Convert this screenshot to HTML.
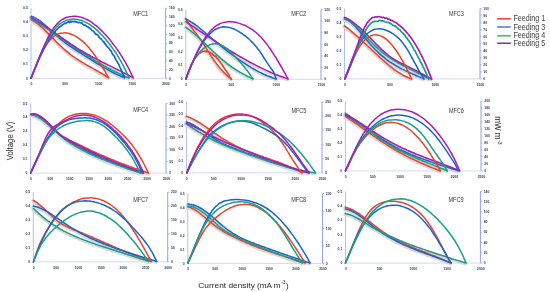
<!DOCTYPE html><html><head><meta charset="utf-8"><style>html,body{margin:0;padding:0;background:#fff;}svg{display:block;}text{font-family:"Liberation Sans",Arial,sans-serif;} .t{font-weight:bold;}</style></head><body>
<svg width="550" height="292" viewBox="0 0 550 292">
<rect width="550" height="292" fill="#fff"/>
<g><line x1="31.00" y1="78.40" x2="165.60" y2="78.40" stroke="#d3d9f3" stroke-width="1"/><line x1="31.00" y1="8.20" x2="31.00" y2="78.40" stroke="#b3c0ec" stroke-width="1"/><line x1="165.60" y1="8.20" x2="165.60" y2="78.40" stroke="#8ea4e4" stroke-width="1"/><line x1="165.60" y1="78.40" x2="167.10" y2="78.40" stroke="#8ea4e4" stroke-width="0.8"/><text x="168.90" y="79.50" font-size="4.40" fill="#3a4060" class="t" textLength="1.88" lengthAdjust="spacingAndGlyphs">0</text><line x1="165.60" y1="69.62" x2="167.10" y2="69.62" stroke="#8ea4e4" stroke-width="0.8"/><text x="168.90" y="70.72" font-size="4.40" fill="#3a4060" class="t" textLength="3.77" lengthAdjust="spacingAndGlyphs">20</text><line x1="165.60" y1="60.85" x2="167.10" y2="60.85" stroke="#8ea4e4" stroke-width="0.8"/><text x="168.90" y="61.95" font-size="4.40" fill="#3a4060" class="t" textLength="3.77" lengthAdjust="spacingAndGlyphs">40</text><line x1="165.60" y1="52.08" x2="167.10" y2="52.08" stroke="#8ea4e4" stroke-width="0.8"/><text x="168.90" y="53.18" font-size="4.40" fill="#3a4060" class="t" textLength="3.77" lengthAdjust="spacingAndGlyphs">60</text><line x1="165.60" y1="43.30" x2="167.10" y2="43.30" stroke="#8ea4e4" stroke-width="0.8"/><text x="168.90" y="44.40" font-size="4.40" fill="#3a4060" class="t" textLength="3.77" lengthAdjust="spacingAndGlyphs">80</text><line x1="165.60" y1="34.53" x2="167.10" y2="34.53" stroke="#8ea4e4" stroke-width="0.8"/><text x="168.90" y="35.63" font-size="4.40" fill="#3a4060" class="t" textLength="5.65" lengthAdjust="spacingAndGlyphs">100</text><line x1="165.60" y1="25.75" x2="167.10" y2="25.75" stroke="#8ea4e4" stroke-width="0.8"/><text x="168.90" y="26.85" font-size="4.40" fill="#3a4060" class="t" textLength="5.65" lengthAdjust="spacingAndGlyphs">120</text><line x1="165.60" y1="16.98" x2="167.10" y2="16.98" stroke="#8ea4e4" stroke-width="0.8"/><text x="168.90" y="18.08" font-size="4.40" fill="#3a4060" class="t" textLength="5.65" lengthAdjust="spacingAndGlyphs">140</text><line x1="165.60" y1="8.20" x2="167.10" y2="8.20" stroke="#8ea4e4" stroke-width="0.8"/><text x="168.90" y="9.30" font-size="4.40" fill="#3a4060" class="t" textLength="5.65" lengthAdjust="spacingAndGlyphs">160</text><text x="25.92" y="79.50" font-size="4.40" fill="#3a4060" class="t" textLength="1.88" lengthAdjust="spacingAndGlyphs">0</text><text x="23.09" y="65.46" font-size="4.40" fill="#3a4060" class="t" textLength="4.71" lengthAdjust="spacingAndGlyphs">0.1</text><text x="23.09" y="51.42" font-size="4.40" fill="#3a4060" class="t" textLength="4.71" lengthAdjust="spacingAndGlyphs">0.2</text><text x="23.09" y="37.38" font-size="4.40" fill="#3a4060" class="t" textLength="4.71" lengthAdjust="spacingAndGlyphs">0.3</text><text x="23.09" y="23.34" font-size="4.40" fill="#3a4060" class="t" textLength="4.71" lengthAdjust="spacingAndGlyphs">0.4</text><text x="23.09" y="9.30" font-size="4.40" fill="#3a4060" class="t" textLength="4.71" lengthAdjust="spacingAndGlyphs">0.5</text><text x="30.46" y="85.00" font-size="4.40" fill="#3a4060" class="t" textLength="1.88" lengthAdjust="spacingAndGlyphs">0</text><text x="62.22" y="85.00" font-size="4.40" fill="#3a4060" class="t" textLength="5.65" lengthAdjust="spacingAndGlyphs">500</text><text x="94.93" y="85.00" font-size="4.40" fill="#3a4060" class="t" textLength="7.53" lengthAdjust="spacingAndGlyphs">1000</text><text x="128.58" y="85.00" font-size="4.40" fill="#3a4060" class="t" textLength="7.53" lengthAdjust="spacingAndGlyphs">1500</text><text x="162.23" y="85.00" font-size="4.40" fill="#3a4060" class="t" textLength="7.53" lengthAdjust="spacingAndGlyphs">2000</text><text x="133.20" y="16.40" font-size="6.4" fill="#363636" textLength="15.0" lengthAdjust="spacingAndGlyphs">MFC1</text><path d="M31.1 19.8 C31.6 20.1 33.2 20.9 34.3 21.5 C35.4 22.2 36.5 22.9 37.6 23.7 C38.6 24.5 39.7 25.4 40.8 26.4 C41.9 27.3 42.9 28.3 44.0 29.3 C45.1 30.4 46.1 31.4 47.2 32.5 C48.3 33.6 49.4 34.7 50.5 35.8 C51.5 36.9 52.6 38.0 53.7 39.1 C54.8 40.2 55.8 41.3 56.9 42.4 C58.0 43.5 59.0 44.5 60.1 45.5 C61.2 46.6 62.3 47.6 63.4 48.5 C64.4 49.5 65.5 50.4 66.6 51.3 C67.7 52.2 68.7 53.1 69.8 54.0 C70.9 54.8 72.0 55.6 73.0 56.4 C74.1 57.2 75.2 57.9 76.2 58.6 C77.3 59.3 78.4 60.0 79.5 60.7 C80.5 61.4 81.6 62.0 82.7 62.7 C83.8 63.3 84.9 64.0 85.9 64.6 C87.0 65.2 88.1 65.8 89.2 66.4 C90.2 67.0 91.3 67.6 92.4 68.2 C93.5 68.8 94.5 69.4 95.6 70.0 C96.7 70.6 97.8 71.2 98.8 71.8 C99.9 72.4 101.0 73.1 102.1 73.7 C103.1 74.4 104.2 75.0 105.3 75.7 C106.4 76.4 108.0 77.4 108.5 77.8" fill="none" stroke="#d8d8d8" stroke-width="3.2" stroke-linejoin="round" stroke-linecap="round" transform="translate(-0.6,0.8)"/><path d="M31.1 18.7 C31.6 19.0 33.2 20.0 34.3 20.6 C35.3 21.3 36.4 21.9 37.4 22.6 C38.5 23.3 39.5 23.9 40.6 24.6 C41.6 25.3 42.7 26.0 43.7 26.7 C44.8 27.3 45.8 28.0 46.9 28.7 C47.9 29.4 49.0 30.1 50.0 30.8 C51.1 31.5 52.2 32.3 53.2 33.0 C54.3 33.7 55.3 34.4 56.4 35.1 C57.4 35.8 58.5 36.5 59.5 37.3 C60.6 38.0 61.6 38.7 62.7 39.4 C63.7 40.1 64.8 40.8 65.8 41.6 C66.9 42.3 67.9 43.0 69.0 43.7 C70.0 44.4 71.1 45.1 72.2 45.8 C73.2 46.6 74.3 47.3 75.3 48.0 C76.4 48.7 77.4 49.4 78.5 50.1 C79.5 50.7 80.6 51.4 81.6 52.1 C82.7 52.8 83.7 53.5 84.8 54.2 C85.8 54.8 86.9 55.5 87.9 56.2 C89.0 56.8 90.1 57.5 91.1 58.1 C92.2 58.8 93.2 59.4 94.3 60.0 C95.3 60.7 96.4 61.3 97.4 61.9 C98.5 62.5 99.5 63.2 100.6 63.8 C101.6 64.4 102.7 65.0 103.7 65.6 C104.8 66.2 105.8 66.7 106.9 67.3 C107.9 67.9 109.0 68.5 110.1 69.0 C111.1 69.6 112.2 70.1 113.2 70.7 C114.3 71.2 115.3 71.7 116.4 72.2 C117.4 72.8 118.5 73.3 119.5 73.8 C120.6 74.3 121.6 74.8 122.7 75.2 C123.7 75.7 124.8 76.2 125.8 76.7 C126.9 77.1 128.5 77.8 129.0 78.0" fill="none" stroke="#d8d8d8" stroke-width="3.2" stroke-linejoin="round" stroke-linecap="round" transform="translate(-0.6,0.8)"/><path d="M31.1 16.3 C31.6 16.5 33.2 16.9 34.2 17.4 C35.3 17.8 36.3 18.4 37.3 19.1 C38.4 19.7 39.4 20.5 40.4 21.2 C41.5 22.0 42.5 22.9 43.6 23.8 C44.6 24.7 45.6 25.6 46.7 26.6 C47.7 27.5 48.7 28.5 49.8 29.5 C50.8 30.4 51.9 31.4 52.9 32.4 C53.9 33.3 55.0 34.3 56.0 35.2 C57.0 36.1 58.1 37.0 59.1 37.9 C60.2 38.8 61.2 39.6 62.2 40.5 C63.3 41.3 64.3 42.1 65.3 42.8 C66.4 43.6 67.4 44.3 68.5 45.1 C69.5 45.8 70.5 46.5 71.6 47.2 C72.6 47.9 73.6 48.6 74.7 49.3 C75.7 49.9 76.8 50.6 77.8 51.3 C78.8 51.9 79.9 52.6 80.9 53.2 C82.0 53.9 83.0 54.6 84.0 55.2 C85.1 55.9 86.1 56.6 87.1 57.2 C88.2 57.9 89.2 58.5 90.3 59.2 C91.3 59.8 92.3 60.5 93.4 61.1 C94.4 61.8 95.4 62.4 96.5 63.1 C97.5 63.7 98.6 64.3 99.6 64.9 C100.6 65.6 101.7 66.2 102.7 66.8 C103.7 67.4 104.8 68.0 105.8 68.6 C106.9 69.2 107.9 69.7 108.9 70.3 C110.0 70.9 111.0 71.4 112.0 72.0 C113.1 72.5 114.1 73.0 115.2 73.6 C116.2 74.1 117.2 74.6 118.3 75.1 C119.3 75.5 120.3 76.0 121.4 76.5 C122.4 76.9 124.0 77.6 124.5 77.8" fill="none" stroke="#d8d8d8" stroke-width="3.2" stroke-linejoin="round" stroke-linecap="round" transform="translate(-0.6,0.8)"/><path d="M31.1 17.5 C31.6 17.8 33.2 18.6 34.2 19.2 C35.2 19.8 36.3 20.5 37.3 21.1 C38.3 21.7 39.4 22.4 40.4 23.0 C41.4 23.7 42.4 24.3 43.5 25.0 C44.5 25.7 45.5 26.4 46.6 27.1 C47.6 27.8 48.6 28.5 49.7 29.2 C50.7 29.9 51.7 30.6 52.8 31.3 C53.8 32.0 54.8 32.8 55.9 33.5 C56.9 34.2 57.9 34.9 58.9 35.7 C60.0 36.4 61.0 37.1 62.0 37.8 C63.1 38.6 64.1 39.3 65.1 40.0 C66.2 40.7 67.2 41.4 68.2 42.1 C69.3 42.9 70.3 43.6 71.3 44.3 C72.4 44.9 73.4 45.6 74.4 46.3 C75.4 47.0 76.5 47.7 77.5 48.3 C78.5 49.0 79.6 49.6 80.6 50.3 C81.6 50.9 82.7 51.5 83.7 52.1 C84.7 52.7 85.8 53.3 86.8 53.9 C87.8 54.5 88.9 55.1 89.9 55.6 C90.9 56.2 91.9 56.7 93.0 57.3 C94.0 57.8 95.0 58.4 96.1 58.9 C97.1 59.4 98.1 60.0 99.2 60.5 C100.2 61.0 101.2 61.5 102.3 62.1 C103.3 62.6 104.3 63.1 105.4 63.6 C106.4 64.1 107.4 64.6 108.4 65.1 C109.5 65.6 110.5 66.1 111.5 66.6 C112.6 67.1 113.6 67.6 114.6 68.1 C115.7 68.7 116.7 69.2 117.7 69.7 C118.8 70.2 119.8 70.7 120.8 71.2 C121.9 71.8 122.9 72.3 123.9 72.8 C124.9 73.3 126.0 73.9 127.0 74.4 C128.0 75.0 129.1 75.5 130.1 76.1 C131.1 76.6 132.7 77.5 133.2 77.8" fill="none" stroke="#d8d8d8" stroke-width="3.2" stroke-linejoin="round" stroke-linecap="round" transform="translate(-0.6,0.8)"/><path d="M31.1 19.8 C31.6 20.1 33.2 20.9 34.3 21.5 C35.4 22.2 36.5 22.9 37.6 23.7 C38.6 24.5 39.7 25.4 40.8 26.4 C41.9 27.3 42.9 28.3 44.0 29.3 C45.1 30.4 46.1 31.4 47.2 32.5 C48.3 33.6 49.4 34.7 50.5 35.8 C51.5 36.9 52.6 38.0 53.7 39.1 C54.8 40.2 55.8 41.3 56.9 42.4 C58.0 43.5 59.0 44.5 60.1 45.5 C61.2 46.6 62.3 47.6 63.4 48.5 C64.4 49.5 65.5 50.4 66.6 51.3 C67.7 52.2 68.7 53.1 69.8 54.0 C70.9 54.8 72.0 55.6 73.0 56.4 C74.1 57.2 75.2 57.9 76.2 58.6 C77.3 59.3 78.4 60.0 79.5 60.7 C80.5 61.4 81.6 62.0 82.7 62.7 C83.8 63.3 84.9 64.0 85.9 64.6 C87.0 65.2 88.1 65.8 89.2 66.4 C90.2 67.0 91.3 67.6 92.4 68.2 C93.5 68.8 94.5 69.4 95.6 70.0 C96.7 70.6 97.8 71.2 98.8 71.8 C99.9 72.4 101.0 73.1 102.1 73.7 C103.1 74.4 104.2 75.0 105.3 75.7 C106.4 76.4 108.0 77.4 108.5 77.8" fill="none" stroke="#f0402a" stroke-width="1.5" stroke-linejoin="round" stroke-linecap="round"/><path d="M31.1 16.3 C31.6 16.5 33.2 16.9 34.2 17.4 C35.3 17.8 36.3 18.4 37.3 19.1 C38.4 19.7 39.4 20.5 40.4 21.2 C41.5 22.0 42.5 22.9 43.6 23.8 C44.6 24.7 45.6 25.6 46.7 26.6 C47.7 27.5 48.7 28.5 49.8 29.5 C50.8 30.4 51.9 31.4 52.9 32.4 C53.9 33.3 55.0 34.3 56.0 35.2 C57.0 36.1 58.1 37.0 59.1 37.9 C60.2 38.8 61.2 39.6 62.2 40.5 C63.3 41.3 64.3 42.1 65.3 42.8 C66.4 43.6 67.4 44.3 68.5 45.1 C69.5 45.8 70.5 46.5 71.6 47.2 C72.6 47.9 73.6 48.6 74.7 49.3 C75.7 49.9 76.8 50.6 77.8 51.3 C78.8 51.9 79.9 52.6 80.9 53.2 C82.0 53.9 83.0 54.6 84.0 55.2 C85.1 55.9 86.1 56.6 87.1 57.2 C88.2 57.9 89.2 58.5 90.3 59.2 C91.3 59.8 92.3 60.5 93.4 61.1 C94.4 61.8 95.4 62.4 96.5 63.1 C97.5 63.7 98.6 64.3 99.6 64.9 C100.6 65.6 101.7 66.2 102.7 66.8 C103.7 67.4 104.8 68.0 105.8 68.6 C106.9 69.2 107.9 69.7 108.9 70.3 C110.0 70.9 111.0 71.4 112.0 72.0 C113.1 72.5 114.1 73.0 115.2 73.6 C116.2 74.1 117.2 74.6 118.3 75.1 C119.3 75.5 120.3 76.0 121.4 76.5 C122.4 76.9 124.0 77.6 124.5 77.8" fill="none" stroke="#1765cf" stroke-width="1.5" stroke-linejoin="round" stroke-linecap="round"/><path d="M31.1 18.7 C31.6 19.0 33.2 20.0 34.3 20.6 C35.3 21.3 36.4 21.9 37.4 22.6 C38.5 23.3 39.5 23.9 40.6 24.6 C41.6 25.3 42.7 26.0 43.7 26.7 C44.8 27.3 45.8 28.0 46.9 28.7 C47.9 29.4 49.0 30.1 50.0 30.8 C51.1 31.5 52.2 32.3 53.2 33.0 C54.3 33.7 55.3 34.4 56.4 35.1 C57.4 35.8 58.5 36.5 59.5 37.3 C60.6 38.0 61.6 38.7 62.7 39.4 C63.7 40.1 64.8 40.8 65.8 41.6 C66.9 42.3 67.9 43.0 69.0 43.7 C70.0 44.4 71.1 45.1 72.2 45.8 C73.2 46.6 74.3 47.3 75.3 48.0 C76.4 48.7 77.4 49.4 78.5 50.1 C79.5 50.7 80.6 51.4 81.6 52.1 C82.7 52.8 83.7 53.5 84.8 54.2 C85.8 54.8 86.9 55.5 87.9 56.2 C89.0 56.8 90.1 57.5 91.1 58.1 C92.2 58.8 93.2 59.4 94.3 60.0 C95.3 60.7 96.4 61.3 97.4 61.9 C98.5 62.5 99.5 63.2 100.6 63.8 C101.6 64.4 102.7 65.0 103.7 65.6 C104.8 66.2 105.8 66.7 106.9 67.3 C107.9 67.9 109.0 68.5 110.1 69.0 C111.1 69.6 112.2 70.1 113.2 70.7 C114.3 71.2 115.3 71.7 116.4 72.2 C117.4 72.8 118.5 73.3 119.5 73.8 C120.6 74.3 121.6 74.8 122.7 75.2 C123.7 75.7 124.8 76.2 125.8 76.7 C126.9 77.1 128.5 77.8 129.0 78.0" fill="none" stroke="#16a085" stroke-width="1.5" stroke-linejoin="round" stroke-linecap="round"/><path d="M31.1 17.5 C31.6 17.8 33.2 18.6 34.2 19.2 C35.2 19.8 36.3 20.5 37.3 21.1 C38.3 21.7 39.4 22.4 40.4 23.0 C41.4 23.7 42.4 24.3 43.5 25.0 C44.5 25.7 45.5 26.4 46.6 27.1 C47.6 27.8 48.6 28.5 49.7 29.2 C50.7 29.9 51.7 30.6 52.8 31.3 C53.8 32.0 54.8 32.8 55.9 33.5 C56.9 34.2 57.9 34.9 58.9 35.7 C60.0 36.4 61.0 37.1 62.0 37.8 C63.1 38.6 64.1 39.3 65.1 40.0 C66.2 40.7 67.2 41.4 68.2 42.1 C69.3 42.9 70.3 43.6 71.3 44.3 C72.4 44.9 73.4 45.6 74.4 46.3 C75.4 47.0 76.5 47.7 77.5 48.3 C78.5 49.0 79.6 49.6 80.6 50.3 C81.6 50.9 82.7 51.5 83.7 52.1 C84.7 52.7 85.8 53.3 86.8 53.9 C87.8 54.5 88.9 55.1 89.9 55.6 C90.9 56.2 91.9 56.7 93.0 57.3 C94.0 57.8 95.0 58.4 96.1 58.9 C97.1 59.4 98.1 60.0 99.2 60.5 C100.2 61.0 101.2 61.5 102.3 62.1 C103.3 62.6 104.3 63.1 105.4 63.6 C106.4 64.1 107.4 64.6 108.4 65.1 C109.5 65.6 110.5 66.1 111.5 66.6 C112.6 67.1 113.6 67.6 114.6 68.1 C115.7 68.7 116.7 69.2 117.7 69.7 C118.8 70.2 119.8 70.7 120.8 71.2 C121.9 71.8 122.9 72.3 123.9 72.8 C124.9 73.3 126.0 73.9 127.0 74.4 C128.0 75.0 129.1 75.5 130.1 76.1 C131.1 76.6 132.7 77.5 133.2 77.8" fill="none" stroke="#ac1ab8" stroke-width="1.5" stroke-linejoin="round" stroke-linecap="round"/><path d="M31.1 78.2 C31.6 76.9 33.2 72.8 34.3 70.2 C35.4 67.6 36.5 65.0 37.6 62.5 C38.6 60.0 39.7 57.6 40.8 55.3 C41.9 53.1 42.9 50.9 44.0 48.9 C45.1 47.0 46.1 45.2 47.2 43.6 C48.3 42.0 49.4 40.6 50.5 39.4 C51.5 38.2 52.6 37.2 53.7 36.3 C54.8 35.5 55.8 34.9 56.9 34.4 C58.0 33.8 59.0 33.5 60.1 33.3 C61.2 33.0 62.3 32.9 63.4 32.9 C64.4 32.8 65.5 32.9 66.6 33.0 C67.7 33.2 68.7 33.4 69.8 33.7 C70.9 34.1 72.0 34.5 73.0 34.9 C74.1 35.4 75.2 36.0 76.2 36.6 C77.3 37.3 78.4 38.0 79.5 38.8 C80.5 39.6 81.6 40.5 82.7 41.4 C83.8 42.4 84.9 43.4 85.9 44.5 C87.0 45.6 88.1 46.8 89.2 48.1 C90.2 49.3 91.3 50.6 92.4 52.0 C93.5 53.4 94.5 54.9 95.6 56.4 C96.7 57.9 97.8 59.5 98.8 61.2 C99.9 62.8 101.0 64.5 102.1 66.3 C103.1 68.1 104.2 70.0 105.3 71.9 C106.4 73.8 108.0 76.8 108.5 77.8" fill="none" stroke="#f0402a" stroke-width="1.5" stroke-linejoin="round" stroke-linecap="round"/><polyline points="31.1,78.2 31.9,76.1 32.7,74.0 33.5,72.0 34.3,69.9 35.1,68.0 35.9,66.0 36.7,64.1 37.5,62.2 38.3,60.4 39.1,58.6 39.9,56.8 40.7,55.1 41.5,53.5 42.3,51.8 43.1,50.2 43.9,48.6 44.7,47.2 45.5,45.7 46.3,44.2 47.1,42.9 47.9,41.6 48.7,40.2 49.5,38.9 50.3,37.7 51.1,36.6 51.9,35.5 52.7,34.3 53.5,33.3 54.3,32.4 55.1,31.4 55.9,30.4 56.7,29.6 57.5,28.9 58.3,28.1 59.1,27.3 59.9,26.7 60.7,26.1 61.5,25.5 62.3,24.9 63.1,24.4 63.9,24.0 64.7,23.2 65.5,23.5 66.3,23.0 67.1,22.5 67.9,22.4 68.7,21.5 69.5,22.3 70.3,21.4 71.1,22.1 71.9,21.2 72.7,21.6 73.5,21.8 74.3,21.3 75.1,21.8 75.9,21.7 76.7,22.2 77.5,22.2 78.3,22.7 79.1,22.3 79.9,22.6 80.7,22.5 81.5,23.2 82.3,23.2 83.1,24.6 83.9,24.9 84.7,25.1 85.5,25.2 86.3,26.2 87.1,26.6 87.9,26.7 88.7,27.8 89.5,27.8 90.3,28.8 91.1,29.2 91.9,30.4 92.7,30.8 93.5,31.1 94.3,32.4 95.1,33.4 95.9,34.4 96.7,34.2 97.5,35.0 98.3,35.7 99.1,37.1 99.9,38.1 100.7,38.5 101.5,39.6 102.3,40.1 103.1,41.6 103.9,41.9 104.7,43.6 105.5,43.8 106.3,45.6 107.1,46.3 107.9,47.4 108.7,48.0 109.5,49.0 110.3,50.4 111.1,51.0 111.9,52.9 112.7,54.3 113.5,55.4 114.3,56.1 115.1,58.1 115.9,59.7 116.7,61.0 117.5,62.2 118.3,64.0 119.1,65.1 119.9,67.3 120.7,68.7 121.5,70.3 122.3,72.9 123.1,74.4 123.9,76.3 124.5,77.8" fill="none" stroke="#1765cf" stroke-width="1.7" stroke-linejoin="round" stroke-linecap="round"/><path d="M31.1 78.2 C31.6 76.8 33.2 72.5 34.3 69.8 C35.3 67.1 36.4 64.4 37.4 61.8 C38.5 59.2 39.5 56.6 40.6 54.2 C41.6 51.8 42.7 49.4 43.7 47.2 C44.8 45.0 45.8 42.9 46.9 41.0 C47.9 39.0 49.0 37.2 50.0 35.5 C51.1 33.8 52.2 32.3 53.2 30.9 C54.3 29.5 55.3 28.3 56.4 27.2 C57.4 26.0 58.5 25.1 59.5 24.2 C60.6 23.4 61.6 22.7 62.7 22.1 C63.7 21.5 64.8 21.0 65.8 20.6 C66.9 20.2 67.9 19.9 69.0 19.7 C70.0 19.4 71.1 19.3 72.2 19.2 C73.2 19.1 74.3 19.1 75.3 19.2 C76.4 19.3 77.4 19.4 78.5 19.7 C79.5 19.9 80.6 20.2 81.6 20.5 C82.7 20.9 83.7 21.3 84.8 21.8 C85.8 22.3 86.9 22.8 87.9 23.4 C89.0 24.0 90.1 24.7 91.1 25.5 C92.2 26.2 93.2 27.0 94.3 27.9 C95.3 28.7 96.4 29.6 97.4 30.6 C98.5 31.6 99.5 32.6 100.6 33.7 C101.6 34.8 102.7 35.9 103.7 37.1 C104.8 38.3 105.8 39.5 106.9 40.8 C107.9 42.1 109.0 43.4 110.1 44.8 C111.1 46.2 112.2 47.6 113.2 49.1 C114.3 50.6 115.3 52.2 116.4 53.8 C117.4 55.4 118.5 57.1 119.5 58.9 C120.6 60.7 121.6 62.6 122.7 64.6 C123.7 66.6 124.8 68.7 125.8 70.9 C126.9 73.2 128.5 76.8 129.0 78.0" fill="none" stroke="#16a085" stroke-width="1.5" stroke-linejoin="round" stroke-linecap="round"/><path d="M31.1 78.2 C31.6 76.9 33.2 73.0 34.2 70.4 C35.2 67.8 36.3 65.1 37.3 62.5 C38.3 59.9 39.4 57.3 40.4 54.7 C41.4 52.2 42.4 49.7 43.5 47.3 C44.5 44.9 45.5 42.6 46.6 40.5 C47.6 38.4 48.6 36.4 49.7 34.5 C50.7 32.7 51.7 31.0 52.8 29.4 C53.8 27.9 54.8 26.5 55.9 25.3 C56.9 24.1 57.9 23.1 58.9 22.1 C60.0 21.2 61.0 20.4 62.0 19.7 C63.1 19.0 64.1 18.5 65.1 18.0 C66.2 17.6 67.2 17.2 68.2 17.0 C69.3 16.7 70.3 16.5 71.3 16.4 C72.4 16.2 73.4 16.2 74.4 16.2 C75.4 16.2 76.5 16.3 77.5 16.5 C78.5 16.6 79.6 16.8 80.6 17.1 C81.6 17.4 82.7 17.7 83.7 18.1 C84.7 18.5 85.8 19.0 86.8 19.5 C87.8 20.0 88.9 20.6 89.9 21.2 C90.9 21.9 91.9 22.6 93.0 23.3 C94.0 24.1 95.0 24.9 96.1 25.7 C97.1 26.5 98.1 27.4 99.2 28.4 C100.2 29.3 101.2 30.3 102.3 31.4 C103.3 32.4 104.3 33.5 105.4 34.6 C106.4 35.8 107.4 36.9 108.4 38.1 C109.5 39.3 110.5 40.6 111.5 41.9 C112.6 43.2 113.6 44.5 114.6 45.9 C115.7 47.3 116.7 48.7 117.7 50.2 C118.8 51.7 119.8 53.2 120.8 54.8 C121.9 56.4 122.9 58.1 123.9 59.9 C124.9 61.6 126.0 63.4 127.0 65.3 C128.0 67.2 129.1 69.2 130.1 71.3 C131.1 73.4 132.7 76.7 133.2 77.8" fill="none" stroke="#ac1ab8" stroke-width="1.5" stroke-linejoin="round" stroke-linecap="round"/></g>
<g><line x1="185.80" y1="79.30" x2="321.00" y2="79.30" stroke="#d3d9f3" stroke-width="1"/><line x1="185.80" y1="9.60" x2="185.80" y2="79.30" stroke="#b3c0ec" stroke-width="1"/><line x1="321.00" y1="9.60" x2="321.00" y2="79.30" stroke="#8ea4e4" stroke-width="1"/><line x1="321.00" y1="79.30" x2="322.50" y2="79.30" stroke="#8ea4e4" stroke-width="0.8"/><text x="324.30" y="80.40" font-size="4.40" fill="#3a4060" class="t" textLength="1.88" lengthAdjust="spacingAndGlyphs">0</text><line x1="321.00" y1="67.68" x2="322.50" y2="67.68" stroke="#8ea4e4" stroke-width="0.8"/><text x="324.30" y="68.78" font-size="4.40" fill="#3a4060" class="t" textLength="3.77" lengthAdjust="spacingAndGlyphs">20</text><line x1="321.00" y1="56.07" x2="322.50" y2="56.07" stroke="#8ea4e4" stroke-width="0.8"/><text x="324.30" y="57.17" font-size="4.40" fill="#3a4060" class="t" textLength="3.77" lengthAdjust="spacingAndGlyphs">40</text><line x1="321.00" y1="44.45" x2="322.50" y2="44.45" stroke="#8ea4e4" stroke-width="0.8"/><text x="324.30" y="45.55" font-size="4.40" fill="#3a4060" class="t" textLength="3.77" lengthAdjust="spacingAndGlyphs">60</text><line x1="321.00" y1="32.83" x2="322.50" y2="32.83" stroke="#8ea4e4" stroke-width="0.8"/><text x="324.30" y="33.93" font-size="4.40" fill="#3a4060" class="t" textLength="3.77" lengthAdjust="spacingAndGlyphs">80</text><line x1="321.00" y1="21.22" x2="322.50" y2="21.22" stroke="#8ea4e4" stroke-width="0.8"/><text x="324.30" y="22.32" font-size="4.40" fill="#3a4060" class="t" textLength="5.65" lengthAdjust="spacingAndGlyphs">100</text><line x1="321.00" y1="9.60" x2="322.50" y2="9.60" stroke="#8ea4e4" stroke-width="0.8"/><text x="324.30" y="10.70" font-size="4.40" fill="#3a4060" class="t" textLength="5.65" lengthAdjust="spacingAndGlyphs">120</text><text x="180.72" y="80.40" font-size="4.40" fill="#3a4060" class="t" textLength="1.88" lengthAdjust="spacingAndGlyphs">0</text><text x="177.89" y="66.46" font-size="4.40" fill="#3a4060" class="t" textLength="4.71" lengthAdjust="spacingAndGlyphs">0.1</text><text x="177.89" y="52.52" font-size="4.40" fill="#3a4060" class="t" textLength="4.71" lengthAdjust="spacingAndGlyphs">0.2</text><text x="177.89" y="38.58" font-size="4.40" fill="#3a4060" class="t" textLength="4.71" lengthAdjust="spacingAndGlyphs">0.3</text><text x="177.89" y="24.64" font-size="4.40" fill="#3a4060" class="t" textLength="4.71" lengthAdjust="spacingAndGlyphs">0.4</text><text x="177.89" y="10.70" font-size="4.40" fill="#3a4060" class="t" textLength="4.71" lengthAdjust="spacingAndGlyphs">0.5</text><text x="185.26" y="85.90" font-size="4.40" fill="#3a4060" class="t" textLength="1.88" lengthAdjust="spacingAndGlyphs">0</text><text x="228.44" y="85.90" font-size="4.40" fill="#3a4060" class="t" textLength="5.65" lengthAdjust="spacingAndGlyphs">500</text><text x="272.57" y="85.90" font-size="4.40" fill="#3a4060" class="t" textLength="7.53" lengthAdjust="spacingAndGlyphs">1000</text><text x="317.63" y="85.90" font-size="4.40" fill="#3a4060" class="t" textLength="7.53" lengthAdjust="spacingAndGlyphs">1500</text><text x="291.20" y="16.40" font-size="6.4" fill="#363636" textLength="15.0" lengthAdjust="spacingAndGlyphs">MFC2</text><path d="M185.8 27.2 C186.3 27.6 187.9 28.7 189.0 29.5 C190.1 30.3 191.1 31.2 192.2 32.1 C193.3 32.9 194.3 33.8 195.4 34.8 C196.5 35.7 197.5 36.7 198.6 37.6 C199.7 38.6 200.7 39.6 201.8 40.6 C202.9 41.6 203.9 42.6 205.0 43.6 C206.1 44.6 207.1 45.7 208.2 46.7 C209.3 47.7 210.3 48.7 211.4 49.7 C212.5 50.8 213.5 51.8 214.6 52.8 C215.7 53.8 216.7 54.8 217.8 55.7 C218.9 56.7 219.9 57.6 221.0 58.6 C222.1 59.5 223.1 60.4 224.2 61.2 C225.3 62.1 226.3 62.9 227.4 63.8 C228.5 64.6 229.5 65.3 230.6 66.1 C231.7 66.9 232.7 67.6 233.8 68.3 C234.9 69.0 235.9 69.7 237.0 70.3 C238.1 71.0 239.1 71.6 240.2 72.3 C241.3 72.9 242.3 73.5 243.4 74.1 C244.5 74.7 245.5 75.2 246.6 75.8 C247.7 76.4 248.7 76.9 249.8 77.4 C250.9 78.0 252.5 78.7 253.0 79.0" fill="none" stroke="#d8d8d8" stroke-width="3.2" stroke-linejoin="round" stroke-linecap="round" transform="translate(-0.6,0.8)"/><path d="M185.8 19.0 C186.3 19.3 187.9 20.0 188.9 20.6 C190.0 21.2 191.0 21.9 192.0 22.5 C193.1 23.2 194.1 23.9 195.2 24.7 C196.2 25.4 197.2 26.2 198.3 27.0 C199.3 27.8 200.4 28.7 201.4 29.5 C202.4 30.4 203.5 31.3 204.5 32.1 C205.6 33.0 206.6 33.9 207.6 34.8 C208.7 35.7 209.7 36.6 210.8 37.5 C211.8 38.4 212.8 39.2 213.9 40.1 C214.9 41.0 216.0 41.9 217.0 42.7 C218.0 43.6 219.1 44.4 220.1 45.3 C221.2 46.1 222.2 47.0 223.2 47.8 C224.3 48.6 225.3 49.4 226.4 50.3 C227.4 51.1 228.4 51.9 229.5 52.7 C230.5 53.5 231.6 54.2 232.6 55.0 C233.7 55.8 234.7 56.6 235.7 57.3 C236.8 58.1 237.8 58.8 238.9 59.5 C239.9 60.2 240.9 61.0 242.0 61.7 C243.0 62.4 244.1 63.1 245.1 63.7 C246.1 64.4 247.2 65.1 248.2 65.7 C249.3 66.4 250.3 67.0 251.3 67.6 C252.4 68.2 253.4 68.8 254.5 69.4 C255.5 70.0 256.5 70.6 257.6 71.1 C258.6 71.7 259.7 72.2 260.7 72.7 C261.7 73.2 262.8 73.7 263.8 74.2 C264.9 74.7 265.9 75.1 266.9 75.6 C268.0 76.0 269.0 76.4 270.1 76.8 C271.1 77.2 272.1 77.6 273.2 78.0 C274.2 78.3 275.8 78.8 276.3 79.0" fill="none" stroke="#d8d8d8" stroke-width="3.2" stroke-linejoin="round" stroke-linecap="round" transform="translate(-0.6,0.8)"/><path d="M185.8 21.7 C186.3 22.0 187.9 23.1 188.9 23.8 C189.9 24.5 191.0 25.2 192.0 25.9 C193.0 26.6 194.1 27.3 195.1 28.0 C196.1 28.6 197.2 29.3 198.2 30.0 C199.2 30.7 200.3 31.4 201.3 32.1 C202.3 32.8 203.3 33.5 204.4 34.2 C205.4 34.8 206.4 35.5 207.5 36.2 C208.5 36.9 209.5 37.6 210.6 38.2 C211.6 38.9 212.6 39.6 213.7 40.3 C214.7 40.9 215.7 41.6 216.8 42.3 C217.8 42.9 218.8 43.6 219.9 44.3 C220.9 44.9 221.9 45.6 223.0 46.2 C224.0 46.9 225.0 47.5 226.1 48.2 C227.1 48.8 228.1 49.4 229.2 50.1 C230.2 50.7 231.2 51.3 232.3 52.0 C233.3 52.6 234.3 53.2 235.4 53.8 C236.4 54.4 237.4 55.0 238.4 55.7 C239.5 56.3 240.5 56.9 241.5 57.4 C242.6 58.0 243.6 58.6 244.6 59.2 C245.7 59.8 246.7 60.4 247.7 60.9 C248.8 61.5 249.8 62.1 250.8 62.6 C251.9 63.2 252.9 63.7 253.9 64.2 C255.0 64.8 256.0 65.3 257.0 65.8 C258.1 66.4 259.1 66.9 260.1 67.4 C261.2 67.9 262.2 68.4 263.2 68.9 C264.3 69.4 265.3 69.9 266.3 70.4 C267.4 70.8 268.4 71.3 269.4 71.8 C270.5 72.2 271.5 72.7 272.5 73.1 C273.5 73.6 274.6 74.0 275.6 74.4 C276.6 74.8 277.7 75.2 278.7 75.6 C279.7 76.0 280.8 76.4 281.8 76.8 C282.8 77.2 283.9 77.6 284.9 77.9 C285.9 78.3 287.5 78.8 288.0 79.0" fill="none" stroke="#d8d8d8" stroke-width="3.2" stroke-linejoin="round" stroke-linecap="round" transform="translate(-0.6,0.8)"/><path d="M185.8 18.3 C186.3 19.2 188.0 22.1 189.1 23.8 C190.1 25.6 191.2 27.1 192.3 28.6 C193.4 30.1 194.5 31.4 195.6 32.8 C196.7 34.2 197.7 35.6 198.8 37.0 C199.9 38.5 201.0 39.9 202.1 41.5 C203.2 43.1 204.3 44.9 205.3 46.7 C206.4 48.5 207.5 50.4 208.6 52.1 C209.7 53.9 210.8 55.6 211.9 57.2 C212.9 58.9 214.0 60.4 215.1 61.9 C216.2 63.4 217.3 64.8 218.4 66.2 C219.5 67.6 220.5 68.9 221.6 70.1 C222.7 71.3 223.8 72.5 224.9 73.5 C226.0 74.6 227.1 75.6 228.1 76.6 C229.2 77.5 230.9 78.8 231.4 79.2" fill="none" stroke="#d8d8d8" stroke-width="3.2" stroke-linejoin="round" stroke-linecap="round" transform="translate(-0.6,0.8)"/><path d="M185.8 18.3 C186.3 19.2 188.0 22.1 189.1 23.8 C190.1 25.6 191.2 27.1 192.3 28.6 C193.4 30.1 194.5 31.4 195.6 32.8 C196.7 34.2 197.7 35.6 198.8 37.0 C199.9 38.5 201.0 39.9 202.1 41.5 C203.2 43.1 204.3 44.9 205.3 46.7 C206.4 48.5 207.5 50.4 208.6 52.1 C209.7 53.9 210.8 55.6 211.9 57.2 C212.9 58.9 214.0 60.4 215.1 61.9 C216.2 63.4 217.3 64.8 218.4 66.2 C219.5 67.6 220.5 68.9 221.6 70.1 C222.7 71.3 223.8 72.5 224.9 73.5 C226.0 74.6 227.1 75.6 228.1 76.6 C229.2 77.5 230.9 78.8 231.4 79.2" fill="none" stroke="#f0402a" stroke-width="1.5" stroke-linejoin="round" stroke-linecap="round"/><path d="M185.8 19.0 C186.3 19.3 187.9 20.0 188.9 20.6 C190.0 21.2 191.0 21.9 192.0 22.5 C193.1 23.2 194.1 23.9 195.2 24.7 C196.2 25.4 197.2 26.2 198.3 27.0 C199.3 27.8 200.4 28.7 201.4 29.5 C202.4 30.4 203.5 31.3 204.5 32.1 C205.6 33.0 206.6 33.9 207.6 34.8 C208.7 35.7 209.7 36.6 210.8 37.5 C211.8 38.4 212.8 39.2 213.9 40.1 C214.9 41.0 216.0 41.9 217.0 42.7 C218.0 43.6 219.1 44.4 220.1 45.3 C221.2 46.1 222.2 47.0 223.2 47.8 C224.3 48.6 225.3 49.4 226.4 50.3 C227.4 51.1 228.4 51.9 229.5 52.7 C230.5 53.5 231.6 54.2 232.6 55.0 C233.7 55.8 234.7 56.6 235.7 57.3 C236.8 58.1 237.8 58.8 238.9 59.5 C239.9 60.2 240.9 61.0 242.0 61.7 C243.0 62.4 244.1 63.1 245.1 63.7 C246.1 64.4 247.2 65.1 248.2 65.7 C249.3 66.4 250.3 67.0 251.3 67.6 C252.4 68.2 253.4 68.8 254.5 69.4 C255.5 70.0 256.5 70.6 257.6 71.1 C258.6 71.7 259.7 72.2 260.7 72.7 C261.7 73.2 262.8 73.7 263.8 74.2 C264.9 74.7 265.9 75.1 266.9 75.6 C268.0 76.0 269.0 76.4 270.1 76.8 C271.1 77.2 272.1 77.6 273.2 78.0 C274.2 78.3 275.8 78.8 276.3 79.0" fill="none" stroke="#1765cf" stroke-width="1.5" stroke-linejoin="round" stroke-linecap="round"/><path d="M185.8 27.2 C186.3 27.6 187.9 28.7 189.0 29.5 C190.1 30.3 191.1 31.2 192.2 32.1 C193.3 32.9 194.3 33.8 195.4 34.8 C196.5 35.7 197.5 36.7 198.6 37.6 C199.7 38.6 200.7 39.6 201.8 40.6 C202.9 41.6 203.9 42.6 205.0 43.6 C206.1 44.6 207.1 45.7 208.2 46.7 C209.3 47.7 210.3 48.7 211.4 49.7 C212.5 50.8 213.5 51.8 214.6 52.8 C215.7 53.8 216.7 54.8 217.8 55.7 C218.9 56.7 219.9 57.6 221.0 58.6 C222.1 59.5 223.1 60.4 224.2 61.2 C225.3 62.1 226.3 62.9 227.4 63.8 C228.5 64.6 229.5 65.3 230.6 66.1 C231.7 66.9 232.7 67.6 233.8 68.3 C234.9 69.0 235.9 69.7 237.0 70.3 C238.1 71.0 239.1 71.6 240.2 72.3 C241.3 72.9 242.3 73.5 243.4 74.1 C244.5 74.7 245.5 75.2 246.6 75.8 C247.7 76.4 248.7 76.9 249.8 77.4 C250.9 78.0 252.5 78.7 253.0 79.0" fill="none" stroke="#16a085" stroke-width="1.5" stroke-linejoin="round" stroke-linecap="round"/><path d="M185.8 21.7 C186.3 22.0 187.9 23.1 188.9 23.8 C189.9 24.5 191.0 25.2 192.0 25.9 C193.0 26.6 194.1 27.3 195.1 28.0 C196.1 28.6 197.2 29.3 198.2 30.0 C199.2 30.7 200.3 31.4 201.3 32.1 C202.3 32.8 203.3 33.5 204.4 34.2 C205.4 34.8 206.4 35.5 207.5 36.2 C208.5 36.9 209.5 37.6 210.6 38.2 C211.6 38.9 212.6 39.6 213.7 40.3 C214.7 40.9 215.7 41.6 216.8 42.3 C217.8 42.9 218.8 43.6 219.9 44.3 C220.9 44.9 221.9 45.6 223.0 46.2 C224.0 46.9 225.0 47.5 226.1 48.2 C227.1 48.8 228.1 49.4 229.2 50.1 C230.2 50.7 231.2 51.3 232.3 52.0 C233.3 52.6 234.3 53.2 235.4 53.8 C236.4 54.4 237.4 55.0 238.4 55.7 C239.5 56.3 240.5 56.9 241.5 57.4 C242.6 58.0 243.6 58.6 244.6 59.2 C245.7 59.8 246.7 60.4 247.7 60.9 C248.8 61.5 249.8 62.1 250.8 62.6 C251.9 63.2 252.9 63.7 253.9 64.2 C255.0 64.8 256.0 65.3 257.0 65.8 C258.1 66.4 259.1 66.9 260.1 67.4 C261.2 67.9 262.2 68.4 263.2 68.9 C264.3 69.4 265.3 69.9 266.3 70.4 C267.4 70.8 268.4 71.3 269.4 71.8 C270.5 72.2 271.5 72.7 272.5 73.1 C273.5 73.6 274.6 74.0 275.6 74.4 C276.6 74.8 277.7 75.2 278.7 75.6 C279.7 76.0 280.8 76.4 281.8 76.8 C282.8 77.2 283.9 77.6 284.9 77.9 C285.9 78.3 287.5 78.8 288.0 79.0" fill="none" stroke="#ac1ab8" stroke-width="1.5" stroke-linejoin="round" stroke-linecap="round"/><polyline points="185.8,79.3 186.6,77.0 187.4,74.8 188.2,72.5 189.0,70.2 189.8,68.4 190.6,66.6 191.4,64.9 192.2,63.1 193.0,61.7 193.8,60.4 194.6,59.1 195.4,57.8 196.2,56.8 197.0,55.9 197.8,55.0 198.6,53.8 199.4,53.2 200.2,53.1 201.0,52.2 201.8,52.0 202.6,51.4 203.4,51.2 204.2,51.0 205.0,51.6 205.8,50.9 206.6,51.6 207.4,51.6 208.2,51.7 209.0,51.9 209.8,52.5 210.6,53.0 211.4,53.1 212.2,53.7 213.0,54.7 213.8,55.3 214.6,56.1 215.4,56.1 216.2,57.0 217.0,58.4 217.8,59.1 218.6,60.0 219.4,61.4 220.2,62.0 221.0,63.5 221.8,64.3 222.6,65.4 223.4,66.7 224.2,68.0 225.0,69.1 225.8,70.6 226.6,71.0 227.4,72.8 228.2,73.9 229.0,75.2 229.8,76.6 230.6,77.9 231.4,79.2" fill="none" stroke="#f0402a" stroke-width="1.7" stroke-linejoin="round" stroke-linecap="round"/><path d="M185.8 79.3 C186.3 77.9 187.9 73.7 188.9 71.0 C190.0 68.4 191.0 65.8 192.0 63.4 C193.1 61.0 194.1 58.7 195.2 56.6 C196.2 54.4 197.2 52.3 198.3 50.4 C199.3 48.5 200.4 46.7 201.4 45.0 C202.4 43.3 203.5 41.7 204.5 40.2 C205.6 38.8 206.6 37.4 207.6 36.2 C208.7 35.0 209.7 33.9 210.8 32.9 C211.8 32.0 212.8 31.1 213.9 30.4 C214.9 29.6 216.0 29.0 217.0 28.5 C218.0 28.0 219.1 27.6 220.1 27.4 C221.2 27.1 222.2 26.9 223.2 26.8 C224.3 26.8 225.3 26.8 226.4 26.9 C227.4 27.0 228.4 27.2 229.5 27.5 C230.5 27.7 231.6 28.1 232.6 28.5 C233.7 28.9 234.7 29.4 235.7 29.9 C236.8 30.4 237.8 31.0 238.9 31.6 C239.9 32.3 240.9 32.9 242.0 33.6 C243.0 34.3 244.1 35.1 245.1 35.9 C246.1 36.7 247.2 37.5 248.2 38.4 C249.3 39.4 250.3 40.3 251.3 41.4 C252.4 42.4 253.4 43.5 254.5 44.7 C255.5 45.9 256.5 47.1 257.6 48.5 C258.6 49.8 259.7 51.2 260.7 52.7 C261.7 54.2 262.8 55.9 263.8 57.5 C264.9 59.1 265.9 60.8 266.9 62.4 C268.0 64.0 269.0 65.6 270.1 67.1 C271.1 68.6 272.1 69.4 273.2 71.4 C274.2 73.3 275.8 77.7 276.3 79.0" fill="none" stroke="#1765cf" stroke-width="1.5" stroke-linejoin="round" stroke-linecap="round"/><path d="M185.8 79.3 C186.3 77.8 187.9 73.1 189.0 70.5 C190.1 67.8 191.1 65.5 192.2 63.4 C193.3 61.3 194.3 59.4 195.4 57.8 C196.5 56.1 197.5 54.7 198.6 53.4 C199.7 52.1 200.7 51.0 201.8 50.0 C202.9 49.0 203.9 48.2 205.0 47.4 C206.1 46.7 207.1 46.0 208.2 45.5 C209.3 45.0 210.3 44.5 211.4 44.3 C212.5 44.0 213.5 43.8 214.6 43.8 C215.7 43.8 216.7 43.9 217.8 44.1 C218.9 44.4 219.9 44.8 221.0 45.3 C222.1 45.8 223.1 46.4 224.2 47.1 C225.3 47.8 226.3 48.6 227.4 49.4 C228.5 50.3 229.5 51.2 230.6 52.2 C231.7 53.2 232.7 54.3 233.8 55.4 C234.9 56.4 235.9 57.6 237.0 58.7 C238.1 59.9 239.1 61.0 240.2 62.2 C241.3 63.4 242.3 64.6 243.4 65.9 C244.5 67.1 245.5 68.4 246.6 69.8 C247.7 71.2 248.7 72.6 249.8 74.1 C250.9 75.7 252.5 78.2 253.0 79.0" fill="none" stroke="#16a085" stroke-width="1.5" stroke-linejoin="round" stroke-linecap="round"/><path d="M185.8 79.3 C186.3 78.0 187.9 74.0 188.9 71.4 C189.9 68.8 191.0 66.3 192.0 63.8 C193.0 61.3 194.1 58.9 195.1 56.6 C196.1 54.3 197.2 52.1 198.2 50.0 C199.2 47.9 200.3 45.9 201.3 44.0 C202.3 42.2 203.3 40.4 204.4 38.8 C205.4 37.2 206.4 35.8 207.5 34.4 C208.5 33.1 209.5 31.9 210.6 30.8 C211.6 29.6 212.6 28.7 213.7 27.8 C214.7 26.9 215.7 26.1 216.8 25.4 C217.8 24.8 218.8 24.2 219.9 23.7 C220.9 23.2 221.9 22.9 223.0 22.6 C224.0 22.2 225.0 22.0 226.1 21.9 C227.1 21.7 228.1 21.7 229.2 21.6 C230.2 21.6 231.2 21.7 232.3 21.8 C233.3 21.9 234.3 22.1 235.4 22.3 C236.4 22.5 237.4 22.8 238.4 23.1 C239.5 23.4 240.5 23.7 241.5 24.1 C242.6 24.5 243.6 24.9 244.6 25.3 C245.7 25.8 246.7 26.3 247.7 26.8 C248.8 27.4 249.8 28.0 250.8 28.7 C251.9 29.3 252.9 30.0 253.9 30.8 C255.0 31.6 256.0 32.4 257.0 33.3 C258.1 34.2 259.1 35.2 260.1 36.3 C261.2 37.3 262.2 38.5 263.2 39.7 C264.3 40.9 265.3 42.2 266.3 43.6 C267.4 44.9 268.4 46.3 269.4 47.8 C270.5 49.3 271.5 50.8 272.5 52.4 C273.5 54.0 274.6 55.6 275.6 57.2 C276.6 58.9 277.7 60.6 278.7 62.3 C279.7 64.1 280.8 65.9 281.8 67.7 C282.8 69.5 283.9 71.3 284.9 73.2 C285.9 75.1 287.5 78.0 288.0 79.0" fill="none" stroke="#ac1ab8" stroke-width="1.5" stroke-linejoin="round" stroke-linecap="round"/></g>
<g><line x1="344.50" y1="78.90" x2="480.00" y2="78.90" stroke="#d3d9f3" stroke-width="1"/><line x1="344.50" y1="8.60" x2="344.50" y2="78.90" stroke="#b3c0ec" stroke-width="1"/><line x1="480.00" y1="8.60" x2="480.00" y2="78.90" stroke="#8ea4e4" stroke-width="1"/><line x1="480.00" y1="78.90" x2="481.50" y2="78.90" stroke="#8ea4e4" stroke-width="0.8"/><text x="483.30" y="80.00" font-size="4.40" fill="#3a4060" class="t" textLength="1.88" lengthAdjust="spacingAndGlyphs">0</text><line x1="480.00" y1="71.87" x2="481.50" y2="71.87" stroke="#8ea4e4" stroke-width="0.8"/><text x="483.30" y="72.97" font-size="4.40" fill="#3a4060" class="t" textLength="3.77" lengthAdjust="spacingAndGlyphs">10</text><line x1="480.00" y1="64.84" x2="481.50" y2="64.84" stroke="#8ea4e4" stroke-width="0.8"/><text x="483.30" y="65.94" font-size="4.40" fill="#3a4060" class="t" textLength="3.77" lengthAdjust="spacingAndGlyphs">20</text><line x1="480.00" y1="57.81" x2="481.50" y2="57.81" stroke="#8ea4e4" stroke-width="0.8"/><text x="483.30" y="58.91" font-size="4.40" fill="#3a4060" class="t" textLength="3.77" lengthAdjust="spacingAndGlyphs">30</text><line x1="480.00" y1="50.78" x2="481.50" y2="50.78" stroke="#8ea4e4" stroke-width="0.8"/><text x="483.30" y="51.88" font-size="4.40" fill="#3a4060" class="t" textLength="3.77" lengthAdjust="spacingAndGlyphs">40</text><line x1="480.00" y1="43.75" x2="481.50" y2="43.75" stroke="#8ea4e4" stroke-width="0.8"/><text x="483.30" y="44.85" font-size="4.40" fill="#3a4060" class="t" textLength="3.77" lengthAdjust="spacingAndGlyphs">50</text><line x1="480.00" y1="36.72" x2="481.50" y2="36.72" stroke="#8ea4e4" stroke-width="0.8"/><text x="483.30" y="37.82" font-size="4.40" fill="#3a4060" class="t" textLength="3.77" lengthAdjust="spacingAndGlyphs">60</text><line x1="480.00" y1="29.69" x2="481.50" y2="29.69" stroke="#8ea4e4" stroke-width="0.8"/><text x="483.30" y="30.79" font-size="4.40" fill="#3a4060" class="t" textLength="3.77" lengthAdjust="spacingAndGlyphs">70</text><line x1="480.00" y1="22.66" x2="481.50" y2="22.66" stroke="#8ea4e4" stroke-width="0.8"/><text x="483.30" y="23.76" font-size="4.40" fill="#3a4060" class="t" textLength="3.77" lengthAdjust="spacingAndGlyphs">80</text><line x1="480.00" y1="15.63" x2="481.50" y2="15.63" stroke="#8ea4e4" stroke-width="0.8"/><text x="483.30" y="16.73" font-size="4.40" fill="#3a4060" class="t" textLength="3.77" lengthAdjust="spacingAndGlyphs">90</text><line x1="480.00" y1="8.60" x2="481.50" y2="8.60" stroke="#8ea4e4" stroke-width="0.8"/><text x="483.30" y="9.70" font-size="4.40" fill="#3a4060" class="t" textLength="5.65" lengthAdjust="spacingAndGlyphs">100</text><text x="339.42" y="80.00" font-size="4.40" fill="#3a4060" class="t" textLength="1.88" lengthAdjust="spacingAndGlyphs">0</text><text x="336.59" y="65.94" font-size="4.40" fill="#3a4060" class="t" textLength="4.71" lengthAdjust="spacingAndGlyphs">0.1</text><text x="336.59" y="51.88" font-size="4.40" fill="#3a4060" class="t" textLength="4.71" lengthAdjust="spacingAndGlyphs">0.2</text><text x="336.59" y="37.82" font-size="4.40" fill="#3a4060" class="t" textLength="4.71" lengthAdjust="spacingAndGlyphs">0.3</text><text x="336.59" y="23.76" font-size="4.40" fill="#3a4060" class="t" textLength="4.71" lengthAdjust="spacingAndGlyphs">0.4</text><text x="336.59" y="9.70" font-size="4.40" fill="#3a4060" class="t" textLength="4.71" lengthAdjust="spacingAndGlyphs">0.5</text><text x="343.96" y="85.50" font-size="4.40" fill="#3a4060" class="t" textLength="1.88" lengthAdjust="spacingAndGlyphs">0</text><text x="387.24" y="85.50" font-size="4.40" fill="#3a4060" class="t" textLength="5.65" lengthAdjust="spacingAndGlyphs">500</text><text x="431.47" y="85.50" font-size="4.40" fill="#3a4060" class="t" textLength="7.53" lengthAdjust="spacingAndGlyphs">1000</text><text x="476.63" y="85.50" font-size="4.40" fill="#3a4060" class="t" textLength="7.53" lengthAdjust="spacingAndGlyphs">1500</text><text x="448.90" y="16.40" font-size="6.4" fill="#363636" textLength="15.0" lengthAdjust="spacingAndGlyphs">MFC3</text><path d="M344.5 25.8 C345.0 26.2 346.6 27.4 347.7 28.2 C348.8 29.1 349.8 29.9 350.9 30.8 C352.0 31.7 353.0 32.6 354.1 33.6 C355.2 34.5 356.2 35.4 357.3 36.4 C358.4 37.3 359.4 38.3 360.5 39.3 C361.6 40.3 362.6 41.3 363.7 42.3 C364.8 43.3 365.8 44.3 366.9 45.3 C368.0 46.3 369.0 47.3 370.1 48.3 C371.2 49.3 372.2 50.3 373.3 51.3 C374.4 52.3 375.4 53.3 376.5 54.3 C377.6 55.3 378.6 56.3 379.7 57.3 C380.8 58.2 381.8 59.2 382.9 60.1 C384.0 61.1 385.0 62.0 386.1 62.9 C387.2 63.8 388.2 64.7 389.3 65.6 C390.4 66.4 391.4 67.3 392.5 68.1 C393.6 68.9 394.6 69.7 395.7 70.4 C396.8 71.2 397.8 71.9 398.9 72.6 C400.0 73.3 401.0 74.0 402.1 74.6 C403.2 75.2 404.2 75.8 405.3 76.3 C406.4 76.8 407.4 77.3 408.5 77.8 C409.6 78.2 411.2 78.8 411.7 79.0" fill="none" stroke="#d8d8d8" stroke-width="3.2" stroke-linejoin="round" stroke-linecap="round" transform="translate(-0.6,0.8)"/><path d="M344.5 18.9 C345.0 19.1 346.6 19.7 347.7 20.2 C348.7 20.8 349.8 21.6 350.9 22.4 C351.9 23.3 353.0 24.3 354.0 25.3 C355.1 26.3 356.2 27.5 357.2 28.7 C358.3 29.8 359.3 31.1 360.4 32.4 C361.5 33.6 362.5 34.9 363.6 36.2 C364.6 37.5 365.7 38.8 366.8 40.1 C367.8 41.3 368.9 42.6 369.9 43.8 C371.0 45.0 372.1 46.1 373.1 47.3 C374.2 48.4 375.2 49.5 376.3 50.5 C377.4 51.6 378.4 52.6 379.5 53.6 C380.5 54.6 381.6 55.5 382.7 56.4 C383.7 57.3 384.8 58.1 385.8 59.0 C386.9 59.8 388.0 60.5 389.0 61.3 C390.1 62.0 391.1 62.7 392.2 63.4 C393.3 64.1 394.3 64.8 395.4 65.4 C396.4 66.0 397.5 66.6 398.6 67.2 C399.6 67.8 400.7 68.3 401.7 68.9 C402.8 69.4 403.9 69.9 404.9 70.4 C406.0 70.9 407.0 71.4 408.1 71.9 C409.2 72.4 410.2 72.9 411.3 73.4 C412.3 73.8 413.4 74.3 414.5 74.8 C415.5 75.2 416.6 75.7 417.6 76.1 C418.7 76.6 419.8 77.1 420.8 77.6 C421.9 78.0 423.5 78.8 424.0 79.0" fill="none" stroke="#d8d8d8" stroke-width="3.2" stroke-linejoin="round" stroke-linecap="round" transform="translate(-0.6,0.8)"/><path d="M344.5 18.7 C345.0 18.9 346.6 19.5 347.6 20.1 C348.7 20.7 349.7 21.3 350.7 22.0 C351.8 22.8 352.8 23.6 353.9 24.4 C354.9 25.3 355.9 26.2 357.0 27.2 C358.0 28.2 359.1 29.2 360.1 30.2 C361.2 31.3 362.2 32.4 363.2 33.5 C364.3 34.6 365.3 35.7 366.4 36.8 C367.4 37.9 368.4 39.1 369.5 40.2 C370.5 41.3 371.6 42.4 372.6 43.5 C373.6 44.5 374.7 45.6 375.7 46.6 C376.8 47.6 377.8 48.6 378.8 49.5 C379.9 50.4 380.9 51.3 382.0 52.1 C383.0 53.0 384.0 53.8 385.1 54.6 C386.1 55.3 387.2 56.1 388.2 56.8 C389.3 57.5 390.3 58.2 391.3 58.9 C392.4 59.5 393.4 60.2 394.5 60.8 C395.5 61.4 396.5 62.0 397.6 62.6 C398.6 63.2 399.7 63.8 400.7 64.3 C401.7 64.9 402.8 65.5 403.8 66.0 C404.9 66.5 405.9 67.1 406.9 67.6 C408.0 68.1 409.0 68.7 410.1 69.2 C411.1 69.7 412.1 70.2 413.2 70.7 C414.2 71.3 415.3 71.8 416.3 72.3 C417.4 72.8 418.4 73.4 419.4 73.9 C420.5 74.4 421.5 75.0 422.6 75.5 C423.6 76.1 424.6 76.7 425.7 77.2 C426.7 77.8 428.3 78.7 428.8 79.0" fill="none" stroke="#d8d8d8" stroke-width="3.2" stroke-linejoin="round" stroke-linecap="round" transform="translate(-0.6,0.8)"/><path d="M344.5 17.3 C345.0 17.5 346.6 18.2 347.6 18.7 C348.6 19.3 349.7 19.9 350.7 20.6 C351.8 21.3 352.8 22.0 353.8 22.8 C354.9 23.6 355.9 24.4 356.9 25.3 C358.0 26.1 359.0 27.1 360.1 28.0 C361.1 29.0 362.1 29.9 363.2 30.9 C364.2 31.9 365.2 33.0 366.3 34.0 C367.3 35.0 368.3 36.1 369.4 37.2 C370.4 38.2 371.5 39.3 372.5 40.3 C373.5 41.4 374.6 42.5 375.6 43.5 C376.6 44.6 377.7 45.6 378.7 46.6 C379.8 47.7 380.8 48.7 381.8 49.6 C382.9 50.6 383.9 51.5 384.9 52.4 C386.0 53.3 387.0 54.2 388.1 55.0 C389.1 55.9 390.1 56.6 391.2 57.4 C392.2 58.1 393.2 58.8 394.3 59.4 C395.3 60.0 396.3 60.6 397.4 61.2 C398.4 61.8 399.5 62.3 400.5 62.9 C401.5 63.4 402.6 63.9 403.6 64.4 C404.6 64.9 405.7 65.4 406.7 65.9 C407.8 66.4 408.8 66.9 409.8 67.4 C410.9 67.9 411.9 68.4 412.9 68.9 C414.0 69.5 415.0 70.0 416.0 70.6 C417.1 71.2 418.1 71.7 419.2 72.3 C420.2 72.9 421.2 73.5 422.3 74.0 C423.3 74.6 424.3 75.2 425.4 75.7 C426.4 76.3 427.5 76.9 428.5 77.4 C429.5 78.0 431.1 78.7 431.6 79.0" fill="none" stroke="#d8d8d8" stroke-width="3.2" stroke-linejoin="round" stroke-linecap="round" transform="translate(-0.6,0.8)"/><path d="M344.5 25.8 C345.0 26.2 346.6 27.4 347.7 28.2 C348.8 29.1 349.8 29.9 350.9 30.8 C352.0 31.7 353.0 32.6 354.1 33.6 C355.2 34.5 356.2 35.4 357.3 36.4 C358.4 37.3 359.4 38.3 360.5 39.3 C361.6 40.3 362.6 41.3 363.7 42.3 C364.8 43.3 365.8 44.3 366.9 45.3 C368.0 46.3 369.0 47.3 370.1 48.3 C371.2 49.3 372.2 50.3 373.3 51.3 C374.4 52.3 375.4 53.3 376.5 54.3 C377.6 55.3 378.6 56.3 379.7 57.3 C380.8 58.2 381.8 59.2 382.9 60.1 C384.0 61.1 385.0 62.0 386.1 62.9 C387.2 63.8 388.2 64.7 389.3 65.6 C390.4 66.4 391.4 67.3 392.5 68.1 C393.6 68.9 394.6 69.7 395.7 70.4 C396.8 71.2 397.8 71.9 398.9 72.6 C400.0 73.3 401.0 74.0 402.1 74.6 C403.2 75.2 404.2 75.8 405.3 76.3 C406.4 76.8 407.4 77.3 408.5 77.8 C409.6 78.2 411.2 78.8 411.7 79.0" fill="none" stroke="#f0402a" stroke-width="1.5" stroke-linejoin="round" stroke-linecap="round"/><path d="M344.5 18.9 C345.0 19.1 346.6 19.7 347.7 20.2 C348.7 20.8 349.8 21.6 350.9 22.4 C351.9 23.3 353.0 24.3 354.0 25.3 C355.1 26.3 356.2 27.5 357.2 28.7 C358.3 29.8 359.3 31.1 360.4 32.4 C361.5 33.6 362.5 34.9 363.6 36.2 C364.6 37.5 365.7 38.8 366.8 40.1 C367.8 41.3 368.9 42.6 369.9 43.8 C371.0 45.0 372.1 46.1 373.1 47.3 C374.2 48.4 375.2 49.5 376.3 50.5 C377.4 51.6 378.4 52.6 379.5 53.6 C380.5 54.6 381.6 55.5 382.7 56.4 C383.7 57.3 384.8 58.1 385.8 59.0 C386.9 59.8 388.0 60.5 389.0 61.3 C390.1 62.0 391.1 62.7 392.2 63.4 C393.3 64.1 394.3 64.8 395.4 65.4 C396.4 66.0 397.5 66.6 398.6 67.2 C399.6 67.8 400.7 68.3 401.7 68.9 C402.8 69.4 403.9 69.9 404.9 70.4 C406.0 70.9 407.0 71.4 408.1 71.9 C409.2 72.4 410.2 72.9 411.3 73.4 C412.3 73.8 413.4 74.3 414.5 74.8 C415.5 75.2 416.6 75.7 417.6 76.1 C418.7 76.6 419.8 77.1 420.8 77.6 C421.9 78.0 423.5 78.8 424.0 79.0" fill="none" stroke="#1765cf" stroke-width="1.5" stroke-linejoin="round" stroke-linecap="round"/><path d="M344.5 18.7 C345.0 18.9 346.6 19.5 347.6 20.1 C348.7 20.7 349.7 21.3 350.7 22.0 C351.8 22.8 352.8 23.6 353.9 24.4 C354.9 25.3 355.9 26.2 357.0 27.2 C358.0 28.2 359.1 29.2 360.1 30.2 C361.2 31.3 362.2 32.4 363.2 33.5 C364.3 34.6 365.3 35.7 366.4 36.8 C367.4 37.9 368.4 39.1 369.5 40.2 C370.5 41.3 371.6 42.4 372.6 43.5 C373.6 44.5 374.7 45.6 375.7 46.6 C376.8 47.6 377.8 48.6 378.8 49.5 C379.9 50.4 380.9 51.3 382.0 52.1 C383.0 53.0 384.0 53.8 385.1 54.6 C386.1 55.3 387.2 56.1 388.2 56.8 C389.3 57.5 390.3 58.2 391.3 58.9 C392.4 59.5 393.4 60.2 394.5 60.8 C395.5 61.4 396.5 62.0 397.6 62.6 C398.6 63.2 399.7 63.8 400.7 64.3 C401.7 64.9 402.8 65.5 403.8 66.0 C404.9 66.5 405.9 67.1 406.9 67.6 C408.0 68.1 409.0 68.7 410.1 69.2 C411.1 69.7 412.1 70.2 413.2 70.7 C414.2 71.3 415.3 71.8 416.3 72.3 C417.4 72.8 418.4 73.4 419.4 73.9 C420.5 74.4 421.5 75.0 422.6 75.5 C423.6 76.1 424.6 76.7 425.7 77.2 C426.7 77.8 428.3 78.7 428.8 79.0" fill="none" stroke="#16a085" stroke-width="1.5" stroke-linejoin="round" stroke-linecap="round"/><path d="M344.5 17.3 C345.0 17.5 346.6 18.2 347.6 18.7 C348.6 19.3 349.7 19.9 350.7 20.6 C351.8 21.3 352.8 22.0 353.8 22.8 C354.9 23.6 355.9 24.4 356.9 25.3 C358.0 26.1 359.0 27.1 360.1 28.0 C361.1 29.0 362.1 29.9 363.2 30.9 C364.2 31.9 365.2 33.0 366.3 34.0 C367.3 35.0 368.3 36.1 369.4 37.2 C370.4 38.2 371.5 39.3 372.5 40.3 C373.5 41.4 374.6 42.5 375.6 43.5 C376.6 44.6 377.7 45.6 378.7 46.6 C379.8 47.7 380.8 48.7 381.8 49.6 C382.9 50.6 383.9 51.5 384.9 52.4 C386.0 53.3 387.0 54.2 388.1 55.0 C389.1 55.9 390.1 56.6 391.2 57.4 C392.2 58.1 393.2 58.8 394.3 59.4 C395.3 60.0 396.3 60.6 397.4 61.2 C398.4 61.8 399.5 62.3 400.5 62.9 C401.5 63.4 402.6 63.9 403.6 64.4 C404.6 64.9 405.7 65.4 406.7 65.9 C407.8 66.4 408.8 66.9 409.8 67.4 C410.9 67.9 411.9 68.4 412.9 68.9 C414.0 69.5 415.0 70.0 416.0 70.6 C417.1 71.2 418.1 71.7 419.2 72.3 C420.2 72.9 421.2 73.5 422.3 74.0 C423.3 74.6 424.3 75.2 425.4 75.7 C426.4 76.3 427.5 76.9 428.5 77.4 C429.5 78.0 431.1 78.7 431.6 79.0" fill="none" stroke="#ac1ab8" stroke-width="1.5" stroke-linejoin="round" stroke-linecap="round"/><path d="M344.8 79.0 C345.3 77.8 346.9 74.1 348.0 71.7 C349.0 69.2 350.1 66.6 351.2 64.1 C352.2 61.6 353.3 59.1 354.4 56.8 C355.4 54.6 356.5 52.3 357.5 50.4 C358.6 48.4 359.7 46.7 360.7 45.1 C361.8 43.5 362.9 42.2 363.9 41.0 C365.0 39.8 366.0 38.8 367.1 38.0 C368.2 37.2 369.2 36.5 370.3 36.0 C371.3 35.5 372.4 35.2 373.5 35.0 C374.5 34.8 375.6 34.8 376.7 34.9 C377.7 35.0 378.8 35.2 379.8 35.6 C380.9 35.9 382.0 36.4 383.0 37.0 C384.1 37.6 385.2 38.4 386.2 39.2 C387.3 40.1 388.3 41.1 389.4 42.2 C390.5 43.3 391.5 44.5 392.6 45.8 C393.6 47.1 394.7 48.5 395.8 50.0 C396.8 51.5 397.9 53.1 399.0 54.8 C400.0 56.5 401.1 58.3 402.1 60.1 C403.2 62.0 404.3 63.9 405.3 66.0 C406.4 68.0 407.5 70.1 408.5 72.3 C409.6 74.4 411.2 77.9 411.7 79.0" fill="none" stroke="#f0402a" stroke-width="1.5" stroke-linejoin="round" stroke-linecap="round"/><path d="M344.8 79.0 C345.3 77.6 346.9 73.2 348.0 70.3 C349.0 67.5 350.1 64.7 351.1 62.0 C352.2 59.3 353.2 56.7 354.3 54.3 C355.4 51.9 356.4 49.7 357.5 47.6 C358.5 45.5 359.6 43.7 360.6 42.0 C361.7 40.3 362.8 38.8 363.8 37.5 C364.9 36.1 365.9 35.0 367.0 34.0 C368.0 33.0 369.1 32.2 370.1 31.5 C371.2 30.8 372.3 30.3 373.3 29.8 C374.4 29.4 375.4 29.1 376.5 29.0 C377.5 28.8 378.6 28.8 379.6 28.8 C380.7 28.8 381.8 29.0 382.8 29.2 C383.9 29.4 384.9 29.8 386.0 30.2 C387.0 30.5 388.1 31.0 389.2 31.5 C390.2 32.0 391.3 32.6 392.3 33.3 C393.4 34.0 394.4 34.7 395.5 35.6 C396.5 36.4 397.6 37.3 398.7 38.4 C399.7 39.4 400.8 40.6 401.8 41.8 C402.9 43.1 403.9 44.5 405.0 46.0 C406.0 47.5 407.1 49.2 408.2 50.9 C409.2 52.7 410.3 54.6 411.3 56.5 C412.4 58.4 413.4 60.4 414.5 62.4 C415.6 64.3 416.6 66.3 417.7 68.3 C418.7 70.2 419.8 72.1 420.8 73.9 C421.9 75.7 423.5 78.2 424.0 79.0" fill="none" stroke="#1765cf" stroke-width="1.5" stroke-linejoin="round" stroke-linecap="round"/><polyline points="344.8,79.0 345.6,77.1 346.4,75.2 347.2,73.3 348.0,71.4 348.8,69.5 349.6,67.6 350.4,65.6 351.2,63.7 352.0,61.7 352.8,59.8 353.6,57.8 354.4,55.9 355.2,53.9 356.0,52.0 356.8,50.0 357.6,48.0 358.4,46.1 359.2,44.2 360.0,42.2 360.8,40.4 361.6,38.5 362.4,36.9 363.2,34.4 364.0,33.1 364.8,31.6 365.6,30.6 366.4,29.0 367.2,27.9 368.0,26.6 368.8,25.4 369.6,24.9 370.4,23.8 371.2,23.1 372.0,22.5 372.8,21.8 373.6,21.5 374.4,21.6 375.2,21.3 376.0,21.4 376.8,21.4 377.6,21.3 378.4,21.1 379.2,20.3 380.0,20.4 380.8,20.8 381.6,20.8 382.4,20.9 383.2,21.1 384.0,21.2 384.8,21.8 385.6,22.0 386.4,22.0 387.2,22.3 388.0,22.6 388.8,22.5 389.6,23.0 390.4,23.7 391.2,23.5 392.0,24.4 392.8,25.1 393.6,25.3 394.4,26.1 395.2,25.8 396.0,26.8 396.8,27.3 397.6,28.1 398.4,29.1 399.2,29.4 400.0,29.8 400.8,31.1 401.6,32.0 402.4,32.6 403.2,33.6 404.0,34.6 404.8,35.0 405.6,36.5 406.4,37.7 407.2,38.3 408.0,39.9 408.8,40.8 409.6,42.0 410.4,43.3 411.2,44.3 412.0,45.9 412.8,47.4 413.6,48.9 414.4,50.3 415.2,51.0 416.0,53.0 416.8,54.5 417.6,56.2 418.4,57.7 419.2,58.8 420.0,60.4 420.8,62.6 421.6,63.4 422.4,65.7 423.2,67.2 424.0,68.4 424.8,70.5 425.6,71.9 426.4,73.7 427.2,75.5 428.0,77.2 428.8,79.0" fill="none" stroke="#16a085" stroke-width="1.7" stroke-linejoin="round" stroke-linecap="round"/><polyline points="344.8,79.0 345.6,77.0 346.4,75.1 347.2,73.1 348.0,71.1 348.8,69.0 349.6,66.8 350.4,64.7 351.2,62.5 352.0,60.3 352.8,58.1 353.6,55.8 354.4,53.6 355.2,51.4 356.0,49.2 356.8,46.9 357.6,44.7 358.4,42.6 359.2,40.4 360.0,38.3 360.8,36.2 361.6,34.3 362.4,32.3 363.2,30.7 364.0,28.7 364.8,26.7 365.6,25.9 366.4,24.1 367.2,22.9 368.0,21.9 368.8,21.0 369.6,20.0 370.4,19.1 371.2,18.6 372.0,17.7 372.8,17.5 373.6,17.5 374.4,17.2 375.2,16.9 376.0,17.0 376.8,16.9 377.6,16.8 378.4,16.7 379.2,16.7 380.0,16.9 380.8,17.0 381.6,17.4 382.4,17.6 383.2,17.3 384.0,17.6 384.8,18.3 385.6,18.1 386.4,18.0 387.2,18.2 388.0,19.1 388.8,19.0 389.6,19.4 390.4,20.0 391.2,20.5 392.0,20.4 392.8,20.9 393.6,21.6 394.4,22.0 395.2,22.2 396.0,22.5 396.8,23.2 397.6,24.0 398.4,24.7 399.2,25.2 400.0,25.8 400.8,26.5 401.6,27.2 402.4,27.9 403.2,28.7 404.0,29.5 404.8,30.3 405.6,31.1 406.4,32.1 407.2,33.0 408.0,34.0 408.8,34.9 409.6,36.0 410.4,37.0 411.2,38.1 412.0,39.2 412.8,40.4 413.6,41.6 414.4,42.9 415.2,44.1 416.0,45.4 416.8,46.8 417.6,48.2 418.4,49.6 419.2,51.0 420.0,52.6 420.8,54.1 421.6,55.7 422.4,57.3 423.2,59.0 424.0,60.7 424.8,62.4 425.6,64.2 426.4,66.1 427.2,68.0 428.0,69.8 428.8,71.8 429.6,73.9 430.4,75.9 431.2,78.0 431.6,79.0" fill="none" stroke="#ac1ab8" stroke-width="1.7" stroke-linejoin="round" stroke-linecap="round"/></g>
<g><line x1="30.60" y1="173.10" x2="166.00" y2="173.10" stroke="#d3d9f3" stroke-width="1"/><line x1="30.60" y1="103.40" x2="30.60" y2="173.10" stroke="#b3c0ec" stroke-width="1"/><line x1="166.00" y1="103.40" x2="166.00" y2="173.10" stroke="#8ea4e4" stroke-width="1"/><line x1="166.00" y1="173.10" x2="167.50" y2="173.10" stroke="#8ea4e4" stroke-width="0.8"/><text x="169.30" y="174.20" font-size="4.40" fill="#3a4060" class="t" textLength="1.88" lengthAdjust="spacingAndGlyphs">0</text><line x1="166.00" y1="161.48" x2="167.50" y2="161.48" stroke="#8ea4e4" stroke-width="0.8"/><text x="169.30" y="162.58" font-size="4.40" fill="#3a4060" class="t" textLength="3.77" lengthAdjust="spacingAndGlyphs">50</text><line x1="166.00" y1="149.87" x2="167.50" y2="149.87" stroke="#8ea4e4" stroke-width="0.8"/><text x="169.30" y="150.97" font-size="4.40" fill="#3a4060" class="t" textLength="5.65" lengthAdjust="spacingAndGlyphs">100</text><line x1="166.00" y1="138.25" x2="167.50" y2="138.25" stroke="#8ea4e4" stroke-width="0.8"/><text x="169.30" y="139.35" font-size="4.40" fill="#3a4060" class="t" textLength="5.65" lengthAdjust="spacingAndGlyphs">150</text><line x1="166.00" y1="126.63" x2="167.50" y2="126.63" stroke="#8ea4e4" stroke-width="0.8"/><text x="169.30" y="127.73" font-size="4.40" fill="#3a4060" class="t" textLength="5.65" lengthAdjust="spacingAndGlyphs">200</text><line x1="166.00" y1="115.02" x2="167.50" y2="115.02" stroke="#8ea4e4" stroke-width="0.8"/><text x="169.30" y="116.12" font-size="4.40" fill="#3a4060" class="t" textLength="5.65" lengthAdjust="spacingAndGlyphs">250</text><line x1="166.00" y1="103.40" x2="167.50" y2="103.40" stroke="#8ea4e4" stroke-width="0.8"/><text x="169.30" y="104.50" font-size="4.40" fill="#3a4060" class="t" textLength="5.65" lengthAdjust="spacingAndGlyphs">300</text><text x="25.52" y="174.20" font-size="4.40" fill="#3a4060" class="t" textLength="1.88" lengthAdjust="spacingAndGlyphs">0</text><text x="22.69" y="160.26" font-size="4.40" fill="#3a4060" class="t" textLength="4.71" lengthAdjust="spacingAndGlyphs">0.1</text><text x="22.69" y="146.32" font-size="4.40" fill="#3a4060" class="t" textLength="4.71" lengthAdjust="spacingAndGlyphs">0.2</text><text x="22.69" y="132.38" font-size="4.40" fill="#3a4060" class="t" textLength="4.71" lengthAdjust="spacingAndGlyphs">0.3</text><text x="22.69" y="118.44" font-size="4.40" fill="#3a4060" class="t" textLength="4.71" lengthAdjust="spacingAndGlyphs">0.4</text><text x="22.69" y="104.50" font-size="4.40" fill="#3a4060" class="t" textLength="4.71" lengthAdjust="spacingAndGlyphs">0.5</text><text x="30.06" y="179.70" font-size="4.40" fill="#3a4060" class="t" textLength="1.88" lengthAdjust="spacingAndGlyphs">0</text><text x="47.52" y="179.70" font-size="4.40" fill="#3a4060" class="t" textLength="5.65" lengthAdjust="spacingAndGlyphs">500</text><text x="65.92" y="179.70" font-size="4.40" fill="#3a4060" class="t" textLength="7.53" lengthAdjust="spacingAndGlyphs">1000</text><text x="85.26" y="179.70" font-size="4.40" fill="#3a4060" class="t" textLength="7.53" lengthAdjust="spacingAndGlyphs">1500</text><text x="104.60" y="179.70" font-size="4.40" fill="#3a4060" class="t" textLength="7.53" lengthAdjust="spacingAndGlyphs">2000</text><text x="123.95" y="179.70" font-size="4.40" fill="#3a4060" class="t" textLength="7.53" lengthAdjust="spacingAndGlyphs">2500</text><text x="143.29" y="179.70" font-size="4.40" fill="#3a4060" class="t" textLength="7.53" lengthAdjust="spacingAndGlyphs">3000</text><text x="162.63" y="179.70" font-size="4.40" fill="#3a4060" class="t" textLength="7.53" lengthAdjust="spacingAndGlyphs">3500</text><text x="133.20" y="112.20" font-size="6.4" fill="#363636" textLength="15.0" lengthAdjust="spacingAndGlyphs">MFC4</text><path d="M31.0 114.8 C31.5 114.9 33.1 115.2 34.1 115.6 C35.2 115.9 36.2 116.4 37.2 116.9 C38.3 117.4 39.3 118.1 40.4 118.7 C41.4 119.4 42.4 120.2 43.5 120.9 C44.5 121.7 45.5 122.6 46.6 123.4 C47.6 124.3 48.7 125.2 49.7 126.2 C50.7 127.1 51.8 128.0 52.8 129.0 C53.9 129.9 54.9 130.9 55.9 131.8 C57.0 132.8 58.0 133.7 59.1 134.6 C60.1 135.5 61.1 136.4 62.2 137.2 C63.2 138.0 64.2 138.8 65.3 139.6 C66.3 140.4 67.4 141.1 68.4 141.8 C69.4 142.6 70.5 143.2 71.5 143.9 C72.6 144.6 73.6 145.2 74.6 145.8 C75.7 146.5 76.7 147.1 77.8 147.6 C78.8 148.2 79.8 148.8 80.9 149.3 C81.9 149.9 83.0 150.4 84.0 150.9 C85.0 151.5 86.1 152.0 87.1 152.5 C88.1 153.0 89.2 153.5 90.2 154.0 C91.3 154.4 92.3 154.9 93.3 155.4 C94.4 155.9 95.4 156.3 96.5 156.8 C97.5 157.2 98.5 157.7 99.6 158.1 C100.6 158.5 101.7 159.0 102.7 159.4 C103.7 159.8 104.8 160.2 105.8 160.7 C106.9 161.1 107.9 161.5 108.9 161.9 C110.0 162.3 111.0 162.7 112.0 163.1 C113.1 163.5 114.1 163.8 115.2 164.2 C116.2 164.6 117.2 165.0 118.3 165.4 C119.3 165.7 120.4 166.1 121.4 166.5 C122.4 166.9 123.5 167.2 124.5 167.6 C125.6 168.0 126.6 168.3 127.6 168.7 C128.7 169.0 129.7 169.4 130.7 169.8 C131.8 170.1 132.8 170.5 133.9 170.8 C134.9 171.2 135.9 171.6 137.0 171.9 C138.0 172.3 139.6 172.8 140.1 173.0" fill="none" stroke="#d8d8d8" stroke-width="3.2" stroke-linejoin="round" stroke-linecap="round" transform="translate(-0.6,0.8)"/><path d="M31.0 114.6 C31.5 114.6 33.1 114.3 34.1 114.3 C35.1 114.4 36.1 114.7 37.2 115.1 C38.2 115.5 39.2 116.1 40.3 116.8 C41.3 117.4 42.3 118.2 43.4 119.0 C44.4 119.8 45.4 120.8 46.4 121.7 C47.5 122.6 48.5 123.7 49.5 124.7 C50.6 125.7 51.6 126.7 52.6 127.7 C53.7 128.7 54.7 129.8 55.7 130.8 C56.7 131.7 57.8 132.7 58.8 133.6 C59.8 134.5 60.9 135.4 61.9 136.1 C62.9 136.9 63.9 137.6 65.0 138.3 C66.0 139.0 67.0 139.7 68.1 140.4 C69.1 141.0 70.1 141.6 71.2 142.3 C72.2 142.9 73.2 143.5 74.2 144.1 C75.3 144.7 76.3 145.3 77.3 145.9 C78.4 146.5 79.4 147.0 80.4 147.6 C81.5 148.1 82.5 148.7 83.5 149.2 C84.5 149.8 85.6 150.3 86.6 150.8 C87.6 151.3 88.7 151.8 89.7 152.3 C90.7 152.8 91.7 153.3 92.8 153.8 C93.8 154.3 94.8 154.7 95.9 155.2 C96.9 155.6 97.9 156.1 99.0 156.6 C100.0 157.0 101.0 157.4 102.0 157.9 C103.1 158.3 104.1 158.7 105.1 159.2 C106.2 159.6 107.2 160.0 108.2 160.4 C109.3 160.8 110.3 161.2 111.3 161.6 C112.3 162.0 113.4 162.4 114.4 162.8 C115.4 163.2 116.5 163.6 117.5 164.0 C118.5 164.4 119.5 164.8 120.6 165.2 C121.6 165.5 122.6 165.9 123.7 166.3 C124.7 166.7 125.7 167.1 126.8 167.4 C127.8 167.8 128.8 168.2 129.8 168.5 C130.9 168.9 131.9 169.3 132.9 169.7 C134.0 170.0 135.0 170.4 136.0 170.8 C137.1 171.1 138.1 171.5 139.1 171.9 C140.1 172.3 141.7 172.8 142.2 173.0" fill="none" stroke="#d8d8d8" stroke-width="3.2" stroke-linejoin="round" stroke-linecap="round" transform="translate(-0.6,0.8)"/><path d="M31.0 114.0 C31.5 114.0 33.1 113.7 34.1 113.8 C35.1 113.9 36.2 114.2 37.2 114.6 C38.2 115.0 39.2 115.6 40.3 116.3 C41.3 116.9 42.3 117.7 43.4 118.6 C44.4 119.4 45.4 120.4 46.5 121.4 C47.5 122.3 48.5 123.4 49.6 124.4 C50.6 125.5 51.6 126.6 52.6 127.6 C53.7 128.7 54.7 129.7 55.7 130.7 C56.8 131.7 57.8 132.7 58.8 133.5 C59.9 134.4 60.9 135.1 61.9 135.8 C63.0 136.5 64.0 137.1 65.0 137.7 C66.0 138.3 67.1 138.8 68.1 139.3 C69.1 139.9 70.2 140.4 71.2 140.9 C72.2 141.4 73.3 142.0 74.3 142.5 C75.3 143.0 76.4 143.5 77.4 144.0 C78.4 144.5 79.4 145.0 80.5 145.5 C81.5 146.0 82.5 146.5 83.6 147.0 C84.6 147.5 85.6 148.0 86.7 148.5 C87.7 149.0 88.7 149.4 89.8 149.9 C90.8 150.4 91.8 150.9 92.8 151.3 C93.9 151.8 94.9 152.3 95.9 152.7 C97.0 153.2 98.0 153.7 99.0 154.1 C100.1 154.6 101.1 155.0 102.1 155.5 C103.1 155.9 104.2 156.3 105.2 156.8 C106.2 157.2 107.3 157.7 108.3 158.1 C109.3 158.5 110.4 158.9 111.4 159.4 C112.4 159.8 113.5 160.2 114.5 160.6 C115.5 161.0 116.5 161.4 117.6 161.9 C118.6 162.3 119.6 162.7 120.7 163.1 C121.7 163.5 122.7 163.9 123.8 164.3 C124.8 164.7 125.8 165.0 126.9 165.4 C127.9 165.8 128.9 166.2 129.9 166.6 C131.0 167.0 132.0 167.3 133.0 167.7 C134.1 168.1 135.1 168.4 136.1 168.8 C137.2 169.2 138.2 169.5 139.2 169.9 C140.3 170.2 141.3 170.6 142.3 170.9 C143.3 171.3 144.4 171.6 145.4 172.0 C146.4 172.3 148.0 172.8 148.5 173.0" fill="none" stroke="#d8d8d8" stroke-width="3.2" stroke-linejoin="round" stroke-linecap="round" transform="translate(-0.6,0.8)"/><path d="M31.0 114.2 C31.5 114.2 33.1 114.0 34.1 114.1 C35.2 114.2 36.2 114.5 37.2 114.9 C38.3 115.3 39.3 115.8 40.4 116.5 C41.4 117.1 42.5 117.9 43.5 118.8 C44.5 119.6 45.6 120.6 46.6 121.6 C47.7 122.6 48.7 123.6 49.8 124.7 C50.8 125.8 51.8 126.9 52.9 128.0 C53.9 129.0 55.0 130.1 56.0 131.2 C57.0 132.2 58.1 133.2 59.1 134.0 C60.2 134.9 61.2 135.7 62.2 136.4 C63.3 137.2 64.3 137.8 65.4 138.4 C66.4 139.0 67.5 139.6 68.5 140.1 C69.5 140.7 70.6 141.3 71.6 141.8 C72.7 142.4 73.7 143.0 74.8 143.5 C75.8 144.0 76.8 144.6 77.9 145.1 C78.9 145.7 80.0 146.2 81.0 146.7 C82.0 147.2 83.1 147.8 84.1 148.3 C85.2 148.8 86.2 149.3 87.2 149.8 C88.3 150.3 89.3 150.8 90.4 151.3 C91.4 151.8 92.5 152.3 93.5 152.7 C94.5 153.2 95.6 153.7 96.6 154.2 C97.7 154.6 98.7 155.1 99.8 155.6 C100.8 156.0 101.8 156.5 102.9 156.9 C103.9 157.4 105.0 157.8 106.0 158.3 C107.0 158.7 108.1 159.2 109.1 159.6 C110.2 160.1 111.2 160.5 112.2 160.9 C113.3 161.4 114.3 161.8 115.4 162.2 C116.4 162.6 117.5 163.1 118.5 163.5 C119.5 163.9 120.6 164.3 121.6 164.7 C122.7 165.1 123.7 165.5 124.8 165.9 C125.8 166.3 126.8 166.7 127.9 167.1 C128.9 167.6 130.0 167.9 131.0 168.3 C132.0 168.7 133.1 169.1 134.1 169.5 C135.2 169.9 136.2 170.3 137.2 170.7 C138.3 171.1 139.3 171.5 140.4 171.9 C141.4 172.2 143.0 172.8 143.5 173.0" fill="none" stroke="#d8d8d8" stroke-width="3.2" stroke-linejoin="round" stroke-linecap="round" transform="translate(-0.6,0.8)"/><path d="M31.0 114.0 C31.5 114.0 33.1 113.7 34.1 113.8 C35.1 113.9 36.2 114.2 37.2 114.6 C38.2 115.0 39.2 115.6 40.3 116.3 C41.3 116.9 42.3 117.7 43.4 118.6 C44.4 119.4 45.4 120.4 46.5 121.4 C47.5 122.3 48.5 123.4 49.6 124.4 C50.6 125.5 51.6 126.6 52.6 127.6 C53.7 128.7 54.7 129.7 55.7 130.7 C56.8 131.7 57.8 132.7 58.8 133.5 C59.9 134.4 60.9 135.1 61.9 135.8 C63.0 136.5 64.0 137.1 65.0 137.7 C66.0 138.3 67.1 138.8 68.1 139.3 C69.1 139.9 70.2 140.4 71.2 140.9 C72.2 141.4 73.3 142.0 74.3 142.5 C75.3 143.0 76.4 143.5 77.4 144.0 C78.4 144.5 79.4 145.0 80.5 145.5 C81.5 146.0 82.5 146.5 83.6 147.0 C84.6 147.5 85.6 148.0 86.7 148.5 C87.7 149.0 88.7 149.4 89.8 149.9 C90.8 150.4 91.8 150.9 92.8 151.3 C93.9 151.8 94.9 152.3 95.9 152.7 C97.0 153.2 98.0 153.7 99.0 154.1 C100.1 154.6 101.1 155.0 102.1 155.5 C103.1 155.9 104.2 156.3 105.2 156.8 C106.2 157.2 107.3 157.7 108.3 158.1 C109.3 158.5 110.4 158.9 111.4 159.4 C112.4 159.8 113.5 160.2 114.5 160.6 C115.5 161.0 116.5 161.4 117.6 161.9 C118.6 162.3 119.6 162.7 120.7 163.1 C121.7 163.5 122.7 163.9 123.8 164.3 C124.8 164.7 125.8 165.0 126.9 165.4 C127.9 165.8 128.9 166.2 129.9 166.6 C131.0 167.0 132.0 167.3 133.0 167.7 C134.1 168.1 135.1 168.4 136.1 168.8 C137.2 169.2 138.2 169.5 139.2 169.9 C140.3 170.2 141.3 170.6 142.3 170.9 C143.3 171.3 144.4 171.6 145.4 172.0 C146.4 172.3 148.0 172.8 148.5 173.0" fill="none" stroke="#f0402a" stroke-width="1.5" stroke-linejoin="round" stroke-linecap="round"/><path d="M31.0 114.6 C31.5 114.6 33.1 114.3 34.1 114.3 C35.1 114.4 36.1 114.7 37.2 115.1 C38.2 115.5 39.2 116.1 40.3 116.8 C41.3 117.4 42.3 118.2 43.4 119.0 C44.4 119.8 45.4 120.8 46.4 121.7 C47.5 122.6 48.5 123.7 49.5 124.7 C50.6 125.7 51.6 126.7 52.6 127.7 C53.7 128.7 54.7 129.8 55.7 130.8 C56.7 131.7 57.8 132.7 58.8 133.6 C59.8 134.5 60.9 135.4 61.9 136.1 C62.9 136.9 63.9 137.6 65.0 138.3 C66.0 139.0 67.0 139.7 68.1 140.4 C69.1 141.0 70.1 141.6 71.2 142.3 C72.2 142.9 73.2 143.5 74.2 144.1 C75.3 144.7 76.3 145.3 77.3 145.9 C78.4 146.5 79.4 147.0 80.4 147.6 C81.5 148.1 82.5 148.7 83.5 149.2 C84.5 149.8 85.6 150.3 86.6 150.8 C87.6 151.3 88.7 151.8 89.7 152.3 C90.7 152.8 91.7 153.3 92.8 153.8 C93.8 154.3 94.8 154.7 95.9 155.2 C96.9 155.6 97.9 156.1 99.0 156.6 C100.0 157.0 101.0 157.4 102.0 157.9 C103.1 158.3 104.1 158.7 105.1 159.2 C106.2 159.6 107.2 160.0 108.2 160.4 C109.3 160.8 110.3 161.2 111.3 161.6 C112.3 162.0 113.4 162.4 114.4 162.8 C115.4 163.2 116.5 163.6 117.5 164.0 C118.5 164.4 119.5 164.8 120.6 165.2 C121.6 165.5 122.6 165.9 123.7 166.3 C124.7 166.7 125.7 167.1 126.8 167.4 C127.8 167.8 128.8 168.2 129.8 168.5 C130.9 168.9 131.9 169.3 132.9 169.7 C134.0 170.0 135.0 170.4 136.0 170.8 C137.1 171.1 138.1 171.5 139.1 171.9 C140.1 172.3 141.7 172.8 142.2 173.0" fill="none" stroke="#1765cf" stroke-width="1.5" stroke-linejoin="round" stroke-linecap="round"/><path d="M31.0 114.8 C31.5 114.9 33.1 115.2 34.1 115.6 C35.2 115.9 36.2 116.4 37.2 116.9 C38.3 117.4 39.3 118.1 40.4 118.7 C41.4 119.4 42.4 120.2 43.5 120.9 C44.5 121.7 45.5 122.6 46.6 123.4 C47.6 124.3 48.7 125.2 49.7 126.2 C50.7 127.1 51.8 128.0 52.8 129.0 C53.9 129.9 54.9 130.9 55.9 131.8 C57.0 132.8 58.0 133.7 59.1 134.6 C60.1 135.5 61.1 136.4 62.2 137.2 C63.2 138.0 64.2 138.8 65.3 139.6 C66.3 140.4 67.4 141.1 68.4 141.8 C69.4 142.6 70.5 143.2 71.5 143.9 C72.6 144.6 73.6 145.2 74.6 145.8 C75.7 146.5 76.7 147.1 77.8 147.6 C78.8 148.2 79.8 148.8 80.9 149.3 C81.9 149.9 83.0 150.4 84.0 150.9 C85.0 151.5 86.1 152.0 87.1 152.5 C88.1 153.0 89.2 153.5 90.2 154.0 C91.3 154.4 92.3 154.9 93.3 155.4 C94.4 155.9 95.4 156.3 96.5 156.8 C97.5 157.2 98.5 157.7 99.6 158.1 C100.6 158.5 101.7 159.0 102.7 159.4 C103.7 159.8 104.8 160.2 105.8 160.7 C106.9 161.1 107.9 161.5 108.9 161.9 C110.0 162.3 111.0 162.7 112.0 163.1 C113.1 163.5 114.1 163.8 115.2 164.2 C116.2 164.6 117.2 165.0 118.3 165.4 C119.3 165.7 120.4 166.1 121.4 166.5 C122.4 166.9 123.5 167.2 124.5 167.6 C125.6 168.0 126.6 168.3 127.6 168.7 C128.7 169.0 129.7 169.4 130.7 169.8 C131.8 170.1 132.8 170.5 133.9 170.8 C134.9 171.2 135.9 171.6 137.0 171.9 C138.0 172.3 139.6 172.8 140.1 173.0" fill="none" stroke="#16a085" stroke-width="1.5" stroke-linejoin="round" stroke-linecap="round"/><path d="M31.0 114.2 C31.5 114.2 33.1 114.0 34.1 114.1 C35.2 114.2 36.2 114.5 37.2 114.9 C38.3 115.3 39.3 115.8 40.4 116.5 C41.4 117.1 42.5 117.9 43.5 118.8 C44.5 119.6 45.6 120.6 46.6 121.6 C47.7 122.6 48.7 123.6 49.8 124.7 C50.8 125.8 51.8 126.9 52.9 128.0 C53.9 129.0 55.0 130.1 56.0 131.2 C57.0 132.2 58.1 133.2 59.1 134.0 C60.2 134.9 61.2 135.7 62.2 136.4 C63.3 137.2 64.3 137.8 65.4 138.4 C66.4 139.0 67.5 139.6 68.5 140.1 C69.5 140.7 70.6 141.3 71.6 141.8 C72.7 142.4 73.7 143.0 74.8 143.5 C75.8 144.0 76.8 144.6 77.9 145.1 C78.9 145.7 80.0 146.2 81.0 146.7 C82.0 147.2 83.1 147.8 84.1 148.3 C85.2 148.8 86.2 149.3 87.2 149.8 C88.3 150.3 89.3 150.8 90.4 151.3 C91.4 151.8 92.5 152.3 93.5 152.7 C94.5 153.2 95.6 153.7 96.6 154.2 C97.7 154.6 98.7 155.1 99.8 155.6 C100.8 156.0 101.8 156.5 102.9 156.9 C103.9 157.4 105.0 157.8 106.0 158.3 C107.0 158.7 108.1 159.2 109.1 159.6 C110.2 160.1 111.2 160.5 112.2 160.9 C113.3 161.4 114.3 161.8 115.4 162.2 C116.4 162.6 117.5 163.1 118.5 163.5 C119.5 163.9 120.6 164.3 121.6 164.7 C122.7 165.1 123.7 165.5 124.8 165.9 C125.8 166.3 126.8 166.7 127.9 167.1 C128.9 167.6 130.0 167.9 131.0 168.3 C132.0 168.7 133.1 169.1 134.1 169.5 C135.2 169.9 136.2 170.3 137.2 170.7 C138.3 171.1 139.3 171.5 140.4 171.9 C141.4 172.2 143.0 172.8 143.5 173.0" fill="none" stroke="#ac1ab8" stroke-width="1.5" stroke-linejoin="round" stroke-linecap="round"/><path d="M30.7 173.0 C31.2 171.9 32.8 168.8 33.8 166.7 C34.8 164.6 35.9 162.4 36.9 160.2 C37.9 158.1 39.0 155.9 40.0 153.8 C41.0 151.7 42.1 149.6 43.1 147.5 C44.1 145.5 45.2 143.5 46.2 141.6 C47.2 139.7 48.3 137.8 49.3 136.1 C50.3 134.4 51.4 132.8 52.4 131.3 C53.4 129.8 54.5 128.4 55.5 127.2 C56.5 125.9 57.6 124.8 58.6 123.8 C59.6 122.7 60.7 121.8 61.7 121.0 C62.7 120.1 63.8 119.4 64.8 118.7 C65.8 118.0 66.9 117.4 67.9 116.9 C68.9 116.4 70.0 116.0 71.0 115.6 C72.0 115.2 73.1 114.9 74.1 114.6 C75.1 114.3 76.2 114.1 77.2 113.9 C78.2 113.8 79.3 113.6 80.3 113.5 C81.3 113.5 82.4 113.4 83.4 113.4 C84.4 113.4 85.5 113.5 86.5 113.5 C87.5 113.6 88.6 113.8 89.6 114.0 C90.6 114.1 91.7 114.4 92.7 114.7 C93.7 114.9 94.8 115.3 95.8 115.6 C96.8 116.0 97.9 116.4 98.9 116.9 C99.9 117.3 101.0 117.8 102.0 118.4 C103.0 118.9 104.1 119.6 105.1 120.2 C106.1 120.8 107.2 121.5 108.2 122.2 C109.2 123.0 110.3 123.7 111.3 124.5 C112.3 125.3 113.4 126.1 114.4 127.0 C115.4 127.9 116.5 128.8 117.5 129.7 C118.5 130.6 119.6 131.6 120.6 132.5 C121.6 133.5 122.7 134.5 123.7 135.6 C124.7 136.6 125.8 137.7 126.8 138.8 C127.8 140.0 128.9 141.2 129.9 142.4 C130.9 143.7 132.0 145.0 133.0 146.4 C134.0 147.7 135.1 149.2 136.1 150.7 C137.1 152.3 138.2 153.9 139.2 155.6 C140.2 157.3 141.3 159.1 142.3 160.9 C143.3 162.8 144.4 164.7 145.4 166.8 C146.4 168.8 148.0 172.0 148.5 173.0" fill="none" stroke="#f0402a" stroke-width="1.5" stroke-linejoin="round" stroke-linecap="round"/><path d="M30.7 173.0 C31.2 171.8 32.8 168.2 33.8 165.9 C34.8 163.5 35.9 161.2 36.9 158.9 C37.9 156.6 39.0 154.3 40.0 152.2 C41.0 150.0 42.1 147.9 43.1 146.0 C44.1 144.0 45.2 142.1 46.2 140.4 C47.2 138.7 48.3 137.0 49.3 135.6 C50.3 134.1 51.3 132.7 52.4 131.5 C53.4 130.3 54.4 129.2 55.5 128.2 C56.5 127.1 57.5 126.3 58.6 125.4 C59.6 124.6 60.6 123.9 61.7 123.3 C62.7 122.6 63.7 122.1 64.8 121.6 C65.8 121.1 66.8 120.7 67.9 120.3 C68.9 120.0 69.9 119.7 71.0 119.4 C72.0 119.1 73.0 118.9 74.1 118.8 C75.1 118.6 76.1 118.4 77.2 118.3 C78.2 118.2 79.2 118.1 80.3 118.0 C81.3 117.9 82.3 117.9 83.4 117.9 C84.4 117.8 85.4 117.8 86.4 117.9 C87.5 117.9 88.5 118.0 89.5 118.1 C90.6 118.3 91.6 118.4 92.6 118.7 C93.7 118.9 94.7 119.2 95.7 119.5 C96.8 119.8 97.8 120.2 98.8 120.7 C99.9 121.1 100.9 121.6 101.9 122.2 C103.0 122.8 104.0 123.5 105.0 124.2 C106.1 124.9 107.1 125.6 108.1 126.5 C109.2 127.3 110.2 128.1 111.2 129.0 C112.3 130.0 113.3 130.9 114.3 131.9 C115.4 132.9 116.4 134.0 117.4 135.0 C118.5 136.1 119.5 137.2 120.5 138.4 C121.6 139.5 122.6 140.7 123.6 141.9 C124.6 143.1 125.7 144.3 126.7 145.7 C127.7 147.0 128.8 148.4 129.8 149.8 C130.8 151.3 131.9 152.8 132.9 154.5 C133.9 156.2 135.0 157.9 136.0 159.9 C137.0 161.8 138.1 163.8 139.1 166.0 C140.1 168.2 141.7 171.8 142.2 173.0" fill="none" stroke="#1765cf" stroke-width="1.5" stroke-linejoin="round" stroke-linecap="round"/><path d="M30.7 173.0 C31.2 171.9 32.8 168.4 33.8 166.1 C34.9 163.9 35.9 161.6 37.0 159.4 C38.0 157.2 39.0 155.1 40.1 153.0 C41.1 150.9 42.2 148.9 43.2 147.1 C44.2 145.2 45.3 143.4 46.3 141.8 C47.4 140.1 48.4 138.6 49.5 137.3 C50.5 135.9 51.5 134.8 52.6 133.7 C53.6 132.6 54.7 131.7 55.7 130.8 C56.7 130.0 57.8 129.2 58.8 128.5 C59.9 127.8 60.9 127.2 62.0 126.6 C63.0 126.0 64.0 125.5 65.1 125.0 C66.1 124.6 67.2 124.1 68.2 123.8 C69.3 123.4 70.3 123.0 71.3 122.7 C72.4 122.4 73.4 122.2 74.5 121.9 C75.5 121.7 76.5 121.5 77.6 121.3 C78.6 121.2 79.7 121.0 80.7 120.9 C81.8 120.8 82.8 120.7 83.8 120.7 C84.9 120.6 85.9 120.6 87.0 120.6 C88.0 120.6 89.0 120.7 90.1 120.8 C91.1 120.9 92.2 121.1 93.2 121.3 C94.3 121.6 95.3 121.9 96.3 122.2 C97.4 122.6 98.4 123.1 99.5 123.6 C100.5 124.1 101.5 124.7 102.6 125.4 C103.6 126.0 104.7 126.8 105.7 127.6 C106.8 128.4 107.8 129.3 108.8 130.2 C109.9 131.1 110.9 132.0 112.0 133.1 C113.0 134.1 114.1 135.1 115.1 136.2 C116.1 137.3 117.2 138.4 118.2 139.5 C119.3 140.7 120.3 141.8 121.3 143.0 C122.4 144.2 123.4 145.4 124.5 146.7 C125.5 148.0 126.6 149.4 127.6 150.8 C128.6 152.3 129.7 153.8 130.7 155.4 C131.8 157.0 132.8 158.7 133.8 160.5 C134.9 162.4 135.9 164.3 137.0 166.4 C138.0 168.4 139.6 171.9 140.1 173.0" fill="none" stroke="#16a085" stroke-width="1.5" stroke-linejoin="round" stroke-linecap="round"/><path d="M30.7 173.0 C31.2 171.8 32.8 168.2 33.8 165.9 C34.9 163.5 35.9 161.3 37.0 158.9 C38.0 156.5 39.1 154.1 40.1 151.5 C41.1 149.0 42.2 146.2 43.2 143.8 C44.3 141.3 45.3 138.8 46.4 136.7 C47.4 134.7 48.5 132.9 49.5 131.5 C50.5 130.0 51.6 128.9 52.6 127.9 C53.7 126.9 54.7 126.2 55.8 125.5 C56.8 124.8 57.9 124.3 58.9 123.8 C59.9 123.2 61.0 122.7 62.0 122.2 C63.1 121.7 64.1 121.2 65.2 120.6 C66.2 120.1 67.3 119.6 68.3 119.1 C69.3 118.6 70.4 118.1 71.4 117.7 C72.5 117.3 73.5 116.9 74.6 116.5 C75.6 116.2 76.7 115.9 77.7 115.7 C78.7 115.5 79.8 115.3 80.8 115.2 C81.9 115.1 82.9 115.1 84.0 115.1 C85.0 115.1 86.1 115.2 87.1 115.3 C88.1 115.4 89.2 115.6 90.2 115.8 C91.3 116.1 92.3 116.4 93.4 116.7 C94.4 117.0 95.5 117.4 96.5 117.9 C97.5 118.3 98.6 118.8 99.6 119.4 C100.7 119.9 101.7 120.5 102.8 121.2 C103.8 121.8 104.9 122.5 105.9 123.2 C106.9 124.0 108.0 124.8 109.0 125.6 C110.1 126.4 111.1 127.3 112.2 128.2 C113.2 129.1 114.3 130.1 115.3 131.1 C116.3 132.1 117.4 133.1 118.4 134.2 C119.5 135.3 120.5 136.4 121.6 137.6 C122.6 138.7 123.7 139.9 124.7 141.2 C125.7 142.4 126.8 143.7 127.8 145.1 C128.9 146.5 129.9 147.9 131.0 149.4 C132.0 150.9 133.1 152.5 134.1 154.2 C135.1 155.9 136.2 157.7 137.2 159.7 C138.3 161.6 139.3 163.7 140.4 165.9 C141.4 168.1 143.0 171.8 143.5 173.0" fill="none" stroke="#ac1ab8" stroke-width="1.5" stroke-linejoin="round" stroke-linecap="round"/></g>
<g><line x1="186.40" y1="172.90" x2="322.00" y2="172.90" stroke="#d3d9f3" stroke-width="1"/><line x1="186.40" y1="101.80" x2="186.40" y2="172.90" stroke="#b3c0ec" stroke-width="1"/><line x1="322.00" y1="101.80" x2="322.00" y2="172.90" stroke="#8ea4e4" stroke-width="1"/><line x1="322.00" y1="172.90" x2="323.50" y2="172.90" stroke="#8ea4e4" stroke-width="0.8"/><text x="325.30" y="174.00" font-size="4.40" fill="#3a4060" class="t" textLength="1.88" lengthAdjust="spacingAndGlyphs">0</text><line x1="322.00" y1="158.68" x2="323.50" y2="158.68" stroke="#8ea4e4" stroke-width="0.8"/><text x="325.30" y="159.78" font-size="4.40" fill="#3a4060" class="t" textLength="3.77" lengthAdjust="spacingAndGlyphs">50</text><line x1="322.00" y1="144.46" x2="323.50" y2="144.46" stroke="#8ea4e4" stroke-width="0.8"/><text x="325.30" y="145.56" font-size="4.40" fill="#3a4060" class="t" textLength="5.65" lengthAdjust="spacingAndGlyphs">100</text><line x1="322.00" y1="130.24" x2="323.50" y2="130.24" stroke="#8ea4e4" stroke-width="0.8"/><text x="325.30" y="131.34" font-size="4.40" fill="#3a4060" class="t" textLength="5.65" lengthAdjust="spacingAndGlyphs">150</text><line x1="322.00" y1="116.02" x2="323.50" y2="116.02" stroke="#8ea4e4" stroke-width="0.8"/><text x="325.30" y="117.12" font-size="4.40" fill="#3a4060" class="t" textLength="5.65" lengthAdjust="spacingAndGlyphs">200</text><line x1="322.00" y1="101.80" x2="323.50" y2="101.80" stroke="#8ea4e4" stroke-width="0.8"/><text x="325.30" y="102.90" font-size="4.40" fill="#3a4060" class="t" textLength="5.65" lengthAdjust="spacingAndGlyphs">250</text><text x="181.32" y="174.00" font-size="4.40" fill="#3a4060" class="t" textLength="1.88" lengthAdjust="spacingAndGlyphs">0</text><text x="178.49" y="162.15" font-size="4.40" fill="#3a4060" class="t" textLength="4.71" lengthAdjust="spacingAndGlyphs">0.1</text><text x="178.49" y="150.30" font-size="4.40" fill="#3a4060" class="t" textLength="4.71" lengthAdjust="spacingAndGlyphs">0.2</text><text x="178.49" y="138.45" font-size="4.40" fill="#3a4060" class="t" textLength="4.71" lengthAdjust="spacingAndGlyphs">0.3</text><text x="178.49" y="126.60" font-size="4.40" fill="#3a4060" class="t" textLength="4.71" lengthAdjust="spacingAndGlyphs">0.4</text><text x="178.49" y="114.75" font-size="4.40" fill="#3a4060" class="t" textLength="4.71" lengthAdjust="spacingAndGlyphs">0.5</text><text x="178.49" y="102.90" font-size="4.40" fill="#3a4060" class="t" textLength="4.71" lengthAdjust="spacingAndGlyphs">0.6</text><text x="185.86" y="179.50" font-size="4.40" fill="#3a4060" class="t" textLength="1.88" lengthAdjust="spacingAndGlyphs">0</text><text x="211.09" y="179.50" font-size="4.40" fill="#3a4060" class="t" textLength="5.65" lengthAdjust="spacingAndGlyphs">500</text><text x="237.27" y="179.50" font-size="4.40" fill="#3a4060" class="t" textLength="7.53" lengthAdjust="spacingAndGlyphs">1000</text><text x="264.39" y="179.50" font-size="4.40" fill="#3a4060" class="t" textLength="7.53" lengthAdjust="spacingAndGlyphs">1500</text><text x="291.51" y="179.50" font-size="4.40" fill="#3a4060" class="t" textLength="7.53" lengthAdjust="spacingAndGlyphs">2000</text><text x="318.63" y="179.50" font-size="4.40" fill="#3a4060" class="t" textLength="7.53" lengthAdjust="spacingAndGlyphs">2500</text><text x="291.40" y="112.60" font-size="6.4" fill="#363636" textLength="15.0" lengthAdjust="spacingAndGlyphs">MFC5</text><path d="M186.4 124.0 C186.9 124.3 188.4 125.3 189.5 126.0 C190.5 126.7 191.5 127.3 192.5 128.0 C193.6 128.7 194.6 129.3 195.6 130.0 C196.6 130.6 197.7 131.2 198.7 131.9 C199.7 132.5 200.7 133.1 201.8 133.7 C202.8 134.3 203.8 134.9 204.8 135.5 C205.9 136.1 206.9 136.7 207.9 137.3 C208.9 137.8 210.0 138.4 211.0 138.9 C212.0 139.4 213.0 140.0 214.1 140.5 C215.1 141.0 216.1 141.5 217.1 142.0 C218.2 142.4 219.2 142.9 220.2 143.4 C221.2 143.8 222.3 144.3 223.3 144.7 C224.3 145.2 225.3 145.6 226.4 146.0 C227.4 146.5 228.4 146.9 229.4 147.3 C230.5 147.7 231.5 148.1 232.5 148.5 C233.5 148.9 234.6 149.3 235.6 149.7 C236.6 150.1 237.6 150.5 238.7 150.8 C239.7 151.2 240.7 151.6 241.7 152.0 C242.8 152.4 243.8 152.7 244.8 153.1 C245.8 153.5 246.9 153.9 247.9 154.2 C248.9 154.6 249.9 155.0 250.9 155.3 C252.0 155.7 253.0 156.1 254.0 156.4 C255.0 156.8 256.1 157.2 257.1 157.5 C258.1 157.9 259.1 158.2 260.2 158.6 C261.2 158.9 262.2 159.3 263.2 159.6 C264.3 160.0 265.3 160.3 266.3 160.7 C267.3 161.0 268.4 161.3 269.4 161.7 C270.4 162.0 271.4 162.3 272.5 162.6 C273.5 163.0 274.5 163.3 275.5 163.6 C276.6 163.9 277.6 164.2 278.6 164.5 C279.6 164.8 280.7 165.1 281.7 165.4 C282.7 165.7 283.7 166.0 284.8 166.3 C285.8 166.6 286.8 166.9 287.8 167.1 C288.9 167.4 289.9 167.7 290.9 167.9 C291.9 168.2 293.0 168.4 294.0 168.7 C295.0 168.9 296.0 169.2 297.1 169.4 C298.1 169.6 299.1 169.9 300.1 170.1 C301.2 170.3 302.2 170.5 303.2 170.7 C304.2 170.9 305.3 171.1 306.3 171.3 C307.3 171.5 308.3 171.7 309.4 171.9 C310.4 172.0 311.4 172.2 312.4 172.4 C313.5 172.5 315.0 172.7 315.5 172.8" fill="none" stroke="#d8d8d8" stroke-width="3.2" stroke-linejoin="round" stroke-linecap="round" transform="translate(-0.6,0.8)"/><path d="M186.4 121.9 C186.9 122.1 188.5 122.6 189.5 123.0 C190.6 123.5 191.6 124.0 192.7 124.5 C193.7 125.1 194.7 125.7 195.8 126.3 C196.8 126.9 197.9 127.6 198.9 128.3 C200.0 128.9 201.0 129.7 202.0 130.4 C203.1 131.1 204.1 131.8 205.2 132.6 C206.2 133.3 207.3 134.0 208.3 134.7 C209.3 135.5 210.4 136.2 211.4 136.9 C212.5 137.5 213.5 138.2 214.6 138.9 C215.6 139.5 216.6 140.1 217.7 140.7 C218.7 141.3 219.8 141.8 220.8 142.4 C221.9 142.9 222.9 143.4 223.9 143.9 C225.0 144.4 226.0 144.9 227.1 145.4 C228.1 145.8 229.2 146.2 230.2 146.7 C231.2 147.1 232.3 147.5 233.3 147.9 C234.4 148.3 235.4 148.7 236.5 149.1 C237.5 149.5 238.5 149.9 239.6 150.3 C240.6 150.7 241.7 151.0 242.7 151.4 C243.8 151.8 244.8 152.2 245.8 152.6 C246.9 153.0 247.9 153.3 249.0 153.7 C250.0 154.1 251.0 154.5 252.1 154.9 C253.1 155.3 254.2 155.6 255.2 156.0 C256.3 156.4 257.3 156.8 258.3 157.2 C259.4 157.5 260.4 157.9 261.5 158.3 C262.5 158.7 263.6 159.1 264.6 159.4 C265.6 159.8 266.7 160.2 267.7 160.6 C268.8 160.9 269.8 161.3 270.9 161.7 C271.9 162.0 272.9 162.4 274.0 162.7 C275.0 163.1 276.1 163.5 277.1 163.8 C278.2 164.2 279.2 164.5 280.2 164.9 C281.3 165.2 282.3 165.5 283.4 165.9 C284.4 166.2 285.5 166.5 286.5 166.9 C287.5 167.2 288.6 167.5 289.6 167.8 C290.7 168.1 291.7 168.5 292.8 168.8 C293.8 169.1 294.8 169.4 295.9 169.7 C296.9 169.9 298.0 170.2 299.0 170.5 C300.1 170.8 301.1 171.1 302.1 171.3 C303.2 171.6 304.2 171.8 305.3 172.1 C306.3 172.3 307.9 172.7 308.4 172.8" fill="none" stroke="#d8d8d8" stroke-width="3.2" stroke-linejoin="round" stroke-linecap="round" transform="translate(-0.6,0.8)"/><path d="M186.4 123.3 C186.9 123.5 188.5 124.1 189.5 124.6 C190.6 125.0 191.6 125.5 192.7 126.0 C193.7 126.5 194.8 127.0 195.8 127.5 C196.9 128.0 197.9 128.6 199.0 129.1 C200.0 129.7 201.1 130.2 202.1 130.7 C203.2 131.3 204.2 131.9 205.3 132.4 C206.3 133.0 207.4 133.5 208.4 134.1 C209.5 134.6 210.5 135.2 211.6 135.7 C212.6 136.2 213.7 136.8 214.7 137.3 C215.8 137.8 216.8 138.3 217.9 138.8 C218.9 139.4 220.0 139.8 221.0 140.3 C222.1 140.8 223.1 141.3 224.2 141.8 C225.2 142.2 226.3 142.7 227.3 143.1 C228.4 143.6 229.4 144.0 230.5 144.5 C231.5 144.9 232.6 145.3 233.6 145.8 C234.7 146.2 235.7 146.6 236.8 147.1 C237.8 147.5 238.9 147.9 239.9 148.3 C241.0 148.7 242.0 149.2 243.1 149.6 C244.1 150.0 245.2 150.4 246.2 150.8 C247.3 151.2 248.3 151.6 249.4 152.1 C250.4 152.5 251.5 152.9 252.5 153.3 C253.6 153.7 254.6 154.1 255.7 154.5 C256.7 154.9 257.8 155.3 258.8 155.7 C259.9 156.1 260.9 156.6 262.0 157.0 C263.0 157.4 264.1 157.8 265.1 158.2 C266.2 158.6 267.2 158.9 268.3 159.3 C269.3 159.7 270.4 160.1 271.4 160.5 C272.5 160.9 273.5 161.3 274.6 161.7 C275.6 162.0 276.7 162.4 277.7 162.8 C278.8 163.2 279.8 163.5 280.9 163.9 C281.9 164.3 283.0 164.6 284.0 165.0 C285.1 165.4 286.1 165.7 287.2 166.1 C288.2 166.4 289.3 166.8 290.3 167.1 C291.4 167.5 292.4 167.8 293.5 168.1 C294.5 168.5 295.6 168.8 296.6 169.1 C297.7 169.5 298.7 169.8 299.8 170.1 C300.8 170.4 301.9 170.7 302.9 171.0 C304.0 171.3 305.0 171.6 306.1 171.9 C307.1 172.2 308.7 172.7 309.2 172.8" fill="none" stroke="#d8d8d8" stroke-width="3.2" stroke-linejoin="round" stroke-linecap="round" transform="translate(-0.6,0.8)"/><path d="M186.4 116.2 C186.9 116.4 188.5 117.0 189.5 117.4 C190.6 117.9 191.6 118.4 192.7 118.9 C193.7 119.4 194.7 120.0 195.8 120.6 C196.8 121.2 197.9 121.8 198.9 122.4 C200.0 123.1 201.0 123.7 202.0 124.4 C203.1 125.1 204.1 125.8 205.2 126.5 C206.2 127.2 207.2 128.0 208.3 128.7 C209.3 129.4 210.4 130.2 211.4 130.9 C212.5 131.6 213.5 132.4 214.5 133.1 C215.6 133.8 216.6 134.5 217.7 135.2 C218.7 135.9 219.8 136.6 220.8 137.3 C221.8 138.0 222.9 138.6 223.9 139.3 C225.0 139.9 226.0 140.5 227.1 141.1 C228.1 141.8 229.1 142.3 230.2 142.9 C231.2 143.5 232.3 144.1 233.3 144.6 C234.3 145.1 235.4 145.7 236.4 146.2 C237.5 146.7 238.5 147.2 239.6 147.7 C240.6 148.1 241.6 148.6 242.7 149.1 C243.7 149.5 244.8 150.0 245.8 150.4 C246.9 150.8 247.9 151.2 248.9 151.7 C250.0 152.1 251.0 152.5 252.1 152.9 C253.1 153.3 254.2 153.7 255.2 154.0 C256.2 154.4 257.3 154.8 258.3 155.2 C259.4 155.5 260.4 155.9 261.4 156.3 C262.5 156.6 263.5 157.0 264.6 157.4 C265.6 157.7 266.7 158.1 267.7 158.5 C268.7 158.8 269.8 159.2 270.8 159.6 C271.9 159.9 272.9 160.3 274.0 160.7 C275.0 161.0 276.0 161.4 277.1 161.8 C278.1 162.2 279.2 162.6 280.2 162.9 C281.3 163.3 282.3 163.7 283.3 164.1 C284.4 164.6 285.4 165.0 286.5 165.4 C287.5 165.8 288.5 166.3 289.6 166.7 C290.6 167.2 291.7 167.6 292.7 168.1 C293.8 168.6 294.8 169.1 295.8 169.6 C296.9 170.1 297.9 170.6 299.0 171.1 C300.0 171.7 301.6 172.5 302.1 172.8" fill="none" stroke="#d8d8d8" stroke-width="3.2" stroke-linejoin="round" stroke-linecap="round" transform="translate(-0.6,0.8)"/><path d="M186.4 116.2 C186.9 116.4 188.5 117.0 189.5 117.4 C190.6 117.9 191.6 118.4 192.7 118.9 C193.7 119.4 194.7 120.0 195.8 120.6 C196.8 121.2 197.9 121.8 198.9 122.4 C200.0 123.1 201.0 123.7 202.0 124.4 C203.1 125.1 204.1 125.8 205.2 126.5 C206.2 127.2 207.2 128.0 208.3 128.7 C209.3 129.4 210.4 130.2 211.4 130.9 C212.5 131.6 213.5 132.4 214.5 133.1 C215.6 133.8 216.6 134.5 217.7 135.2 C218.7 135.9 219.8 136.6 220.8 137.3 C221.8 138.0 222.9 138.6 223.9 139.3 C225.0 139.9 226.0 140.5 227.1 141.1 C228.1 141.8 229.1 142.3 230.2 142.9 C231.2 143.5 232.3 144.1 233.3 144.6 C234.3 145.1 235.4 145.7 236.4 146.2 C237.5 146.7 238.5 147.2 239.6 147.7 C240.6 148.1 241.6 148.6 242.7 149.1 C243.7 149.5 244.8 150.0 245.8 150.4 C246.9 150.8 247.9 151.2 248.9 151.7 C250.0 152.1 251.0 152.5 252.1 152.9 C253.1 153.3 254.2 153.7 255.2 154.0 C256.2 154.4 257.3 154.8 258.3 155.2 C259.4 155.5 260.4 155.9 261.4 156.3 C262.5 156.6 263.5 157.0 264.6 157.4 C265.6 157.7 266.7 158.1 267.7 158.5 C268.7 158.8 269.8 159.2 270.8 159.6 C271.9 159.9 272.9 160.3 274.0 160.7 C275.0 161.0 276.0 161.4 277.1 161.8 C278.1 162.2 279.2 162.6 280.2 162.9 C281.3 163.3 282.3 163.7 283.3 164.1 C284.4 164.6 285.4 165.0 286.5 165.4 C287.5 165.8 288.5 166.3 289.6 166.7 C290.6 167.2 291.7 167.6 292.7 168.1 C293.8 168.6 294.8 169.1 295.8 169.6 C296.9 170.1 297.9 170.6 299.0 171.1 C300.0 171.7 301.6 172.5 302.1 172.8" fill="none" stroke="#f0402a" stroke-width="1.5" stroke-linejoin="round" stroke-linecap="round"/><path d="M186.4 121.9 C186.9 122.1 188.5 122.6 189.5 123.0 C190.6 123.5 191.6 124.0 192.7 124.5 C193.7 125.1 194.7 125.7 195.8 126.3 C196.8 126.9 197.9 127.6 198.9 128.3 C200.0 128.9 201.0 129.7 202.0 130.4 C203.1 131.1 204.1 131.8 205.2 132.6 C206.2 133.3 207.3 134.0 208.3 134.7 C209.3 135.5 210.4 136.2 211.4 136.9 C212.5 137.5 213.5 138.2 214.6 138.9 C215.6 139.5 216.6 140.1 217.7 140.7 C218.7 141.3 219.8 141.8 220.8 142.4 C221.9 142.9 222.9 143.4 223.9 143.9 C225.0 144.4 226.0 144.9 227.1 145.4 C228.1 145.8 229.2 146.2 230.2 146.7 C231.2 147.1 232.3 147.5 233.3 147.9 C234.4 148.3 235.4 148.7 236.5 149.1 C237.5 149.5 238.5 149.9 239.6 150.3 C240.6 150.7 241.7 151.0 242.7 151.4 C243.8 151.8 244.8 152.2 245.8 152.6 C246.9 153.0 247.9 153.3 249.0 153.7 C250.0 154.1 251.0 154.5 252.1 154.9 C253.1 155.3 254.2 155.6 255.2 156.0 C256.3 156.4 257.3 156.8 258.3 157.2 C259.4 157.5 260.4 157.9 261.5 158.3 C262.5 158.7 263.6 159.1 264.6 159.4 C265.6 159.8 266.7 160.2 267.7 160.6 C268.8 160.9 269.8 161.3 270.9 161.7 C271.9 162.0 272.9 162.4 274.0 162.7 C275.0 163.1 276.1 163.5 277.1 163.8 C278.2 164.2 279.2 164.5 280.2 164.9 C281.3 165.2 282.3 165.5 283.4 165.9 C284.4 166.2 285.5 166.5 286.5 166.9 C287.5 167.2 288.6 167.5 289.6 167.8 C290.7 168.1 291.7 168.5 292.8 168.8 C293.8 169.1 294.8 169.4 295.9 169.7 C296.9 169.9 298.0 170.2 299.0 170.5 C300.1 170.8 301.1 171.1 302.1 171.3 C303.2 171.6 304.2 171.8 305.3 172.1 C306.3 172.3 307.9 172.7 308.4 172.8" fill="none" stroke="#1765cf" stroke-width="1.5" stroke-linejoin="round" stroke-linecap="round"/><path d="M186.4 124.0 C186.9 124.3 188.4 125.3 189.5 126.0 C190.5 126.7 191.5 127.3 192.5 128.0 C193.6 128.7 194.6 129.3 195.6 130.0 C196.6 130.6 197.7 131.2 198.7 131.9 C199.7 132.5 200.7 133.1 201.8 133.7 C202.8 134.3 203.8 134.9 204.8 135.5 C205.9 136.1 206.9 136.7 207.9 137.3 C208.9 137.8 210.0 138.4 211.0 138.9 C212.0 139.4 213.0 140.0 214.1 140.5 C215.1 141.0 216.1 141.5 217.1 142.0 C218.2 142.4 219.2 142.9 220.2 143.4 C221.2 143.8 222.3 144.3 223.3 144.7 C224.3 145.2 225.3 145.6 226.4 146.0 C227.4 146.5 228.4 146.9 229.4 147.3 C230.5 147.7 231.5 148.1 232.5 148.5 C233.5 148.9 234.6 149.3 235.6 149.7 C236.6 150.1 237.6 150.5 238.7 150.8 C239.7 151.2 240.7 151.6 241.7 152.0 C242.8 152.4 243.8 152.7 244.8 153.1 C245.8 153.5 246.9 153.9 247.9 154.2 C248.9 154.6 249.9 155.0 250.9 155.3 C252.0 155.7 253.0 156.1 254.0 156.4 C255.0 156.8 256.1 157.2 257.1 157.5 C258.1 157.9 259.1 158.2 260.2 158.6 C261.2 158.9 262.2 159.3 263.2 159.6 C264.3 160.0 265.3 160.3 266.3 160.7 C267.3 161.0 268.4 161.3 269.4 161.7 C270.4 162.0 271.4 162.3 272.5 162.6 C273.5 163.0 274.5 163.3 275.5 163.6 C276.6 163.9 277.6 164.2 278.6 164.5 C279.6 164.8 280.7 165.1 281.7 165.4 C282.7 165.7 283.7 166.0 284.8 166.3 C285.8 166.6 286.8 166.9 287.8 167.1 C288.9 167.4 289.9 167.7 290.9 167.9 C291.9 168.2 293.0 168.4 294.0 168.7 C295.0 168.9 296.0 169.2 297.1 169.4 C298.1 169.6 299.1 169.9 300.1 170.1 C301.2 170.3 302.2 170.5 303.2 170.7 C304.2 170.9 305.3 171.1 306.3 171.3 C307.3 171.5 308.3 171.7 309.4 171.9 C310.4 172.0 311.4 172.2 312.4 172.4 C313.5 172.5 315.0 172.7 315.5 172.8" fill="none" stroke="#16a085" stroke-width="1.5" stroke-linejoin="round" stroke-linecap="round"/><path d="M186.4 123.3 C186.9 123.5 188.5 124.1 189.5 124.6 C190.6 125.0 191.6 125.5 192.7 126.0 C193.7 126.5 194.8 127.0 195.8 127.5 C196.9 128.0 197.9 128.6 199.0 129.1 C200.0 129.7 201.1 130.2 202.1 130.7 C203.2 131.3 204.2 131.9 205.3 132.4 C206.3 133.0 207.4 133.5 208.4 134.1 C209.5 134.6 210.5 135.2 211.6 135.7 C212.6 136.2 213.7 136.8 214.7 137.3 C215.8 137.8 216.8 138.3 217.9 138.8 C218.9 139.4 220.0 139.8 221.0 140.3 C222.1 140.8 223.1 141.3 224.2 141.8 C225.2 142.2 226.3 142.7 227.3 143.1 C228.4 143.6 229.4 144.0 230.5 144.5 C231.5 144.9 232.6 145.3 233.6 145.8 C234.7 146.2 235.7 146.6 236.8 147.1 C237.8 147.5 238.9 147.9 239.9 148.3 C241.0 148.7 242.0 149.2 243.1 149.6 C244.1 150.0 245.2 150.4 246.2 150.8 C247.3 151.2 248.3 151.6 249.4 152.1 C250.4 152.5 251.5 152.9 252.5 153.3 C253.6 153.7 254.6 154.1 255.7 154.5 C256.7 154.9 257.8 155.3 258.8 155.7 C259.9 156.1 260.9 156.6 262.0 157.0 C263.0 157.4 264.1 157.8 265.1 158.2 C266.2 158.6 267.2 158.9 268.3 159.3 C269.3 159.7 270.4 160.1 271.4 160.5 C272.5 160.9 273.5 161.3 274.6 161.7 C275.6 162.0 276.7 162.4 277.7 162.8 C278.8 163.2 279.8 163.5 280.9 163.9 C281.9 164.3 283.0 164.6 284.0 165.0 C285.1 165.4 286.1 165.7 287.2 166.1 C288.2 166.4 289.3 166.8 290.3 167.1 C291.4 167.5 292.4 167.8 293.5 168.1 C294.5 168.5 295.6 168.8 296.6 169.1 C297.7 169.5 298.7 169.8 299.8 170.1 C300.8 170.4 301.9 170.7 302.9 171.0 C304.0 171.3 305.0 171.6 306.1 171.9 C307.1 172.2 308.7 172.7 309.2 172.8" fill="none" stroke="#ac1ab8" stroke-width="1.5" stroke-linejoin="round" stroke-linecap="round"/><path d="M186.8 173.0 C187.3 171.6 188.9 167.4 189.9 164.8 C191.0 162.2 192.0 159.7 193.0 157.4 C194.1 155.0 195.1 152.7 196.1 150.6 C197.2 148.4 198.2 146.4 199.3 144.5 C200.3 142.5 201.3 140.7 202.4 139.0 C203.4 137.3 204.5 135.7 205.5 134.2 C206.5 132.7 207.6 131.4 208.6 130.1 C209.7 128.8 210.7 127.6 211.7 126.5 C212.8 125.4 213.8 124.5 214.8 123.5 C215.9 122.6 216.9 121.8 218.0 121.0 C219.0 120.3 220.0 119.6 221.1 119.0 C222.1 118.4 223.2 117.8 224.2 117.3 C225.2 116.9 226.3 116.4 227.3 116.1 C228.3 115.7 229.4 115.4 230.4 115.1 C231.5 114.8 232.5 114.6 233.5 114.4 C234.6 114.3 235.6 114.1 236.7 114.0 C237.7 113.9 238.7 113.9 239.8 113.9 C240.8 113.9 241.9 114.0 242.9 114.1 C243.9 114.2 245.0 114.3 246.0 114.5 C247.0 114.8 248.1 115.0 249.1 115.3 C250.2 115.6 251.2 116.0 252.2 116.4 C253.3 116.9 254.3 117.3 255.4 117.9 C256.4 118.4 257.4 119.0 258.5 119.6 C259.5 120.3 260.6 121.0 261.6 121.7 C262.6 122.5 263.7 123.3 264.7 124.1 C265.7 124.9 266.8 125.8 267.8 126.7 C268.9 127.6 269.9 128.5 270.9 129.5 C272.0 130.5 273.0 131.5 274.1 132.6 C275.1 133.7 276.1 134.9 277.2 136.1 C278.2 137.4 279.2 138.7 280.3 140.2 C281.3 141.6 282.4 143.1 283.4 144.7 C284.4 146.3 285.5 148.0 286.5 149.7 C287.6 151.3 288.6 153.1 289.6 154.8 C290.7 156.5 291.7 158.2 292.8 159.9 C293.8 161.5 294.8 163.1 295.9 164.7 C296.9 166.2 297.9 167.7 299.0 169.1 C300.0 170.4 301.6 172.2 302.1 172.8" fill="none" stroke="#f0402a" stroke-width="1.5" stroke-linejoin="round" stroke-linecap="round"/><path d="M186.8 173.0 C187.3 172.0 188.9 168.9 189.9 166.9 C191.0 164.9 192.0 163.0 193.0 161.1 C194.1 159.1 195.1 157.3 196.2 155.4 C197.2 153.6 198.2 151.7 199.3 149.9 C200.3 148.2 201.4 146.4 202.4 144.8 C203.4 143.2 204.5 141.6 205.5 140.2 C206.5 138.8 207.6 137.5 208.6 136.4 C209.7 135.2 210.7 134.1 211.7 133.1 C212.8 132.2 213.8 131.3 214.9 130.5 C215.9 129.7 216.9 128.9 218.0 128.3 C219.0 127.6 220.1 127.0 221.1 126.4 C222.1 125.9 223.2 125.4 224.2 124.9 C225.3 124.4 226.3 124.0 227.3 123.6 C228.4 123.2 229.4 122.9 230.5 122.5 C231.5 122.2 232.5 121.9 233.6 121.7 C234.6 121.5 235.6 121.3 236.7 121.2 C237.7 121.0 238.8 120.9 239.8 120.9 C240.8 120.9 241.9 120.9 242.9 121.0 C244.0 121.0 245.0 121.2 246.0 121.4 C247.1 121.5 248.1 121.8 249.2 122.1 C250.2 122.3 251.2 122.7 252.3 123.0 C253.3 123.4 254.4 123.8 255.4 124.2 C256.4 124.6 257.5 125.1 258.5 125.6 C259.6 126.1 260.6 126.6 261.6 127.1 C262.7 127.6 263.7 128.2 264.7 128.7 C265.8 129.3 266.8 129.8 267.9 130.4 C268.9 131.0 269.9 131.5 271.0 132.1 C272.0 132.7 273.1 133.3 274.1 134.0 C275.1 134.6 276.2 135.3 277.2 136.1 C278.3 136.8 279.3 137.6 280.3 138.5 C281.4 139.4 282.4 140.4 283.5 141.4 C284.5 142.4 285.5 143.5 286.6 144.7 C287.6 145.8 288.7 147.0 289.7 148.3 C290.7 149.5 291.8 150.8 292.8 152.1 C293.8 153.4 294.9 154.8 295.9 156.1 C297.0 157.5 298.0 158.9 299.0 160.3 C300.1 161.7 301.1 163.1 302.2 164.5 C303.2 165.9 304.2 167.3 305.3 168.7 C306.3 170.1 307.9 172.1 308.4 172.8" fill="none" stroke="#1765cf" stroke-width="1.5" stroke-linejoin="round" stroke-linecap="round"/><path d="M186.8 173.0 C187.3 171.9 188.9 168.7 189.9 166.7 C191.0 164.6 192.0 162.6 193.1 160.7 C194.1 158.8 195.2 157.0 196.2 155.2 C197.3 153.4 198.3 151.7 199.4 150.1 C200.4 148.5 201.4 147.0 202.5 145.5 C203.5 144.0 204.6 142.6 205.6 141.3 C206.7 140.0 207.7 138.7 208.8 137.6 C209.8 136.4 210.9 135.3 211.9 134.3 C213.0 133.3 214.0 132.3 215.1 131.5 C216.1 130.6 217.1 129.8 218.2 129.0 C219.2 128.2 220.3 127.6 221.3 126.9 C222.4 126.3 223.4 125.7 224.5 125.2 C225.5 124.6 226.6 124.2 227.6 123.7 C228.7 123.3 229.7 122.9 230.7 122.6 C231.8 122.3 232.8 122.0 233.9 121.7 C234.9 121.5 236.0 121.3 237.0 121.1 C238.1 121.0 239.1 120.9 240.2 120.8 C241.2 120.7 242.3 120.7 243.3 120.7 C244.3 120.7 245.4 120.7 246.4 120.8 C247.5 120.9 248.5 121.0 249.6 121.1 C250.6 121.3 251.7 121.4 252.7 121.6 C253.8 121.9 254.8 122.1 255.9 122.4 C256.9 122.6 258.0 122.9 259.0 123.3 C260.0 123.6 261.1 124.0 262.1 124.3 C263.2 124.7 264.2 125.2 265.3 125.6 C266.3 126.0 267.4 126.5 268.4 127.0 C269.5 127.5 270.5 128.0 271.6 128.6 C272.6 129.1 273.6 129.7 274.7 130.3 C275.7 130.9 276.8 131.5 277.8 132.2 C278.9 132.9 279.9 133.6 281.0 134.3 C282.0 135.1 283.1 135.8 284.1 136.6 C285.2 137.5 286.2 138.3 287.2 139.2 C288.3 140.1 289.3 141.1 290.4 142.0 C291.4 143.0 292.5 144.1 293.5 145.1 C294.6 146.2 295.6 147.3 296.7 148.4 C297.7 149.6 298.8 150.8 299.8 152.0 C300.9 153.2 301.9 154.5 302.9 155.8 C304.0 157.1 305.0 158.4 306.1 159.7 C307.1 161.1 308.2 162.5 309.2 163.9 C310.3 165.3 311.3 166.8 312.4 168.3 C313.4 169.8 315.0 172.0 315.5 172.8" fill="none" stroke="#16a085" stroke-width="1.5" stroke-linejoin="round" stroke-linecap="round"/><path d="M186.8 173.0 C187.3 171.7 188.9 167.5 189.9 165.0 C191.0 162.4 192.0 160.0 193.1 157.8 C194.1 155.5 195.2 153.4 196.2 151.3 C197.3 149.3 198.3 147.4 199.4 145.6 C200.4 143.8 201.4 142.1 202.5 140.5 C203.5 138.9 204.6 137.4 205.6 135.9 C206.7 134.5 207.7 133.2 208.8 131.9 C209.8 130.7 210.9 129.5 211.9 128.4 C213.0 127.3 214.0 126.3 215.0 125.3 C216.1 124.4 217.1 123.5 218.2 122.7 C219.2 122.0 220.3 121.2 221.3 120.6 C222.4 119.9 223.4 119.3 224.5 118.8 C225.5 118.3 226.6 117.8 227.6 117.4 C228.6 117.0 229.7 116.6 230.7 116.3 C231.8 116.0 232.8 115.8 233.9 115.6 C234.9 115.4 236.0 115.2 237.0 115.1 C238.1 115.0 239.1 115.0 240.2 114.9 C241.2 114.9 242.2 114.9 243.3 115.0 C244.3 115.0 245.4 115.1 246.4 115.3 C247.5 115.4 248.5 115.6 249.6 115.8 C250.6 116.0 251.7 116.3 252.7 116.6 C253.8 116.9 254.8 117.3 255.8 117.7 C256.9 118.2 257.9 118.7 259.0 119.2 C260.0 119.7 261.1 120.3 262.1 120.9 C263.2 121.5 264.2 122.2 265.3 122.8 C266.3 123.5 267.4 124.2 268.4 125.0 C269.4 125.7 270.5 126.4 271.5 127.2 C272.6 128.0 273.6 128.8 274.7 129.7 C275.7 130.6 276.8 131.4 277.8 132.4 C278.9 133.3 279.9 134.3 281.0 135.3 C282.0 136.4 283.0 137.5 284.1 138.6 C285.1 139.8 286.2 141.0 287.2 142.3 C288.3 143.5 289.3 144.9 290.4 146.3 C291.4 147.6 292.5 149.1 293.5 150.5 C294.6 152.0 295.6 153.5 296.6 155.0 C297.7 156.5 298.7 158.0 299.8 159.5 C300.8 161.1 301.9 162.6 302.9 164.1 C304.0 165.6 305.0 167.1 306.1 168.5 C307.1 170.0 308.7 172.1 309.2 172.8" fill="none" stroke="#ac1ab8" stroke-width="1.5" stroke-linejoin="round" stroke-linecap="round"/></g>
<g><line x1="345.40" y1="170.90" x2="481.00" y2="170.90" stroke="#d3d9f3" stroke-width="1"/><line x1="345.40" y1="101.20" x2="345.40" y2="170.90" stroke="#b3c0ec" stroke-width="1"/><line x1="481.00" y1="101.20" x2="481.00" y2="170.90" stroke="#8ea4e4" stroke-width="1"/><line x1="481.00" y1="170.90" x2="482.50" y2="170.90" stroke="#8ea4e4" stroke-width="0.8"/><text x="484.30" y="172.00" font-size="4.40" fill="#3a4060" class="t" textLength="1.88" lengthAdjust="spacingAndGlyphs">0</text><line x1="481.00" y1="163.93" x2="482.50" y2="163.93" stroke="#8ea4e4" stroke-width="0.8"/><text x="484.30" y="165.03" font-size="4.40" fill="#3a4060" class="t" textLength="3.77" lengthAdjust="spacingAndGlyphs">20</text><line x1="481.00" y1="156.96" x2="482.50" y2="156.96" stroke="#8ea4e4" stroke-width="0.8"/><text x="484.30" y="158.06" font-size="4.40" fill="#3a4060" class="t" textLength="3.77" lengthAdjust="spacingAndGlyphs">40</text><line x1="481.00" y1="149.99" x2="482.50" y2="149.99" stroke="#8ea4e4" stroke-width="0.8"/><text x="484.30" y="151.09" font-size="4.40" fill="#3a4060" class="t" textLength="3.77" lengthAdjust="spacingAndGlyphs">60</text><line x1="481.00" y1="143.02" x2="482.50" y2="143.02" stroke="#8ea4e4" stroke-width="0.8"/><text x="484.30" y="144.12" font-size="4.40" fill="#3a4060" class="t" textLength="3.77" lengthAdjust="spacingAndGlyphs">80</text><line x1="481.00" y1="136.05" x2="482.50" y2="136.05" stroke="#8ea4e4" stroke-width="0.8"/><text x="484.30" y="137.15" font-size="4.40" fill="#3a4060" class="t" textLength="5.65" lengthAdjust="spacingAndGlyphs">100</text><line x1="481.00" y1="129.08" x2="482.50" y2="129.08" stroke="#8ea4e4" stroke-width="0.8"/><text x="484.30" y="130.18" font-size="4.40" fill="#3a4060" class="t" textLength="5.65" lengthAdjust="spacingAndGlyphs">120</text><line x1="481.00" y1="122.11" x2="482.50" y2="122.11" stroke="#8ea4e4" stroke-width="0.8"/><text x="484.30" y="123.21" font-size="4.40" fill="#3a4060" class="t" textLength="5.65" lengthAdjust="spacingAndGlyphs">140</text><line x1="481.00" y1="115.14" x2="482.50" y2="115.14" stroke="#8ea4e4" stroke-width="0.8"/><text x="484.30" y="116.24" font-size="4.40" fill="#3a4060" class="t" textLength="5.65" lengthAdjust="spacingAndGlyphs">160</text><line x1="481.00" y1="108.17" x2="482.50" y2="108.17" stroke="#8ea4e4" stroke-width="0.8"/><text x="484.30" y="109.27" font-size="4.40" fill="#3a4060" class="t" textLength="5.65" lengthAdjust="spacingAndGlyphs">180</text><line x1="481.00" y1="101.20" x2="482.50" y2="101.20" stroke="#8ea4e4" stroke-width="0.8"/><text x="484.30" y="102.30" font-size="4.40" fill="#3a4060" class="t" textLength="5.65" lengthAdjust="spacingAndGlyphs">200</text><text x="340.32" y="172.00" font-size="4.40" fill="#3a4060" class="t" textLength="1.88" lengthAdjust="spacingAndGlyphs">0</text><text x="337.49" y="158.06" font-size="4.40" fill="#3a4060" class="t" textLength="4.71" lengthAdjust="spacingAndGlyphs">0.1</text><text x="337.49" y="144.12" font-size="4.40" fill="#3a4060" class="t" textLength="4.71" lengthAdjust="spacingAndGlyphs">0.2</text><text x="337.49" y="130.18" font-size="4.40" fill="#3a4060" class="t" textLength="4.71" lengthAdjust="spacingAndGlyphs">0.3</text><text x="337.49" y="116.24" font-size="4.40" fill="#3a4060" class="t" textLength="4.71" lengthAdjust="spacingAndGlyphs">0.4</text><text x="337.49" y="102.30" font-size="4.40" fill="#3a4060" class="t" textLength="4.71" lengthAdjust="spacingAndGlyphs">0.5</text><text x="344.86" y="177.50" font-size="4.40" fill="#3a4060" class="t" textLength="1.88" lengthAdjust="spacingAndGlyphs">0</text><text x="370.09" y="177.50" font-size="4.40" fill="#3a4060" class="t" textLength="5.65" lengthAdjust="spacingAndGlyphs">500</text><text x="396.27" y="177.50" font-size="4.40" fill="#3a4060" class="t" textLength="7.53" lengthAdjust="spacingAndGlyphs">1000</text><text x="423.39" y="177.50" font-size="4.40" fill="#3a4060" class="t" textLength="7.53" lengthAdjust="spacingAndGlyphs">1500</text><text x="450.51" y="177.50" font-size="4.40" fill="#3a4060" class="t" textLength="7.53" lengthAdjust="spacingAndGlyphs">2000</text><text x="477.63" y="177.50" font-size="4.40" fill="#3a4060" class="t" textLength="7.53" lengthAdjust="spacingAndGlyphs">2500</text><text x="448.90" y="112.70" font-size="6.4" fill="#363636" textLength="15.0" lengthAdjust="spacingAndGlyphs">MFC6</text><path d="M345.4 116.4 C345.9 116.7 347.5 117.8 348.6 118.5 C349.6 119.2 350.7 119.9 351.7 120.6 C352.8 121.3 353.8 122.0 354.9 122.8 C356.0 123.5 357.0 124.2 358.1 124.9 C359.1 125.7 360.2 126.4 361.2 127.2 C362.3 127.9 363.3 128.7 364.4 129.4 C365.5 130.2 366.5 130.9 367.6 131.6 C368.6 132.4 369.7 133.1 370.7 133.9 C371.8 134.6 372.8 135.4 373.9 136.1 C375.0 136.8 376.0 137.6 377.1 138.3 C378.1 139.0 379.2 139.7 380.2 140.5 C381.3 141.2 382.3 141.9 383.4 142.6 C384.5 143.3 385.5 144.0 386.6 144.6 C387.6 145.3 388.7 146.0 389.7 146.6 C390.8 147.3 391.8 147.9 392.9 148.6 C394.0 149.2 395.0 149.8 396.1 150.4 C397.1 151.0 398.2 151.6 399.2 152.2 C400.3 152.8 401.3 153.4 402.4 153.9 C403.5 154.5 404.5 155.0 405.6 155.6 C406.6 156.1 407.7 156.7 408.7 157.2 C409.8 157.7 410.8 158.2 411.9 158.7 C413.0 159.3 414.0 159.8 415.1 160.2 C416.1 160.7 417.2 161.2 418.2 161.7 C419.3 162.2 420.3 162.7 421.4 163.1 C422.5 163.6 423.5 164.0 424.6 164.5 C425.6 164.9 426.7 165.4 427.7 165.8 C428.8 166.3 429.8 166.7 430.9 167.1 C432.0 167.6 433.0 168.0 434.1 168.4 C435.1 168.8 436.2 169.3 437.2 169.7 C438.3 170.1 439.9 170.7 440.4 170.9" fill="none" stroke="#d8d8d8" stroke-width="3.2" stroke-linejoin="round" stroke-linecap="round" transform="translate(-0.6,0.8)"/><path d="M345.4 113.0 C345.9 113.4 347.5 114.6 348.6 115.4 C349.6 116.2 350.7 117.0 351.8 117.8 C352.8 118.6 353.9 119.4 355.0 120.2 C356.0 121.0 357.1 121.8 358.1 122.6 C359.2 123.4 360.3 124.2 361.3 125.0 C362.4 125.8 363.4 126.6 364.5 127.4 C365.6 128.2 366.6 129.0 367.7 129.8 C368.8 130.6 369.8 131.4 370.9 132.2 C371.9 133.0 373.0 133.7 374.1 134.5 C375.1 135.3 376.2 136.0 377.2 136.8 C378.3 137.5 379.4 138.3 380.4 139.0 C381.5 139.7 382.6 140.4 383.6 141.1 C384.7 141.8 385.7 142.5 386.8 143.2 C387.9 143.9 388.9 144.5 390.0 145.1 C391.0 145.8 392.1 146.4 393.2 147.0 C394.2 147.6 395.3 148.2 396.4 148.8 C397.4 149.4 398.5 149.9 399.5 150.5 C400.6 151.0 401.7 151.5 402.7 152.1 C403.8 152.6 404.8 153.1 405.9 153.6 C407.0 154.1 408.0 154.6 409.1 155.1 C410.1 155.6 411.2 156.0 412.3 156.5 C413.3 157.0 414.4 157.4 415.5 157.9 C416.5 158.3 417.6 158.8 418.6 159.2 C419.7 159.7 420.8 160.1 421.8 160.5 C422.9 161.0 423.9 161.4 425.0 161.8 C426.1 162.2 427.1 162.7 428.2 163.1 C429.3 163.5 430.3 163.9 431.4 164.4 C432.4 164.8 433.5 165.2 434.6 165.6 C435.6 166.0 436.7 166.5 437.7 166.9 C438.8 167.3 439.9 167.8 440.9 168.2 C442.0 168.6 443.1 169.1 444.1 169.5 C445.2 170.0 446.8 170.7 447.3 170.9" fill="none" stroke="#d8d8d8" stroke-width="3.2" stroke-linejoin="round" stroke-linecap="round" transform="translate(-0.6,0.8)"/><path d="M345.4 115.1 C345.9 115.4 347.5 116.3 348.5 116.9 C349.6 117.5 350.6 118.2 351.7 118.8 C352.7 119.5 353.8 120.2 354.8 120.8 C355.8 121.5 356.9 122.2 357.9 122.9 C359.0 123.6 360.0 124.3 361.1 125.0 C362.1 125.7 363.2 126.4 364.2 127.1 C365.2 127.8 366.3 128.5 367.3 129.2 C368.4 130.0 369.4 130.7 370.5 131.4 C371.5 132.1 372.6 132.8 373.6 133.5 C374.6 134.2 375.7 134.9 376.7 135.6 C377.8 136.3 378.8 137.0 379.9 137.7 C380.9 138.4 382.0 139.1 383.0 139.7 C384.0 140.4 385.1 141.1 386.1 141.7 C387.2 142.4 388.2 143.0 389.3 143.6 C390.3 144.2 391.4 144.8 392.4 145.4 C393.4 146.0 394.5 146.6 395.5 147.1 C396.6 147.7 397.6 148.2 398.7 148.8 C399.7 149.3 400.8 149.8 401.8 150.3 C402.8 150.8 403.9 151.3 404.9 151.8 C406.0 152.3 407.0 152.7 408.1 153.2 C409.1 153.7 410.2 154.1 411.2 154.6 C412.2 155.0 413.3 155.4 414.3 155.8 C415.4 156.3 416.4 156.7 417.5 157.1 C418.5 157.5 419.6 157.9 420.6 158.3 C421.6 158.7 422.7 159.0 423.7 159.4 C424.8 159.8 425.8 160.2 426.9 160.5 C427.9 160.9 429.0 161.2 430.0 161.6 C431.0 162.0 432.1 162.3 433.1 162.7 C434.2 163.0 435.2 163.3 436.3 163.7 C437.3 164.0 438.4 164.4 439.4 164.7 C440.4 165.0 441.5 165.4 442.5 165.7 C443.6 166.0 444.6 166.4 445.7 166.7 C446.7 167.0 447.8 167.3 448.8 167.7 C449.8 168.0 450.9 168.3 451.9 168.7 C453.0 169.0 454.0 169.3 455.1 169.7 C456.1 170.0 457.7 170.5 458.2 170.7" fill="none" stroke="#d8d8d8" stroke-width="3.2" stroke-linejoin="round" stroke-linecap="round" transform="translate(-0.6,0.8)"/><path d="M345.4 114.4 C345.9 114.7 347.5 115.4 348.5 116.0 C349.5 116.5 350.5 117.1 351.6 117.7 C352.6 118.3 353.6 118.9 354.7 119.5 C355.7 120.1 356.7 120.7 357.7 121.4 C358.8 122.0 359.8 122.7 360.8 123.3 C361.9 124.0 362.9 124.6 363.9 125.3 C364.9 126.0 366.0 126.6 367.0 127.3 C368.0 128.0 369.1 128.7 370.1 129.3 C371.1 130.0 372.1 130.7 373.2 131.4 C374.2 132.0 375.2 132.7 376.3 133.4 C377.3 134.0 378.3 134.7 379.4 135.3 C380.4 136.0 381.4 136.6 382.4 137.3 C383.5 137.9 384.5 138.5 385.5 139.1 C386.6 139.7 387.6 140.3 388.6 140.9 C389.6 141.5 390.7 142.1 391.7 142.6 C392.7 143.2 393.8 143.7 394.8 144.2 C395.8 144.8 396.8 145.3 397.9 145.8 C398.9 146.3 399.9 146.8 401.0 147.3 C402.0 147.8 403.0 148.3 404.0 148.8 C405.1 149.2 406.1 149.7 407.1 150.2 C408.2 150.6 409.2 151.1 410.2 151.5 C411.2 152.0 412.3 152.4 413.3 152.8 C414.3 153.2 415.4 153.7 416.4 154.1 C417.4 154.5 418.4 154.9 419.5 155.3 C420.5 155.7 421.5 156.1 422.6 156.5 C423.6 156.9 424.6 157.3 425.6 157.7 C426.7 158.1 427.7 158.5 428.7 158.9 C429.8 159.3 430.8 159.7 431.8 160.0 C432.9 160.4 433.9 160.8 434.9 161.2 C435.9 161.6 437.0 162.0 438.0 162.3 C439.0 162.7 440.1 163.1 441.1 163.5 C442.1 163.9 443.1 164.3 444.2 164.6 C445.2 165.0 446.2 165.4 447.3 165.8 C448.3 166.2 449.3 166.6 450.3 167.0 C451.4 167.4 452.4 167.8 453.4 168.2 C454.5 168.6 455.5 169.0 456.5 169.4 C457.5 169.9 459.1 170.5 459.6 170.7" fill="none" stroke="#d8d8d8" stroke-width="3.2" stroke-linejoin="round" stroke-linecap="round" transform="translate(-0.6,0.8)"/><path d="M345.4 116.4 C345.9 116.7 347.5 117.8 348.6 118.5 C349.6 119.2 350.7 119.9 351.7 120.6 C352.8 121.3 353.8 122.0 354.9 122.8 C356.0 123.5 357.0 124.2 358.1 124.9 C359.1 125.7 360.2 126.4 361.2 127.2 C362.3 127.9 363.3 128.7 364.4 129.4 C365.5 130.2 366.5 130.9 367.6 131.6 C368.6 132.4 369.7 133.1 370.7 133.9 C371.8 134.6 372.8 135.4 373.9 136.1 C375.0 136.8 376.0 137.6 377.1 138.3 C378.1 139.0 379.2 139.7 380.2 140.5 C381.3 141.2 382.3 141.9 383.4 142.6 C384.5 143.3 385.5 144.0 386.6 144.6 C387.6 145.3 388.7 146.0 389.7 146.6 C390.8 147.3 391.8 147.9 392.9 148.6 C394.0 149.2 395.0 149.8 396.1 150.4 C397.1 151.0 398.2 151.6 399.2 152.2 C400.3 152.8 401.3 153.4 402.4 153.9 C403.5 154.5 404.5 155.0 405.6 155.6 C406.6 156.1 407.7 156.7 408.7 157.2 C409.8 157.7 410.8 158.2 411.9 158.7 C413.0 159.3 414.0 159.8 415.1 160.2 C416.1 160.7 417.2 161.2 418.2 161.7 C419.3 162.2 420.3 162.7 421.4 163.1 C422.5 163.6 423.5 164.0 424.6 164.5 C425.6 164.9 426.7 165.4 427.7 165.8 C428.8 166.3 429.8 166.7 430.9 167.1 C432.0 167.6 433.0 168.0 434.1 168.4 C435.1 168.8 436.2 169.3 437.2 169.7 C438.3 170.1 439.9 170.7 440.4 170.9" fill="none" stroke="#f0402a" stroke-width="1.5" stroke-linejoin="round" stroke-linecap="round"/><path d="M345.4 115.1 C345.9 115.4 347.5 116.3 348.5 116.9 C349.6 117.5 350.6 118.2 351.7 118.8 C352.7 119.5 353.8 120.2 354.8 120.8 C355.8 121.5 356.9 122.2 357.9 122.9 C359.0 123.6 360.0 124.3 361.1 125.0 C362.1 125.7 363.2 126.4 364.2 127.1 C365.2 127.8 366.3 128.5 367.3 129.2 C368.4 130.0 369.4 130.7 370.5 131.4 C371.5 132.1 372.6 132.8 373.6 133.5 C374.6 134.2 375.7 134.9 376.7 135.6 C377.8 136.3 378.8 137.0 379.9 137.7 C380.9 138.4 382.0 139.1 383.0 139.7 C384.0 140.4 385.1 141.1 386.1 141.7 C387.2 142.4 388.2 143.0 389.3 143.6 C390.3 144.2 391.4 144.8 392.4 145.4 C393.4 146.0 394.5 146.6 395.5 147.1 C396.6 147.7 397.6 148.2 398.7 148.8 C399.7 149.3 400.8 149.8 401.8 150.3 C402.8 150.8 403.9 151.3 404.9 151.8 C406.0 152.3 407.0 152.7 408.1 153.2 C409.1 153.7 410.2 154.1 411.2 154.6 C412.2 155.0 413.3 155.4 414.3 155.8 C415.4 156.3 416.4 156.7 417.5 157.1 C418.5 157.5 419.6 157.9 420.6 158.3 C421.6 158.7 422.7 159.0 423.7 159.4 C424.8 159.8 425.8 160.2 426.9 160.5 C427.9 160.9 429.0 161.2 430.0 161.6 C431.0 162.0 432.1 162.3 433.1 162.7 C434.2 163.0 435.2 163.3 436.3 163.7 C437.3 164.0 438.4 164.4 439.4 164.7 C440.4 165.0 441.5 165.4 442.5 165.7 C443.6 166.0 444.6 166.4 445.7 166.7 C446.7 167.0 447.8 167.3 448.8 167.7 C449.8 168.0 450.9 168.3 451.9 168.7 C453.0 169.0 454.0 169.3 455.1 169.7 C456.1 170.0 457.7 170.5 458.2 170.7" fill="none" stroke="#1765cf" stroke-width="1.5" stroke-linejoin="round" stroke-linecap="round"/><path d="M345.4 113.0 C345.9 113.4 347.5 114.6 348.6 115.4 C349.6 116.2 350.7 117.0 351.8 117.8 C352.8 118.6 353.9 119.4 355.0 120.2 C356.0 121.0 357.1 121.8 358.1 122.6 C359.2 123.4 360.3 124.2 361.3 125.0 C362.4 125.8 363.4 126.6 364.5 127.4 C365.6 128.2 366.6 129.0 367.7 129.8 C368.8 130.6 369.8 131.4 370.9 132.2 C371.9 133.0 373.0 133.7 374.1 134.5 C375.1 135.3 376.2 136.0 377.2 136.8 C378.3 137.5 379.4 138.3 380.4 139.0 C381.5 139.7 382.6 140.4 383.6 141.1 C384.7 141.8 385.7 142.5 386.8 143.2 C387.9 143.9 388.9 144.5 390.0 145.1 C391.0 145.8 392.1 146.4 393.2 147.0 C394.2 147.6 395.3 148.2 396.4 148.8 C397.4 149.4 398.5 149.9 399.5 150.5 C400.6 151.0 401.7 151.5 402.7 152.1 C403.8 152.6 404.8 153.1 405.9 153.6 C407.0 154.1 408.0 154.6 409.1 155.1 C410.1 155.6 411.2 156.0 412.3 156.5 C413.3 157.0 414.4 157.4 415.5 157.9 C416.5 158.3 417.6 158.8 418.6 159.2 C419.7 159.7 420.8 160.1 421.8 160.5 C422.9 161.0 423.9 161.4 425.0 161.8 C426.1 162.2 427.1 162.7 428.2 163.1 C429.3 163.5 430.3 163.9 431.4 164.4 C432.4 164.8 433.5 165.2 434.6 165.6 C435.6 166.0 436.7 166.5 437.7 166.9 C438.8 167.3 439.9 167.8 440.9 168.2 C442.0 168.6 443.1 169.1 444.1 169.5 C445.2 170.0 446.8 170.7 447.3 170.9" fill="none" stroke="#16a085" stroke-width="1.5" stroke-linejoin="round" stroke-linecap="round"/><path d="M345.4 114.4 C345.9 114.7 347.5 115.4 348.5 116.0 C349.5 116.5 350.5 117.1 351.6 117.7 C352.6 118.3 353.6 118.9 354.7 119.5 C355.7 120.1 356.7 120.7 357.7 121.4 C358.8 122.0 359.8 122.7 360.8 123.3 C361.9 124.0 362.9 124.6 363.9 125.3 C364.9 126.0 366.0 126.6 367.0 127.3 C368.0 128.0 369.1 128.7 370.1 129.3 C371.1 130.0 372.1 130.7 373.2 131.4 C374.2 132.0 375.2 132.7 376.3 133.4 C377.3 134.0 378.3 134.7 379.4 135.3 C380.4 136.0 381.4 136.6 382.4 137.3 C383.5 137.9 384.5 138.5 385.5 139.1 C386.6 139.7 387.6 140.3 388.6 140.9 C389.6 141.5 390.7 142.1 391.7 142.6 C392.7 143.2 393.8 143.7 394.8 144.2 C395.8 144.8 396.8 145.3 397.9 145.8 C398.9 146.3 399.9 146.8 401.0 147.3 C402.0 147.8 403.0 148.3 404.0 148.8 C405.1 149.2 406.1 149.7 407.1 150.2 C408.2 150.6 409.2 151.1 410.2 151.5 C411.2 152.0 412.3 152.4 413.3 152.8 C414.3 153.2 415.4 153.7 416.4 154.1 C417.4 154.5 418.4 154.9 419.5 155.3 C420.5 155.7 421.5 156.1 422.6 156.5 C423.6 156.9 424.6 157.3 425.6 157.7 C426.7 158.1 427.7 158.5 428.7 158.9 C429.8 159.3 430.8 159.7 431.8 160.0 C432.9 160.4 433.9 160.8 434.9 161.2 C435.9 161.6 437.0 162.0 438.0 162.3 C439.0 162.7 440.1 163.1 441.1 163.5 C442.1 163.9 443.1 164.3 444.2 164.6 C445.2 165.0 446.2 165.4 447.3 165.8 C448.3 166.2 449.3 166.6 450.3 167.0 C451.4 167.4 452.4 167.8 453.4 168.2 C454.5 168.6 455.5 169.0 456.5 169.4 C457.5 169.9 459.1 170.5 459.6 170.7" fill="none" stroke="#ac1ab8" stroke-width="1.5" stroke-linejoin="round" stroke-linecap="round"/><path d="M345.4 170.9 C345.9 169.9 347.5 166.9 348.6 164.7 C349.6 162.5 350.7 160.1 351.7 157.9 C352.8 155.7 353.8 153.5 354.9 151.6 C356.0 149.6 357.0 147.9 358.1 146.3 C359.1 144.7 360.2 143.2 361.2 141.8 C362.3 140.5 363.3 139.2 364.4 138.0 C365.5 136.7 366.5 135.6 367.6 134.5 C368.6 133.4 369.7 132.4 370.7 131.5 C371.8 130.5 372.8 129.7 373.9 128.9 C375.0 128.1 376.0 127.4 377.1 126.7 C378.1 126.1 379.2 125.5 380.2 125.0 C381.3 124.5 382.3 124.1 383.4 123.7 C384.5 123.3 385.5 123.1 386.6 122.8 C387.6 122.6 388.7 122.5 389.7 122.4 C390.8 122.3 391.8 122.3 392.9 122.4 C394.0 122.5 395.0 122.6 396.1 122.9 C397.1 123.1 398.2 123.4 399.2 123.7 C400.3 124.1 401.3 124.5 402.4 125.1 C403.5 125.6 404.5 126.2 405.6 126.8 C406.6 127.5 407.7 128.2 408.7 129.0 C409.8 129.8 410.8 130.6 411.9 131.5 C413.0 132.5 414.0 133.5 415.1 134.5 C416.1 135.6 417.2 136.7 418.2 137.8 C419.3 139.0 420.3 140.3 421.4 141.6 C422.5 142.9 423.5 144.2 424.6 145.6 C425.6 147.0 426.7 148.5 427.7 150.0 C428.8 151.6 429.8 153.1 430.9 154.8 C432.0 156.4 433.0 158.1 434.1 159.9 C435.1 161.6 436.2 163.4 437.2 165.2 C438.3 167.1 439.9 170.0 440.4 170.9" fill="none" stroke="#f0402a" stroke-width="1.5" stroke-linejoin="round" stroke-linecap="round"/><path d="M345.4 170.9 C345.9 169.9 347.5 167.0 348.5 164.8 C349.6 162.6 350.6 160.0 351.7 157.7 C352.7 155.4 353.8 153.0 354.8 150.9 C355.8 148.8 356.9 147.0 357.9 145.2 C359.0 143.4 360.0 141.9 361.1 140.3 C362.1 138.8 363.2 137.4 364.2 136.0 C365.2 134.6 366.3 133.3 367.3 132.1 C368.4 130.9 369.4 129.7 370.5 128.7 C371.5 127.6 372.6 126.6 373.6 125.6 C374.6 124.7 375.7 123.8 376.7 123.0 C377.8 122.2 378.8 121.5 379.9 120.8 C380.9 120.2 382.0 119.6 383.0 119.0 C384.0 118.5 385.1 118.0 386.1 117.6 C387.2 117.1 388.2 116.8 389.3 116.4 C390.3 116.1 391.4 115.9 392.4 115.7 C393.4 115.5 394.5 115.3 395.5 115.2 C396.6 115.1 397.6 115.1 398.7 115.1 C399.7 115.1 400.8 115.1 401.8 115.2 C402.8 115.3 403.9 115.5 404.9 115.7 C406.0 115.9 407.0 116.1 408.1 116.4 C409.1 116.7 410.2 117.0 411.2 117.4 C412.2 117.8 413.3 118.2 414.3 118.7 C415.4 119.2 416.4 119.7 417.5 120.3 C418.5 120.9 419.6 121.6 420.6 122.3 C421.6 123.0 422.7 123.7 423.7 124.5 C424.8 125.3 425.8 126.2 426.9 127.1 C427.9 128.0 429.0 129.0 430.0 130.0 C431.0 131.1 432.1 132.1 433.1 133.3 C434.2 134.4 435.2 135.6 436.3 136.9 C437.3 138.1 438.4 139.5 439.4 140.8 C440.4 142.2 441.5 143.6 442.5 145.1 C443.6 146.6 444.6 148.1 445.7 149.7 C446.7 151.2 447.8 152.8 448.8 154.4 C449.8 156.0 450.9 157.6 451.9 159.2 C453.0 160.8 454.0 162.2 455.1 164.1 C456.1 166.1 457.7 169.6 458.2 170.7" fill="none" stroke="#1765cf" stroke-width="1.5" stroke-linejoin="round" stroke-linecap="round"/><path d="M345.4 170.9 C345.9 169.7 347.5 166.1 348.6 163.9 C349.6 161.6 350.7 159.5 351.8 157.4 C352.8 155.3 353.9 153.3 355.0 151.5 C356.0 149.6 357.1 147.8 358.1 146.1 C359.2 144.4 360.3 142.8 361.3 141.3 C362.4 139.7 363.4 138.3 364.5 137.0 C365.6 135.6 366.6 134.4 367.7 133.2 C368.8 132.0 369.8 130.9 370.9 129.9 C371.9 128.9 373.0 128.0 374.1 127.2 C375.1 126.3 376.2 125.6 377.2 124.9 C378.3 124.2 379.4 123.5 380.4 123.0 C381.5 122.5 382.6 122.0 383.6 121.6 C384.7 121.2 385.7 120.8 386.8 120.5 C387.9 120.3 388.9 120.1 390.0 119.9 C391.0 119.8 392.1 119.7 393.2 119.7 C394.2 119.6 395.3 119.7 396.4 119.7 C397.4 119.8 398.5 120.0 399.5 120.2 C400.6 120.4 401.7 120.6 402.7 120.9 C403.8 121.2 404.8 121.6 405.9 122.0 C407.0 122.4 408.0 122.9 409.1 123.5 C410.1 124.0 411.2 124.6 412.3 125.3 C413.3 126.1 414.4 126.8 415.5 127.7 C416.5 128.6 417.6 129.5 418.6 130.6 C419.7 131.6 420.8 132.8 421.8 134.0 C422.9 135.2 423.9 136.6 425.0 138.0 C426.1 139.4 427.1 140.9 428.2 142.4 C429.3 144.0 430.3 145.6 431.4 147.1 C432.4 148.7 433.5 150.2 434.6 151.8 C435.6 153.3 436.7 154.8 437.7 156.3 C438.8 157.8 439.9 159.4 440.9 160.9 C442.0 162.5 443.1 164.1 444.1 165.7 C445.2 167.4 446.8 170.0 447.3 170.9" fill="none" stroke="#16a085" stroke-width="1.5" stroke-linejoin="round" stroke-linecap="round"/><path d="M345.4 170.9 C345.9 169.7 347.5 166.2 348.5 163.9 C349.5 161.6 350.5 159.3 351.6 157.0 C352.6 154.8 353.6 152.5 354.7 150.3 C355.7 148.2 356.7 146.0 357.7 144.0 C358.8 142.0 359.8 140.0 360.8 138.2 C361.9 136.3 362.9 134.6 363.9 132.9 C364.9 131.3 366.0 129.8 367.0 128.3 C368.0 126.9 369.1 125.6 370.1 124.3 C371.1 123.1 372.1 122.0 373.2 120.9 C374.2 119.8 375.2 118.9 376.3 118.0 C377.3 117.1 378.3 116.3 379.4 115.5 C380.4 114.8 381.4 114.1 382.4 113.5 C383.5 113.0 384.5 112.4 385.5 112.0 C386.6 111.5 387.6 111.2 388.6 110.8 C389.6 110.5 390.7 110.2 391.7 110.0 C392.7 109.8 393.8 109.6 394.8 109.5 C395.8 109.4 396.8 109.3 397.9 109.3 C398.9 109.3 399.9 109.3 401.0 109.4 C402.0 109.5 403.0 109.6 404.0 109.7 C405.1 109.9 406.1 110.1 407.1 110.4 C408.2 110.6 409.2 110.9 410.2 111.3 C411.2 111.6 412.3 112.0 413.3 112.5 C414.3 112.9 415.4 113.4 416.4 114.0 C417.4 114.5 418.4 115.1 419.5 115.8 C420.5 116.4 421.5 117.1 422.6 117.9 C423.6 118.6 424.6 119.4 425.6 120.3 C426.7 121.2 427.7 122.1 428.7 123.1 C429.8 124.0 430.8 125.0 431.8 126.1 C432.9 127.2 433.9 128.4 434.9 129.5 C435.9 130.7 437.0 132.0 438.0 133.3 C439.0 134.6 440.1 136.0 441.1 137.4 C442.1 138.8 443.1 140.2 444.2 141.7 C445.2 143.2 446.2 144.8 447.3 146.4 C448.3 148.0 449.3 149.7 450.3 151.5 C451.4 153.3 452.4 155.1 453.4 157.1 C454.5 159.1 455.5 161.2 456.5 163.5 C457.5 165.7 459.1 169.5 459.6 170.7" fill="none" stroke="#ac1ab8" stroke-width="1.5" stroke-linejoin="round" stroke-linecap="round"/></g>
<g><line x1="33.30" y1="261.90" x2="167.70" y2="261.90" stroke="#d3d9f3" stroke-width="1"/><line x1="33.30" y1="192.20" x2="33.30" y2="261.90" stroke="#b3c0ec" stroke-width="1"/><line x1="167.70" y1="192.20" x2="167.70" y2="261.90" stroke="#8ea4e4" stroke-width="1"/><line x1="167.70" y1="261.90" x2="169.20" y2="261.90" stroke="#8ea4e4" stroke-width="0.8"/><text x="171.00" y="263.00" font-size="4.40" fill="#3a4060" class="t" textLength="1.88" lengthAdjust="spacingAndGlyphs">0</text><line x1="167.70" y1="247.96" x2="169.20" y2="247.96" stroke="#8ea4e4" stroke-width="0.8"/><text x="171.00" y="249.06" font-size="4.40" fill="#3a4060" class="t" textLength="3.77" lengthAdjust="spacingAndGlyphs">50</text><line x1="167.70" y1="234.02" x2="169.20" y2="234.02" stroke="#8ea4e4" stroke-width="0.8"/><text x="171.00" y="235.12" font-size="4.40" fill="#3a4060" class="t" textLength="5.65" lengthAdjust="spacingAndGlyphs">100</text><line x1="167.70" y1="220.08" x2="169.20" y2="220.08" stroke="#8ea4e4" stroke-width="0.8"/><text x="171.00" y="221.18" font-size="4.40" fill="#3a4060" class="t" textLength="5.65" lengthAdjust="spacingAndGlyphs">150</text><line x1="167.70" y1="206.14" x2="169.20" y2="206.14" stroke="#8ea4e4" stroke-width="0.8"/><text x="171.00" y="207.24" font-size="4.40" fill="#3a4060" class="t" textLength="5.65" lengthAdjust="spacingAndGlyphs">200</text><line x1="167.70" y1="192.20" x2="169.20" y2="192.20" stroke="#8ea4e4" stroke-width="0.8"/><text x="171.00" y="193.30" font-size="4.40" fill="#3a4060" class="t" textLength="5.65" lengthAdjust="spacingAndGlyphs">250</text><text x="28.22" y="263.00" font-size="4.40" fill="#3a4060" class="t" textLength="1.88" lengthAdjust="spacingAndGlyphs">0</text><text x="25.39" y="249.06" font-size="4.40" fill="#3a4060" class="t" textLength="4.71" lengthAdjust="spacingAndGlyphs">0.1</text><text x="25.39" y="235.12" font-size="4.40" fill="#3a4060" class="t" textLength="4.71" lengthAdjust="spacingAndGlyphs">0.2</text><text x="25.39" y="221.18" font-size="4.40" fill="#3a4060" class="t" textLength="4.71" lengthAdjust="spacingAndGlyphs">0.3</text><text x="25.39" y="207.24" font-size="4.40" fill="#3a4060" class="t" textLength="4.71" lengthAdjust="spacingAndGlyphs">0.4</text><text x="25.39" y="193.30" font-size="4.40" fill="#3a4060" class="t" textLength="4.71" lengthAdjust="spacingAndGlyphs">0.5</text><text x="32.76" y="268.50" font-size="4.40" fill="#3a4060" class="t" textLength="1.88" lengthAdjust="spacingAndGlyphs">0</text><text x="53.27" y="268.50" font-size="4.40" fill="#3a4060" class="t" textLength="5.65" lengthAdjust="spacingAndGlyphs">500</text><text x="74.73" y="268.50" font-size="4.40" fill="#3a4060" class="t" textLength="7.53" lengthAdjust="spacingAndGlyphs">1000</text><text x="97.13" y="268.50" font-size="4.40" fill="#3a4060" class="t" textLength="7.53" lengthAdjust="spacingAndGlyphs">1500</text><text x="119.53" y="268.50" font-size="4.40" fill="#3a4060" class="t" textLength="7.53" lengthAdjust="spacingAndGlyphs">2000</text><text x="141.93" y="268.50" font-size="4.40" fill="#3a4060" class="t" textLength="7.53" lengthAdjust="spacingAndGlyphs">2500</text><text x="164.33" y="268.50" font-size="4.40" fill="#3a4060" class="t" textLength="7.53" lengthAdjust="spacingAndGlyphs">3000</text><text x="133.20" y="202.20" font-size="6.4" fill="#363636" textLength="15.0" lengthAdjust="spacingAndGlyphs">MFC7</text><path d="M33.4 208.5 C33.9 209.0 35.5 210.5 36.5 211.4 C37.5 212.4 38.6 213.3 39.6 214.2 C40.7 215.1 41.7 216.0 42.7 216.9 C43.8 217.7 44.8 218.5 45.8 219.3 C46.9 220.1 47.9 220.9 49.0 221.7 C50.0 222.4 51.0 223.2 52.1 223.9 C53.1 224.6 54.1 225.3 55.2 225.9 C56.2 226.6 57.2 227.2 58.3 227.9 C59.3 228.5 60.4 229.1 61.4 229.7 C62.4 230.3 63.5 230.8 64.5 231.4 C65.5 231.9 66.6 232.4 67.6 232.9 C68.7 233.4 69.7 233.9 70.7 234.4 C71.8 234.9 72.8 235.4 73.8 235.8 C74.9 236.3 75.9 236.7 77.0 237.1 C78.0 237.6 79.0 238.0 80.1 238.4 C81.1 238.8 82.1 239.2 83.2 239.6 C84.2 240.1 85.2 240.4 86.3 240.8 C87.3 241.2 88.4 241.6 89.4 242.0 C90.4 242.4 91.5 242.7 92.5 243.1 C93.5 243.5 94.6 243.8 95.6 244.2 C96.7 244.6 97.7 244.9 98.7 245.3 C99.8 245.6 100.8 246.0 101.8 246.3 C102.9 246.7 103.9 247.0 104.9 247.3 C106.0 247.7 107.0 248.0 108.1 248.3 C109.1 248.7 110.1 249.0 111.2 249.3 C112.2 249.7 113.2 250.0 114.3 250.3 C115.3 250.6 116.4 251.0 117.4 251.3 C118.4 251.6 119.5 251.9 120.5 252.3 C121.5 252.6 122.6 252.9 123.6 253.2 C124.7 253.6 125.7 253.9 126.7 254.2 C127.8 254.6 128.8 254.9 129.8 255.2 C130.9 255.5 131.9 255.9 132.9 256.2 C134.0 256.6 135.0 256.9 136.1 257.2 C137.1 257.6 138.1 257.9 139.2 258.3 C140.2 258.6 141.2 259.0 142.3 259.3 C143.3 259.7 144.4 260.0 145.4 260.4 C146.4 260.8 148.0 261.3 148.5 261.5" fill="none" stroke="#d8d8d8" stroke-width="3.2" stroke-linejoin="round" stroke-linecap="round" transform="translate(-0.6,0.8)"/><path d="M33.4 206.1 C33.9 206.2 35.5 206.5 36.5 206.8 C37.5 207.1 38.5 207.5 39.6 207.9 C40.6 208.3 41.6 208.7 42.6 209.2 C43.7 209.7 44.7 210.2 45.7 210.8 C46.8 211.4 47.8 212.0 48.8 212.6 C49.8 213.2 50.9 213.9 51.9 214.5 C52.9 215.2 53.9 215.9 55.0 216.6 C56.0 217.3 57.0 218.0 58.1 218.7 C59.1 219.4 60.1 220.1 61.1 220.8 C62.2 221.6 63.2 222.3 64.2 223.0 C65.3 223.7 66.3 224.4 67.3 225.0 C68.3 225.7 69.4 226.4 70.4 227.0 C71.4 227.7 72.4 228.3 73.5 228.9 C74.5 229.5 75.5 230.1 76.6 230.7 C77.6 231.3 78.6 231.9 79.6 232.5 C80.7 233.1 81.7 233.6 82.7 234.2 C83.7 234.7 84.8 235.2 85.8 235.8 C86.8 236.3 87.9 236.8 88.9 237.3 C89.9 237.8 90.9 238.3 92.0 238.8 C93.0 239.2 94.0 239.7 95.0 240.2 C96.1 240.6 97.1 241.1 98.1 241.5 C99.2 242.0 100.2 242.4 101.2 242.8 C102.2 243.2 103.3 243.7 104.3 244.1 C105.3 244.5 106.4 244.9 107.4 245.3 C108.4 245.7 109.4 246.1 110.5 246.4 C111.5 246.8 112.5 247.2 113.5 247.6 C114.6 247.9 115.6 248.3 116.6 248.7 C117.7 249.0 118.7 249.4 119.7 249.7 C120.7 250.1 121.8 250.4 122.8 250.8 C123.8 251.1 124.8 251.4 125.9 251.8 C126.9 252.1 127.9 252.4 129.0 252.8 C130.0 253.1 131.0 253.4 132.0 253.7 C133.1 254.1 134.1 254.4 135.1 254.7 C136.1 255.0 137.2 255.4 138.2 255.7 C139.2 256.0 140.3 256.3 141.3 256.6 C142.3 257.0 143.3 257.3 144.4 257.6 C145.4 257.9 146.4 258.2 147.5 258.6 C148.5 258.9 149.5 259.2 150.5 259.5 C151.6 259.9 152.6 260.2 153.6 260.5 C154.6 260.8 156.2 261.3 156.7 261.5" fill="none" stroke="#d8d8d8" stroke-width="3.2" stroke-linejoin="round" stroke-linecap="round" transform="translate(-0.6,0.8)"/><path d="M33.4 200.3 C33.9 200.7 35.5 201.7 36.5 202.4 C37.5 203.2 38.6 204.0 39.6 204.8 C40.6 205.6 41.7 206.5 42.7 207.4 C43.7 208.3 44.8 209.3 45.8 210.3 C46.8 211.2 47.9 212.2 48.9 213.2 C49.9 214.2 51.0 215.2 52.0 216.2 C53.0 217.1 54.1 218.1 55.1 219.0 C56.1 219.8 57.2 220.7 58.2 221.5 C59.2 222.2 60.3 222.9 61.3 223.6 C62.3 224.3 63.4 224.9 64.4 225.4 C65.4 226.0 66.5 226.5 67.5 227.0 C68.5 227.5 69.6 228.0 70.6 228.4 C71.6 228.8 72.7 229.3 73.7 229.7 C74.7 230.1 75.8 230.5 76.8 230.9 C77.8 231.3 78.9 231.7 79.9 232.1 C80.9 232.5 82.0 232.9 83.0 233.3 C84.0 233.8 85.1 234.2 86.1 234.6 C87.1 235.1 88.2 235.5 89.2 235.9 C90.2 236.4 91.3 236.8 92.3 237.2 C93.3 237.7 94.4 238.1 95.4 238.6 C96.4 239.0 97.5 239.5 98.5 239.9 C99.5 240.4 100.6 240.8 101.6 241.3 C102.6 241.8 103.7 242.2 104.7 242.7 C105.7 243.1 106.8 243.6 107.8 244.0 C108.8 244.5 109.9 244.9 110.9 245.4 C111.9 245.9 113.0 246.3 114.0 246.8 C115.0 247.2 116.1 247.7 117.1 248.1 C118.1 248.6 119.2 249.0 120.2 249.5 C121.2 249.9 122.3 250.4 123.3 250.8 C124.3 251.2 125.4 251.7 126.4 252.1 C127.4 252.5 128.5 253.0 129.5 253.4 C130.5 253.8 131.6 254.2 132.6 254.7 C133.6 255.1 134.7 255.5 135.7 255.9 C136.7 256.3 137.8 256.7 138.8 257.1 C139.8 257.5 140.9 257.9 141.9 258.3 C142.9 258.6 144.0 259.0 145.0 259.4 C146.0 259.8 147.1 260.1 148.1 260.5 C149.1 260.8 150.7 261.3 151.2 261.5" fill="none" stroke="#d8d8d8" stroke-width="3.2" stroke-linejoin="round" stroke-linecap="round" transform="translate(-0.6,0.8)"/><path d="M33.4 200.3 C33.9 200.7 35.5 201.7 36.5 202.4 C37.5 203.2 38.6 204.0 39.6 204.8 C40.6 205.6 41.7 206.5 42.7 207.4 C43.7 208.3 44.8 209.3 45.8 210.3 C46.8 211.2 47.9 212.2 48.9 213.2 C49.9 214.2 51.0 215.2 52.0 216.2 C53.0 217.1 54.1 218.1 55.1 219.0 C56.1 219.8 57.2 220.7 58.2 221.5 C59.2 222.2 60.3 222.9 61.3 223.6 C62.3 224.3 63.4 224.9 64.4 225.4 C65.4 226.0 66.5 226.5 67.5 227.0 C68.5 227.5 69.6 228.0 70.6 228.4 C71.6 228.8 72.7 229.3 73.7 229.7 C74.7 230.1 75.8 230.5 76.8 230.9 C77.8 231.3 78.9 231.7 79.9 232.1 C80.9 232.5 82.0 232.9 83.0 233.3 C84.0 233.8 85.1 234.2 86.1 234.6 C87.1 235.1 88.2 235.5 89.2 235.9 C90.2 236.4 91.3 236.8 92.3 237.2 C93.3 237.7 94.4 238.1 95.4 238.6 C96.4 239.0 97.5 239.5 98.5 239.9 C99.5 240.4 100.6 240.8 101.6 241.3 C102.6 241.8 103.7 242.2 104.7 242.7 C105.7 243.1 106.8 243.6 107.8 244.0 C108.8 244.5 109.9 244.9 110.9 245.4 C111.9 245.9 113.0 246.3 114.0 246.8 C115.0 247.2 116.1 247.7 117.1 248.1 C118.1 248.6 119.2 249.0 120.2 249.5 C121.2 249.9 122.3 250.4 123.3 250.8 C124.3 251.2 125.4 251.7 126.4 252.1 C127.4 252.5 128.5 253.0 129.5 253.4 C130.5 253.8 131.6 254.2 132.6 254.7 C133.6 255.1 134.7 255.5 135.7 255.9 C136.7 256.3 137.8 256.7 138.8 257.1 C139.8 257.5 140.9 257.9 141.9 258.3 C142.9 258.6 144.0 259.0 145.0 259.4 C146.0 259.8 147.1 260.1 148.1 260.5 C149.1 260.8 150.7 261.3 151.2 261.5" fill="none" stroke="#f0402a" stroke-width="1.5" stroke-linejoin="round" stroke-linecap="round"/><path d="M33.4 206.1 C33.9 206.2 35.5 206.5 36.5 206.8 C37.5 207.1 38.5 207.5 39.6 207.9 C40.6 208.3 41.6 208.7 42.6 209.2 C43.7 209.7 44.7 210.2 45.7 210.8 C46.8 211.4 47.8 212.0 48.8 212.6 C49.8 213.2 50.9 213.9 51.9 214.5 C52.9 215.2 53.9 215.9 55.0 216.6 C56.0 217.3 57.0 218.0 58.1 218.7 C59.1 219.4 60.1 220.1 61.1 220.8 C62.2 221.6 63.2 222.3 64.2 223.0 C65.3 223.7 66.3 224.4 67.3 225.0 C68.3 225.7 69.4 226.4 70.4 227.0 C71.4 227.7 72.4 228.3 73.5 228.9 C74.5 229.5 75.5 230.1 76.6 230.7 C77.6 231.3 78.6 231.9 79.6 232.5 C80.7 233.1 81.7 233.6 82.7 234.2 C83.7 234.7 84.8 235.2 85.8 235.8 C86.8 236.3 87.9 236.8 88.9 237.3 C89.9 237.8 90.9 238.3 92.0 238.8 C93.0 239.2 94.0 239.7 95.0 240.2 C96.1 240.6 97.1 241.1 98.1 241.5 C99.2 242.0 100.2 242.4 101.2 242.8 C102.2 243.2 103.3 243.7 104.3 244.1 C105.3 244.5 106.4 244.9 107.4 245.3 C108.4 245.7 109.4 246.1 110.5 246.4 C111.5 246.8 112.5 247.2 113.5 247.6 C114.6 247.9 115.6 248.3 116.6 248.7 C117.7 249.0 118.7 249.4 119.7 249.7 C120.7 250.1 121.8 250.4 122.8 250.8 C123.8 251.1 124.8 251.4 125.9 251.8 C126.9 252.1 127.9 252.4 129.0 252.8 C130.0 253.1 131.0 253.4 132.0 253.7 C133.1 254.1 134.1 254.4 135.1 254.7 C136.1 255.0 137.2 255.4 138.2 255.7 C139.2 256.0 140.3 256.3 141.3 256.6 C142.3 257.0 143.3 257.3 144.4 257.6 C145.4 257.9 146.4 258.2 147.5 258.6 C148.5 258.9 149.5 259.2 150.5 259.5 C151.6 259.9 152.6 260.2 153.6 260.5 C154.6 260.8 156.2 261.3 156.7 261.5" fill="none" stroke="#1765cf" stroke-width="1.5" stroke-linejoin="round" stroke-linecap="round"/><path d="M33.4 208.5 C33.9 209.0 35.5 210.5 36.5 211.4 C37.5 212.4 38.6 213.3 39.6 214.2 C40.7 215.1 41.7 216.0 42.7 216.9 C43.8 217.7 44.8 218.5 45.8 219.3 C46.9 220.1 47.9 220.9 49.0 221.7 C50.0 222.4 51.0 223.2 52.1 223.9 C53.1 224.6 54.1 225.3 55.2 225.9 C56.2 226.6 57.2 227.2 58.3 227.9 C59.3 228.5 60.4 229.1 61.4 229.7 C62.4 230.3 63.5 230.8 64.5 231.4 C65.5 231.9 66.6 232.4 67.6 232.9 C68.7 233.4 69.7 233.9 70.7 234.4 C71.8 234.9 72.8 235.4 73.8 235.8 C74.9 236.3 75.9 236.7 77.0 237.1 C78.0 237.6 79.0 238.0 80.1 238.4 C81.1 238.8 82.1 239.2 83.2 239.6 C84.2 240.1 85.2 240.4 86.3 240.8 C87.3 241.2 88.4 241.6 89.4 242.0 C90.4 242.4 91.5 242.7 92.5 243.1 C93.5 243.5 94.6 243.8 95.6 244.2 C96.7 244.6 97.7 244.9 98.7 245.3 C99.8 245.6 100.8 246.0 101.8 246.3 C102.9 246.7 103.9 247.0 104.9 247.3 C106.0 247.7 107.0 248.0 108.1 248.3 C109.1 248.7 110.1 249.0 111.2 249.3 C112.2 249.7 113.2 250.0 114.3 250.3 C115.3 250.6 116.4 251.0 117.4 251.3 C118.4 251.6 119.5 251.9 120.5 252.3 C121.5 252.6 122.6 252.9 123.6 253.2 C124.7 253.6 125.7 253.9 126.7 254.2 C127.8 254.6 128.8 254.9 129.8 255.2 C130.9 255.5 131.9 255.9 132.9 256.2 C134.0 256.6 135.0 256.9 136.1 257.2 C137.1 257.6 138.1 257.9 139.2 258.3 C140.2 258.6 141.2 259.0 142.3 259.3 C143.3 259.7 144.4 260.0 145.4 260.4 C146.4 260.8 148.0 261.3 148.5 261.5" fill="none" stroke="#16a085" stroke-width="1.5" stroke-linejoin="round" stroke-linecap="round"/><path d="M33.4 262.0 C33.9 260.4 35.5 255.2 36.5 252.2 C37.5 249.3 38.6 246.7 39.6 244.3 C40.6 241.9 41.7 239.8 42.7 237.8 C43.7 235.7 44.8 233.9 45.8 232.1 C46.8 230.3 47.9 228.6 48.9 227.0 C49.9 225.4 51.0 223.9 52.0 222.4 C53.0 221.0 54.1 219.6 55.1 218.3 C56.1 217.0 57.2 215.8 58.2 214.6 C59.2 213.5 60.3 212.4 61.3 211.3 C62.3 210.3 63.4 209.3 64.4 208.5 C65.4 207.6 66.5 206.7 67.5 205.9 C68.5 205.2 69.6 204.5 70.6 203.8 C71.6 203.2 72.7 202.6 73.7 202.0 C74.7 201.5 75.8 201.0 76.8 200.6 C77.8 200.1 78.9 199.8 79.9 199.4 C80.9 199.1 82.0 198.8 83.0 198.6 C84.0 198.4 85.1 198.2 86.1 198.1 C87.1 198.0 88.2 197.9 89.2 197.9 C90.2 197.8 91.3 197.8 92.3 197.9 C93.3 198.0 94.4 198.1 95.4 198.3 C96.4 198.5 97.5 198.7 98.5 199.0 C99.5 199.2 100.6 199.6 101.6 200.0 C102.6 200.3 103.7 200.8 104.7 201.3 C105.7 201.8 106.8 202.3 107.8 203.0 C108.8 203.6 109.9 204.2 110.9 205.0 C111.9 205.7 113.0 206.5 114.0 207.3 C115.0 208.2 116.1 209.1 117.1 210.0 C118.1 211.0 119.2 212.0 120.2 213.1 C121.2 214.2 122.3 215.4 123.3 216.6 C124.3 217.8 125.4 219.1 126.4 220.4 C127.4 221.8 128.5 223.2 129.5 224.6 C130.5 226.1 131.6 227.6 132.6 229.2 C133.6 230.8 134.7 232.4 135.7 234.0 C136.7 235.7 137.8 237.4 138.8 239.1 C139.8 240.9 140.9 242.7 141.9 244.5 C142.9 246.3 144.0 248.1 145.0 250.0 C146.0 251.9 147.1 253.8 148.1 255.7 C149.1 257.6 150.7 260.5 151.2 261.5" fill="none" stroke="#f0402a" stroke-width="1.5" stroke-linejoin="round" stroke-linecap="round"/><path d="M33.4 262.0 C33.9 260.6 35.5 256.3 36.5 253.7 C37.5 251.0 38.5 248.5 39.6 246.1 C40.6 243.7 41.6 241.4 42.6 239.2 C43.7 237.0 44.7 235.0 45.7 233.0 C46.8 231.1 47.8 229.2 48.8 227.5 C49.8 225.7 50.9 224.0 51.9 222.5 C52.9 220.9 53.9 219.4 55.0 218.1 C56.0 216.7 57.0 215.4 58.1 214.2 C59.1 213.0 60.1 211.9 61.1 210.9 C62.2 209.9 63.2 209.0 64.2 208.2 C65.3 207.3 66.3 206.6 67.3 205.9 C68.3 205.2 69.4 204.6 70.4 204.1 C71.4 203.6 72.4 203.1 73.5 202.8 C74.5 202.4 75.5 202.0 76.6 201.8 C77.6 201.5 78.6 201.3 79.6 201.2 C80.7 201.0 81.7 200.9 82.7 200.9 C83.7 200.8 84.8 200.8 85.8 200.8 C86.8 200.9 87.9 201.0 88.9 201.1 C89.9 201.2 90.9 201.3 92.0 201.5 C93.0 201.7 94.0 201.9 95.0 202.1 C96.1 202.4 97.1 202.6 98.1 202.9 C99.2 203.3 100.2 203.6 101.2 204.0 C102.2 204.4 103.3 204.8 104.3 205.2 C105.3 205.7 106.4 206.2 107.4 206.7 C108.4 207.2 109.4 207.8 110.5 208.4 C111.5 209.0 112.5 209.6 113.5 210.3 C114.6 211.0 115.6 211.7 116.6 212.4 C117.7 213.2 118.7 214.0 119.7 214.8 C120.7 215.6 121.8 216.5 122.8 217.4 C123.8 218.4 124.8 219.3 125.9 220.3 C126.9 221.3 127.9 222.4 129.0 223.4 C130.0 224.5 131.0 225.6 132.0 226.7 C133.1 227.8 134.1 228.9 135.1 230.1 C136.1 231.2 137.2 232.3 138.2 233.5 C139.2 234.6 140.3 235.8 141.3 237.0 C142.3 238.2 143.3 239.4 144.4 240.7 C145.4 242.0 146.4 243.4 147.5 244.9 C148.5 246.3 149.5 247.9 150.5 249.6 C151.6 251.3 152.6 253.1 153.6 255.1 C154.6 257.1 156.2 260.4 156.7 261.5" fill="none" stroke="#1765cf" stroke-width="1.5" stroke-linejoin="round" stroke-linecap="round"/><path d="M33.4 262.0 C33.9 260.7 35.5 256.5 36.5 254.1 C37.5 251.7 38.6 249.6 39.6 247.6 C40.7 245.6 41.7 243.8 42.7 242.2 C43.8 240.5 44.8 239.1 45.8 237.7 C46.9 236.3 47.9 235.1 49.0 233.9 C50.0 232.8 51.0 231.7 52.1 230.7 C53.1 229.7 54.1 228.8 55.2 227.9 C56.2 226.9 57.2 226.0 58.3 225.2 C59.3 224.3 60.4 223.5 61.4 222.7 C62.4 221.9 63.5 221.1 64.5 220.4 C65.5 219.6 66.6 219.0 67.6 218.3 C68.7 217.6 69.7 217.0 70.7 216.4 C71.8 215.9 72.8 215.3 73.8 214.8 C74.9 214.3 75.9 213.9 77.0 213.5 C78.0 213.1 79.0 212.7 80.1 212.4 C81.1 212.1 82.1 211.9 83.2 211.7 C84.2 211.5 85.2 211.3 86.3 211.2 C87.3 211.1 88.4 211.1 89.4 211.1 C90.4 211.1 91.5 211.2 92.5 211.3 C93.5 211.5 94.6 211.7 95.6 211.9 C96.7 212.1 97.7 212.4 98.7 212.8 C99.8 213.1 100.8 213.5 101.8 214.0 C102.9 214.4 103.9 214.9 104.9 215.5 C106.0 216.0 107.0 216.6 108.1 217.3 C109.1 217.9 110.1 218.6 111.2 219.3 C112.2 220.1 113.2 220.8 114.3 221.7 C115.3 222.5 116.4 223.3 117.4 224.2 C118.4 225.1 119.5 226.1 120.5 227.1 C121.5 228.1 122.6 229.1 123.6 230.1 C124.7 231.2 125.7 232.3 126.7 233.4 C127.8 234.5 128.8 235.7 129.8 236.9 C130.9 238.1 131.9 239.3 132.9 240.6 C134.0 241.8 135.0 243.1 136.1 244.4 C137.1 245.8 138.1 247.1 139.2 248.5 C140.2 249.8 141.2 251.2 142.3 252.7 C143.3 254.1 144.4 255.5 145.4 257.0 C146.4 258.5 148.0 260.8 148.5 261.5" fill="none" stroke="#16a085" stroke-width="1.5" stroke-linejoin="round" stroke-linecap="round"/></g>
<g><line x1="187.80" y1="263.40" x2="322.50" y2="263.40" stroke="#d3d9f3" stroke-width="1"/><line x1="187.80" y1="193.60" x2="187.80" y2="263.40" stroke="#b3c0ec" stroke-width="1"/><line x1="322.50" y1="193.60" x2="322.50" y2="263.40" stroke="#8ea4e4" stroke-width="1"/><line x1="322.50" y1="263.40" x2="324.00" y2="263.40" stroke="#8ea4e4" stroke-width="0.8"/><text x="325.80" y="264.50" font-size="4.40" fill="#3a4060" class="t" textLength="1.88" lengthAdjust="spacingAndGlyphs">0</text><line x1="322.50" y1="245.95" x2="324.00" y2="245.95" stroke="#8ea4e4" stroke-width="0.8"/><text x="325.80" y="247.05" font-size="4.40" fill="#3a4060" class="t" textLength="3.77" lengthAdjust="spacingAndGlyphs">50</text><line x1="322.50" y1="228.50" x2="324.00" y2="228.50" stroke="#8ea4e4" stroke-width="0.8"/><text x="325.80" y="229.60" font-size="4.40" fill="#3a4060" class="t" textLength="5.65" lengthAdjust="spacingAndGlyphs">100</text><line x1="322.50" y1="211.05" x2="324.00" y2="211.05" stroke="#8ea4e4" stroke-width="0.8"/><text x="325.80" y="212.15" font-size="4.40" fill="#3a4060" class="t" textLength="5.65" lengthAdjust="spacingAndGlyphs">150</text><line x1="322.50" y1="193.60" x2="324.00" y2="193.60" stroke="#8ea4e4" stroke-width="0.8"/><text x="325.80" y="194.70" font-size="4.40" fill="#3a4060" class="t" textLength="5.65" lengthAdjust="spacingAndGlyphs">200</text><text x="182.72" y="264.50" font-size="4.40" fill="#3a4060" class="t" textLength="1.88" lengthAdjust="spacingAndGlyphs">0</text><text x="179.89" y="250.54" font-size="4.40" fill="#3a4060" class="t" textLength="4.71" lengthAdjust="spacingAndGlyphs">0.1</text><text x="179.89" y="236.58" font-size="4.40" fill="#3a4060" class="t" textLength="4.71" lengthAdjust="spacingAndGlyphs">0.2</text><text x="179.89" y="222.62" font-size="4.40" fill="#3a4060" class="t" textLength="4.71" lengthAdjust="spacingAndGlyphs">0.3</text><text x="179.89" y="208.66" font-size="4.40" fill="#3a4060" class="t" textLength="4.71" lengthAdjust="spacingAndGlyphs">0.4</text><text x="179.89" y="194.70" font-size="4.40" fill="#3a4060" class="t" textLength="4.71" lengthAdjust="spacingAndGlyphs">0.5</text><text x="187.26" y="270.00" font-size="4.40" fill="#3a4060" class="t" textLength="1.88" lengthAdjust="spacingAndGlyphs">0</text><text x="212.31" y="270.00" font-size="4.40" fill="#3a4060" class="t" textLength="5.65" lengthAdjust="spacingAndGlyphs">500</text><text x="238.31" y="270.00" font-size="4.40" fill="#3a4060" class="t" textLength="7.53" lengthAdjust="spacingAndGlyphs">1000</text><text x="265.25" y="270.00" font-size="4.40" fill="#3a4060" class="t" textLength="7.53" lengthAdjust="spacingAndGlyphs">1500</text><text x="292.19" y="270.00" font-size="4.40" fill="#3a4060" class="t" textLength="7.53" lengthAdjust="spacingAndGlyphs">2000</text><text x="319.13" y="270.00" font-size="4.40" fill="#3a4060" class="t" textLength="7.53" lengthAdjust="spacingAndGlyphs">2500</text><text x="291.20" y="202.20" font-size="6.4" fill="#363636" textLength="15.0" lengthAdjust="spacingAndGlyphs">MFC8</text><path d="M187.8 206.2 C188.3 206.2 189.9 206.3 190.9 206.5 C191.9 206.7 193.0 206.9 194.0 207.3 C195.0 207.7 196.1 208.1 197.1 208.7 C198.1 209.2 199.2 209.8 200.2 210.4 C201.2 211.1 202.3 211.8 203.3 212.6 C204.3 213.3 205.4 214.2 206.4 215.0 C207.4 215.8 208.4 216.7 209.5 217.7 C210.5 218.6 211.5 219.5 212.6 220.5 C213.6 221.4 214.6 222.4 215.7 223.3 C216.7 224.3 217.7 225.2 218.8 226.1 C219.8 227.0 220.8 227.9 221.9 228.6 C222.9 229.4 223.9 230.1 225.0 230.8 C226.0 231.4 227.0 232.0 228.1 232.6 C229.1 233.2 230.1 233.7 231.2 234.2 C232.2 234.7 233.2 235.2 234.3 235.7 C235.3 236.2 236.3 236.7 237.4 237.2 C238.4 237.7 239.4 238.2 240.5 238.7 C241.5 239.1 242.5 239.6 243.6 240.1 C244.6 240.5 245.6 241.0 246.6 241.4 C247.7 241.9 248.7 242.3 249.7 242.8 C250.8 243.2 251.8 243.7 252.8 244.1 C253.9 244.5 254.9 244.9 255.9 245.4 C257.0 245.8 258.0 246.2 259.0 246.6 C260.1 247.0 261.1 247.5 262.1 247.9 C263.2 248.3 264.2 248.7 265.2 249.1 C266.3 249.5 267.3 249.9 268.3 250.3 C269.4 250.7 270.4 251.1 271.4 251.5 C272.5 251.8 273.5 252.2 274.5 252.6 C275.6 253.0 276.6 253.4 277.6 253.8 C278.7 254.2 279.7 254.5 280.7 254.9 C281.8 255.3 282.8 255.7 283.8 256.1 C284.8 256.5 285.9 256.8 286.9 257.2 C287.9 257.6 289.0 258.0 290.0 258.4 C291.0 258.8 292.1 259.1 293.1 259.5 C294.1 259.9 295.2 260.3 296.2 260.7 C297.2 261.1 298.3 261.4 299.3 261.8 C300.3 262.2 301.9 262.8 302.4 263.0" fill="none" stroke="#d8d8d8" stroke-width="3.2" stroke-linejoin="round" stroke-linecap="round" transform="translate(-0.6,0.8)"/><path d="M187.8 206.7 C188.3 206.9 189.9 207.3 190.9 207.7 C191.9 208.1 192.9 208.7 194.0 209.3 C195.0 209.8 196.0 210.5 197.1 211.2 C198.1 211.9 199.1 212.7 200.2 213.5 C201.2 214.3 202.2 215.1 203.2 216.0 C204.3 216.8 205.3 217.7 206.3 218.6 C207.4 219.4 208.4 220.3 209.4 221.2 C210.5 222.1 211.5 223.0 212.5 223.8 C213.5 224.6 214.6 225.5 215.6 226.2 C216.6 227.0 217.7 227.7 218.7 228.4 C219.7 229.1 220.8 229.8 221.8 230.4 C222.8 231.1 223.8 231.7 224.9 232.3 C225.9 232.8 226.9 233.4 228.0 234.0 C229.0 234.5 230.0 235.0 231.1 235.6 C232.1 236.1 233.1 236.6 234.1 237.1 C235.2 237.6 236.2 238.1 237.2 238.6 C238.3 239.1 239.3 239.6 240.3 240.0 C241.4 240.5 242.4 241.0 243.4 241.4 C244.4 241.9 245.5 242.3 246.5 242.8 C247.5 243.2 248.6 243.6 249.6 244.0 C250.6 244.5 251.6 244.9 252.7 245.3 C253.7 245.7 254.7 246.1 255.8 246.5 C256.8 246.9 257.8 247.3 258.9 247.7 C259.9 248.1 260.9 248.4 261.9 248.8 C263.0 249.2 264.0 249.6 265.0 249.9 C266.1 250.3 267.1 250.7 268.1 251.0 C269.2 251.4 270.2 251.7 271.2 252.1 C272.2 252.4 273.3 252.8 274.3 253.1 C275.3 253.5 276.4 253.8 277.4 254.1 C278.4 254.5 279.5 254.8 280.5 255.1 C281.5 255.5 282.5 255.8 283.6 256.1 C284.6 256.5 285.6 256.8 286.7 257.1 C287.7 257.4 288.7 257.8 289.8 258.1 C290.8 258.4 291.8 258.7 292.8 259.1 C293.9 259.4 294.9 259.7 295.9 260.0 C297.0 260.4 298.0 260.7 299.0 261.0 C300.1 261.3 301.1 261.7 302.1 262.0 C303.1 262.3 304.7 262.8 305.2 263.0" fill="none" stroke="#d8d8d8" stroke-width="3.2" stroke-linejoin="round" stroke-linecap="round" transform="translate(-0.6,0.8)"/><path d="M187.8 204.0 C188.3 204.1 189.9 204.2 190.9 204.4 C192.0 204.6 193.0 204.9 194.1 205.2 C195.1 205.5 196.2 206.0 197.2 206.4 C198.2 206.9 199.3 207.5 200.3 208.0 C201.4 208.6 202.4 209.3 203.5 210.0 C204.5 210.7 205.6 211.4 206.6 212.2 C207.6 213.0 208.7 213.8 209.7 214.7 C210.8 215.5 211.8 216.4 212.9 217.3 C213.9 218.2 215.0 219.1 216.0 220.0 C217.0 221.0 218.1 221.9 219.1 222.8 C220.2 223.7 221.2 224.6 222.3 225.5 C223.3 226.4 224.4 227.2 225.4 228.0 C226.4 228.9 227.5 229.6 228.5 230.4 C229.6 231.1 230.6 231.9 231.7 232.5 C232.7 233.2 233.8 233.9 234.8 234.5 C235.8 235.1 236.9 235.7 237.9 236.3 C239.0 236.9 240.0 237.4 241.1 237.9 C242.1 238.4 243.2 238.9 244.2 239.4 C245.2 239.9 246.3 240.4 247.3 240.8 C248.4 241.3 249.4 241.7 250.5 242.1 C251.5 242.5 252.6 242.9 253.6 243.3 C254.6 243.7 255.7 244.1 256.7 244.5 C257.8 244.9 258.8 245.2 259.9 245.6 C260.9 246.0 262.0 246.4 263.0 246.7 C264.0 247.1 265.1 247.5 266.1 247.9 C267.2 248.2 268.2 248.6 269.3 249.0 C270.3 249.3 271.4 249.7 272.4 250.1 C273.4 250.5 274.5 250.8 275.5 251.2 C276.6 251.6 277.6 251.9 278.7 252.3 C279.7 252.7 280.8 253.0 281.8 253.4 C282.8 253.8 283.9 254.1 284.9 254.5 C286.0 254.9 287.0 255.2 288.1 255.6 C289.1 255.9 290.2 256.3 291.2 256.7 C292.2 257.0 293.3 257.4 294.3 257.7 C295.4 258.1 296.4 258.5 297.5 258.8 C298.5 259.2 299.6 259.5 300.6 259.9 C301.6 260.2 302.7 260.6 303.7 260.9 C304.8 261.3 305.8 261.6 306.9 262.0 C307.9 262.3 309.5 262.8 310.0 263.0" fill="none" stroke="#d8d8d8" stroke-width="3.2" stroke-linejoin="round" stroke-linecap="round" transform="translate(-0.6,0.8)"/><path d="M187.8 206.7 C188.3 206.9 189.9 207.3 190.9 207.7 C191.9 208.1 192.9 208.7 194.0 209.3 C195.0 209.8 196.0 210.5 197.1 211.2 C198.1 211.9 199.1 212.7 200.2 213.5 C201.2 214.3 202.2 215.1 203.2 216.0 C204.3 216.8 205.3 217.7 206.3 218.6 C207.4 219.4 208.4 220.3 209.4 221.2 C210.5 222.1 211.5 223.0 212.5 223.8 C213.5 224.6 214.6 225.5 215.6 226.2 C216.6 227.0 217.7 227.7 218.7 228.4 C219.7 229.1 220.8 229.8 221.8 230.4 C222.8 231.1 223.8 231.7 224.9 232.3 C225.9 232.8 226.9 233.4 228.0 234.0 C229.0 234.5 230.0 235.0 231.1 235.6 C232.1 236.1 233.1 236.6 234.1 237.1 C235.2 237.6 236.2 238.1 237.2 238.6 C238.3 239.1 239.3 239.6 240.3 240.0 C241.4 240.5 242.4 241.0 243.4 241.4 C244.4 241.9 245.5 242.3 246.5 242.8 C247.5 243.2 248.6 243.6 249.6 244.0 C250.6 244.5 251.6 244.9 252.7 245.3 C253.7 245.7 254.7 246.1 255.8 246.5 C256.8 246.9 257.8 247.3 258.9 247.7 C259.9 248.1 260.9 248.4 261.9 248.8 C263.0 249.2 264.0 249.6 265.0 249.9 C266.1 250.3 267.1 250.7 268.1 251.0 C269.2 251.4 270.2 251.7 271.2 252.1 C272.2 252.4 273.3 252.8 274.3 253.1 C275.3 253.5 276.4 253.8 277.4 254.1 C278.4 254.5 279.5 254.8 280.5 255.1 C281.5 255.5 282.5 255.8 283.6 256.1 C284.6 256.5 285.6 256.8 286.7 257.1 C287.7 257.4 288.7 257.8 289.8 258.1 C290.8 258.4 291.8 258.7 292.8 259.1 C293.9 259.4 294.9 259.7 295.9 260.0 C297.0 260.4 298.0 260.7 299.0 261.0 C300.1 261.3 301.1 261.7 302.1 262.0 C303.1 262.3 304.7 262.8 305.2 263.0" fill="none" stroke="#f0402a" stroke-width="1.5" stroke-linejoin="round" stroke-linecap="round"/><path d="M187.8 204.0 C188.3 204.1 189.9 204.2 190.9 204.4 C192.0 204.6 193.0 204.9 194.1 205.2 C195.1 205.5 196.2 206.0 197.2 206.4 C198.2 206.9 199.3 207.5 200.3 208.0 C201.4 208.6 202.4 209.3 203.5 210.0 C204.5 210.7 205.6 211.4 206.6 212.2 C207.6 213.0 208.7 213.8 209.7 214.7 C210.8 215.5 211.8 216.4 212.9 217.3 C213.9 218.2 215.0 219.1 216.0 220.0 C217.0 221.0 218.1 221.9 219.1 222.8 C220.2 223.7 221.2 224.6 222.3 225.5 C223.3 226.4 224.4 227.2 225.4 228.0 C226.4 228.9 227.5 229.6 228.5 230.4 C229.6 231.1 230.6 231.9 231.7 232.5 C232.7 233.2 233.8 233.9 234.8 234.5 C235.8 235.1 236.9 235.7 237.9 236.3 C239.0 236.9 240.0 237.4 241.1 237.9 C242.1 238.4 243.2 238.9 244.2 239.4 C245.2 239.9 246.3 240.4 247.3 240.8 C248.4 241.3 249.4 241.7 250.5 242.1 C251.5 242.5 252.6 242.9 253.6 243.3 C254.6 243.7 255.7 244.1 256.7 244.5 C257.8 244.9 258.8 245.2 259.9 245.6 C260.9 246.0 262.0 246.4 263.0 246.7 C264.0 247.1 265.1 247.5 266.1 247.9 C267.2 248.2 268.2 248.6 269.3 249.0 C270.3 249.3 271.4 249.7 272.4 250.1 C273.4 250.5 274.5 250.8 275.5 251.2 C276.6 251.6 277.6 251.9 278.7 252.3 C279.7 252.7 280.8 253.0 281.8 253.4 C282.8 253.8 283.9 254.1 284.9 254.5 C286.0 254.9 287.0 255.2 288.1 255.6 C289.1 255.9 290.2 256.3 291.2 256.7 C292.2 257.0 293.3 257.4 294.3 257.7 C295.4 258.1 296.4 258.5 297.5 258.8 C298.5 259.2 299.6 259.5 300.6 259.9 C301.6 260.2 302.7 260.6 303.7 260.9 C304.8 261.3 305.8 261.6 306.9 262.0 C307.9 262.3 309.5 262.8 310.0 263.0" fill="none" stroke="#1765cf" stroke-width="1.5" stroke-linejoin="round" stroke-linecap="round"/><path d="M187.8 206.2 C188.3 206.2 189.9 206.3 190.9 206.5 C191.9 206.7 193.0 206.9 194.0 207.3 C195.0 207.7 196.1 208.1 197.1 208.7 C198.1 209.2 199.2 209.8 200.2 210.4 C201.2 211.1 202.3 211.8 203.3 212.6 C204.3 213.3 205.4 214.2 206.4 215.0 C207.4 215.8 208.4 216.7 209.5 217.7 C210.5 218.6 211.5 219.5 212.6 220.5 C213.6 221.4 214.6 222.4 215.7 223.3 C216.7 224.3 217.7 225.2 218.8 226.1 C219.8 227.0 220.8 227.9 221.9 228.6 C222.9 229.4 223.9 230.1 225.0 230.8 C226.0 231.4 227.0 232.0 228.1 232.6 C229.1 233.2 230.1 233.7 231.2 234.2 C232.2 234.7 233.2 235.2 234.3 235.7 C235.3 236.2 236.3 236.7 237.4 237.2 C238.4 237.7 239.4 238.2 240.5 238.7 C241.5 239.1 242.5 239.6 243.6 240.1 C244.6 240.5 245.6 241.0 246.6 241.4 C247.7 241.9 248.7 242.3 249.7 242.8 C250.8 243.2 251.8 243.7 252.8 244.1 C253.9 244.5 254.9 244.9 255.9 245.4 C257.0 245.8 258.0 246.2 259.0 246.6 C260.1 247.0 261.1 247.5 262.1 247.9 C263.2 248.3 264.2 248.7 265.2 249.1 C266.3 249.5 267.3 249.9 268.3 250.3 C269.4 250.7 270.4 251.1 271.4 251.5 C272.5 251.8 273.5 252.2 274.5 252.6 C275.6 253.0 276.6 253.4 277.6 253.8 C278.7 254.2 279.7 254.5 280.7 254.9 C281.8 255.3 282.8 255.7 283.8 256.1 C284.8 256.5 285.9 256.8 286.9 257.2 C287.9 257.6 289.0 258.0 290.0 258.4 C291.0 258.8 292.1 259.1 293.1 259.5 C294.1 259.9 295.2 260.3 296.2 260.7 C297.2 261.1 298.3 261.4 299.3 261.8 C300.3 262.2 301.9 262.8 302.4 263.0" fill="none" stroke="#16a085" stroke-width="1.5" stroke-linejoin="round" stroke-linecap="round"/><path d="M187.8 263.3 C188.3 262.2 189.9 259.0 190.9 256.8 C191.9 254.6 192.9 252.4 194.0 250.1 C195.0 247.9 196.0 245.7 197.1 243.6 C198.1 241.4 199.1 239.4 200.2 237.4 C201.2 235.5 202.2 233.6 203.2 232.0 C204.3 230.3 205.3 228.8 206.3 227.4 C207.4 226.1 208.4 224.9 209.4 223.7 C210.5 222.6 211.5 221.6 212.5 220.7 C213.5 219.7 214.6 218.8 215.6 217.9 C216.6 217.0 217.7 216.2 218.7 215.4 C219.7 214.6 220.8 213.8 221.8 213.0 C222.8 212.3 223.8 211.6 224.9 210.9 C225.9 210.3 226.9 209.7 228.0 209.1 C229.0 208.5 230.0 208.0 231.1 207.5 C232.1 207.1 233.1 206.6 234.1 206.3 C235.2 205.9 236.2 205.6 237.2 205.3 C238.3 205.0 239.3 204.8 240.3 204.7 C241.4 204.5 242.4 204.4 243.4 204.4 C244.4 204.3 245.5 204.3 246.5 204.4 C247.5 204.4 248.6 204.6 249.6 204.7 C250.6 204.9 251.6 205.2 252.7 205.5 C253.7 205.8 254.7 206.1 255.8 206.5 C256.8 206.9 257.8 207.4 258.9 208.0 C259.9 208.5 260.9 209.1 261.9 209.7 C263.0 210.4 264.0 211.1 265.0 211.9 C266.1 212.6 267.1 213.4 268.1 214.3 C269.2 215.2 270.2 216.1 271.2 217.0 C272.2 218.0 273.3 219.0 274.3 220.1 C275.3 221.2 276.4 222.3 277.4 223.4 C278.4 224.6 279.5 225.8 280.5 227.0 C281.5 228.3 282.5 229.6 283.6 230.9 C284.6 232.3 285.6 233.6 286.7 235.0 C287.7 236.5 288.7 237.9 289.8 239.4 C290.8 240.8 291.8 242.4 292.8 243.9 C293.9 245.4 294.9 247.0 295.9 248.5 C297.0 250.1 298.0 251.7 299.0 253.3 C300.1 254.9 301.1 256.5 302.1 258.1 C303.1 259.7 304.7 262.2 305.2 263.0" fill="none" stroke="#f0402a" stroke-width="1.5" stroke-linejoin="round" stroke-linecap="round"/><path d="M187.8 263.3 C188.3 262.0 189.9 258.3 190.9 255.7 C192.0 253.2 193.0 250.5 194.1 247.9 C195.1 245.3 196.2 242.7 197.2 240.1 C198.2 237.6 199.3 235.1 200.3 232.7 C201.4 230.3 202.4 227.9 203.5 225.8 C204.5 223.6 205.6 221.5 206.6 219.6 C207.6 217.7 208.7 215.9 209.7 214.3 C210.8 212.6 211.8 211.2 212.9 209.8 C213.9 208.5 215.0 207.3 216.0 206.3 C217.0 205.3 218.1 204.5 219.1 203.7 C220.2 203.0 221.2 202.5 222.3 202.0 C223.3 201.5 224.4 201.1 225.4 200.8 C226.4 200.5 227.5 200.3 228.5 200.2 C229.6 200.0 230.6 199.9 231.7 199.8 C232.7 199.7 233.8 199.7 234.8 199.6 C235.8 199.6 236.9 199.6 237.9 199.6 C239.0 199.6 240.0 199.7 241.1 199.8 C242.1 199.8 243.2 199.9 244.2 200.1 C245.2 200.2 246.3 200.4 247.3 200.6 C248.4 200.8 249.4 201.0 250.5 201.3 C251.5 201.5 252.6 201.8 253.6 202.2 C254.6 202.5 255.7 202.9 256.7 203.3 C257.8 203.7 258.8 204.1 259.9 204.6 C260.9 205.1 262.0 205.6 263.0 206.2 C264.0 206.8 265.1 207.4 266.1 208.0 C267.2 208.7 268.2 209.4 269.3 210.2 C270.3 210.9 271.4 211.7 272.4 212.5 C273.4 213.4 274.5 214.3 275.5 215.2 C276.6 216.2 277.6 217.1 278.7 218.2 C279.7 219.2 280.8 220.3 281.8 221.5 C282.8 222.6 283.9 223.8 284.9 225.1 C286.0 226.3 287.0 227.6 288.1 228.9 C289.1 230.3 290.2 231.7 291.2 233.1 C292.2 234.5 293.3 235.9 294.3 237.4 C295.4 238.9 296.4 240.4 297.5 242.0 C298.5 243.6 299.6 245.1 300.6 246.8 C301.6 248.4 302.7 250.1 303.7 251.8 C304.8 253.5 305.8 255.3 306.9 257.2 C307.9 259.0 309.5 262.0 310.0 263.0" fill="none" stroke="#1765cf" stroke-width="1.5" stroke-linejoin="round" stroke-linecap="round"/><path d="M187.8 263.3 C188.3 262.0 189.9 258.1 190.9 255.5 C191.9 252.9 193.0 250.4 194.0 247.9 C195.0 245.4 196.1 242.9 197.1 240.6 C198.1 238.2 199.2 235.9 200.2 233.8 C201.2 231.6 202.3 229.6 203.3 227.7 C204.3 225.8 205.4 224.0 206.4 222.4 C207.4 220.8 208.4 219.3 209.5 217.9 C210.5 216.6 211.5 215.3 212.6 214.2 C213.6 213.1 214.6 212.1 215.7 211.1 C216.7 210.2 217.7 209.4 218.8 208.7 C219.8 207.9 220.8 207.3 221.9 206.7 C222.9 206.1 223.9 205.6 225.0 205.1 C226.0 204.7 227.0 204.3 228.1 203.9 C229.1 203.6 230.1 203.3 231.2 203.0 C232.2 202.7 233.2 202.5 234.3 202.3 C235.3 202.1 236.3 202.0 237.4 201.9 C238.4 201.8 239.4 201.8 240.5 201.7 C241.5 201.7 242.5 201.8 243.6 201.9 C244.6 202.0 245.6 202.1 246.6 202.3 C247.7 202.5 248.7 202.7 249.7 203.0 C250.8 203.3 251.8 203.6 252.8 204.0 C253.9 204.4 254.9 204.8 255.9 205.3 C257.0 205.8 258.0 206.4 259.0 207.0 C260.1 207.6 261.1 208.3 262.1 209.0 C263.2 209.7 264.2 210.5 265.2 211.3 C266.3 212.2 267.3 213.1 268.3 214.0 C269.4 215.0 270.4 216.0 271.4 217.1 C272.5 218.2 273.5 219.4 274.5 220.6 C275.6 221.8 276.6 223.1 277.6 224.4 C278.7 225.8 279.7 227.2 280.7 228.7 C281.8 230.1 282.8 231.7 283.8 233.3 C284.8 234.9 285.9 236.6 286.9 238.3 C287.9 239.9 289.0 241.7 290.0 243.4 C291.0 245.1 292.1 246.9 293.1 248.6 C294.1 250.3 295.2 252.0 296.2 253.7 C297.2 255.3 298.3 257.0 299.3 258.5 C300.3 260.1 301.9 262.3 302.4 263.0" fill="none" stroke="#16a085" stroke-width="1.5" stroke-linejoin="round" stroke-linecap="round"/></g>
<g><line x1="345.50" y1="263.10" x2="480.40" y2="263.10" stroke="#d3d9f3" stroke-width="1"/><line x1="345.50" y1="191.40" x2="345.50" y2="263.10" stroke="#b3c0ec" stroke-width="1"/><line x1="480.40" y1="191.40" x2="480.40" y2="263.10" stroke="#8ea4e4" stroke-width="1"/><line x1="480.40" y1="263.10" x2="481.90" y2="263.10" stroke="#8ea4e4" stroke-width="0.8"/><text x="483.70" y="264.20" font-size="4.40" fill="#3a4060" class="t" textLength="1.88" lengthAdjust="spacingAndGlyphs">0</text><line x1="480.40" y1="252.86" x2="481.90" y2="252.86" stroke="#8ea4e4" stroke-width="0.8"/><text x="483.70" y="253.96" font-size="4.40" fill="#3a4060" class="t" textLength="3.77" lengthAdjust="spacingAndGlyphs">20</text><line x1="480.40" y1="242.61" x2="481.90" y2="242.61" stroke="#8ea4e4" stroke-width="0.8"/><text x="483.70" y="243.71" font-size="4.40" fill="#3a4060" class="t" textLength="3.77" lengthAdjust="spacingAndGlyphs">40</text><line x1="480.40" y1="232.37" x2="481.90" y2="232.37" stroke="#8ea4e4" stroke-width="0.8"/><text x="483.70" y="233.47" font-size="4.40" fill="#3a4060" class="t" textLength="3.77" lengthAdjust="spacingAndGlyphs">60</text><line x1="480.40" y1="222.13" x2="481.90" y2="222.13" stroke="#8ea4e4" stroke-width="0.8"/><text x="483.70" y="223.23" font-size="4.40" fill="#3a4060" class="t" textLength="3.77" lengthAdjust="spacingAndGlyphs">80</text><line x1="480.40" y1="211.89" x2="481.90" y2="211.89" stroke="#8ea4e4" stroke-width="0.8"/><text x="483.70" y="212.99" font-size="4.40" fill="#3a4060" class="t" textLength="5.65" lengthAdjust="spacingAndGlyphs">100</text><line x1="480.40" y1="201.64" x2="481.90" y2="201.64" stroke="#8ea4e4" stroke-width="0.8"/><text x="483.70" y="202.74" font-size="4.40" fill="#3a4060" class="t" textLength="5.65" lengthAdjust="spacingAndGlyphs">120</text><line x1="480.40" y1="191.40" x2="481.90" y2="191.40" stroke="#8ea4e4" stroke-width="0.8"/><text x="483.70" y="192.50" font-size="4.40" fill="#3a4060" class="t" textLength="5.65" lengthAdjust="spacingAndGlyphs">140</text><text x="340.42" y="264.20" font-size="4.40" fill="#3a4060" class="t" textLength="1.88" lengthAdjust="spacingAndGlyphs">0</text><text x="337.59" y="249.86" font-size="4.40" fill="#3a4060" class="t" textLength="4.71" lengthAdjust="spacingAndGlyphs">0.1</text><text x="337.59" y="235.52" font-size="4.40" fill="#3a4060" class="t" textLength="4.71" lengthAdjust="spacingAndGlyphs">0.2</text><text x="337.59" y="221.18" font-size="4.40" fill="#3a4060" class="t" textLength="4.71" lengthAdjust="spacingAndGlyphs">0.3</text><text x="337.59" y="206.84" font-size="4.40" fill="#3a4060" class="t" textLength="4.71" lengthAdjust="spacingAndGlyphs">0.4</text><text x="337.59" y="192.50" font-size="4.40" fill="#3a4060" class="t" textLength="4.71" lengthAdjust="spacingAndGlyphs">0.5</text><text x="344.96" y="269.70" font-size="4.40" fill="#3a4060" class="t" textLength="1.88" lengthAdjust="spacingAndGlyphs">0</text><text x="376.80" y="269.70" font-size="4.40" fill="#3a4060" class="t" textLength="5.65" lengthAdjust="spacingAndGlyphs">500</text><text x="409.58" y="269.70" font-size="4.40" fill="#3a4060" class="t" textLength="7.53" lengthAdjust="spacingAndGlyphs">1000</text><text x="443.31" y="269.70" font-size="4.40" fill="#3a4060" class="t" textLength="7.53" lengthAdjust="spacingAndGlyphs">1500</text><text x="477.03" y="269.70" font-size="4.40" fill="#3a4060" class="t" textLength="7.53" lengthAdjust="spacingAndGlyphs">2000</text><text x="448.50" y="202.40" font-size="6.4" fill="#363636" textLength="15.0" lengthAdjust="spacingAndGlyphs">MFC9</text><path d="M345.4 213.6 C345.9 213.7 347.5 214.0 348.5 214.3 C349.5 214.6 350.6 215.0 351.6 215.4 C352.6 215.8 353.6 216.3 354.7 216.8 C355.7 217.4 356.7 217.9 357.8 218.5 C358.8 219.1 359.8 219.7 360.9 220.3 C361.9 220.9 362.9 221.6 364.0 222.2 C365.0 222.9 366.0 223.5 367.0 224.2 C368.1 224.8 369.1 225.4 370.1 226.1 C371.2 226.7 372.2 227.3 373.2 227.8 C374.3 228.4 375.3 229.0 376.3 229.5 C377.4 230.1 378.4 230.6 379.4 231.1 C380.4 231.7 381.5 232.2 382.5 232.7 C383.5 233.2 384.6 233.7 385.6 234.2 C386.6 234.6 387.7 235.1 388.7 235.6 C389.7 236.1 390.8 236.5 391.8 237.0 C392.8 237.4 393.8 237.9 394.9 238.3 C395.9 238.8 396.9 239.2 398.0 239.6 C399.0 240.1 400.0 240.5 401.1 240.9 C402.1 241.3 403.1 241.7 404.2 242.2 C405.2 242.6 406.2 243.0 407.2 243.4 C408.3 243.8 409.3 244.2 410.3 244.6 C411.4 245.0 412.4 245.4 413.4 245.7 C414.5 246.1 415.5 246.5 416.5 246.9 C417.6 247.3 418.6 247.6 419.6 248.0 C420.6 248.4 421.7 248.7 422.7 249.1 C423.7 249.5 424.8 249.8 425.8 250.2 C426.8 250.5 427.9 250.9 428.9 251.2 C429.9 251.6 431.0 251.9 432.0 252.3 C433.0 252.6 434.0 253.0 435.1 253.3 C436.1 253.6 437.1 254.0 438.2 254.3 C439.2 254.6 440.2 255.0 441.3 255.3 C442.3 255.6 443.3 256.0 444.4 256.3 C445.4 256.6 446.4 256.9 447.4 257.3 C448.5 257.6 449.5 257.9 450.5 258.2 C451.6 258.6 452.6 258.9 453.6 259.2 C454.7 259.5 455.7 259.8 456.7 260.1 C457.8 260.5 458.8 260.8 459.8 261.1 C460.8 261.4 461.9 261.7 462.9 262.1 C463.9 262.4 465.5 262.8 466.0 263.0" fill="none" stroke="#d8d8d8" stroke-width="3.2" stroke-linejoin="round" stroke-linecap="round" transform="translate(-0.6,0.8)"/><path d="M345.4 208.9 C345.9 209.0 347.5 209.4 348.5 209.7 C349.5 210.1 350.6 210.5 351.6 211.0 C352.7 211.5 353.7 212.1 354.7 212.7 C355.8 213.3 356.8 214.0 357.8 214.7 C358.9 215.4 359.9 216.1 361.0 216.9 C362.0 217.6 363.0 218.4 364.1 219.2 C365.1 220.1 366.1 220.9 367.2 221.7 C368.2 222.5 369.3 223.4 370.3 224.2 C371.3 225.0 372.4 225.8 373.4 226.6 C374.4 227.4 375.5 228.2 376.5 229.0 C377.6 229.7 378.6 230.5 379.6 231.2 C380.7 231.9 381.7 232.6 382.7 233.3 C383.8 233.9 384.8 234.6 385.9 235.2 C386.9 235.9 387.9 236.5 389.0 237.1 C390.0 237.7 391.0 238.3 392.1 238.9 C393.1 239.4 394.2 240.0 395.2 240.5 C396.2 241.1 397.3 241.6 398.3 242.1 C399.3 242.6 400.4 243.1 401.4 243.6 C402.4 244.1 403.5 244.6 404.5 245.1 C405.6 245.5 406.6 246.0 407.6 246.4 C408.7 246.9 409.7 247.3 410.7 247.8 C411.8 248.2 412.8 248.6 413.9 249.0 C414.9 249.4 415.9 249.9 417.0 250.3 C418.0 250.7 419.0 251.1 420.1 251.5 C421.1 251.8 422.2 252.2 423.2 252.6 C424.2 253.0 425.3 253.4 426.3 253.8 C427.3 254.1 428.4 254.5 429.4 254.9 C430.5 255.3 431.5 255.6 432.5 256.0 C433.6 256.4 434.6 256.8 435.6 257.1 C436.7 257.5 437.7 257.9 438.8 258.3 C439.8 258.6 440.8 259.0 441.9 259.4 C442.9 259.8 443.9 260.2 445.0 260.6 C446.0 261.0 447.1 261.4 448.1 261.8 C449.1 262.2 450.7 262.8 451.2 263.0" fill="none" stroke="#d8d8d8" stroke-width="3.2" stroke-linejoin="round" stroke-linecap="round" transform="translate(-0.6,0.8)"/><path d="M345.4 207.1 C345.9 207.3 347.5 207.7 348.5 208.1 C349.5 208.5 350.6 209.0 351.6 209.4 C352.6 209.9 353.7 210.5 354.7 211.1 C355.7 211.7 356.8 212.3 357.8 213.0 C358.8 213.6 359.9 214.3 360.9 215.1 C361.9 215.8 362.9 216.5 364.0 217.3 C365.0 218.1 366.0 218.9 367.1 219.7 C368.1 220.5 369.1 221.3 370.2 222.1 C371.2 222.9 372.2 223.7 373.3 224.5 C374.3 225.3 375.3 226.1 376.4 226.9 C377.4 227.7 378.4 228.5 379.5 229.3 C380.5 230.0 381.5 230.8 382.6 231.5 C383.6 232.2 384.6 232.9 385.7 233.6 C386.7 234.3 387.7 235.0 388.8 235.6 C389.8 236.3 390.8 236.9 391.9 237.5 C392.9 238.1 393.9 238.6 395.0 239.2 C396.0 239.8 397.0 240.3 398.0 240.8 C399.1 241.3 400.1 241.8 401.1 242.3 C402.2 242.8 403.2 243.3 404.2 243.8 C405.3 244.3 406.3 244.7 407.3 245.2 C408.4 245.6 409.4 246.1 410.4 246.5 C411.5 246.9 412.5 247.4 413.5 247.8 C414.6 248.2 415.6 248.6 416.6 249.1 C417.7 249.5 418.7 249.9 419.7 250.3 C420.8 250.7 421.8 251.1 422.8 251.5 C423.9 251.9 424.9 252.3 425.9 252.7 C427.0 253.1 428.0 253.5 429.0 253.9 C430.1 254.3 431.1 254.7 432.1 255.1 C433.1 255.5 434.2 255.9 435.2 256.3 C436.2 256.7 437.3 257.2 438.3 257.6 C439.3 258.0 440.4 258.4 441.4 258.9 C442.4 259.3 443.5 259.7 444.5 260.2 C445.5 260.6 446.6 261.1 447.6 261.6 C448.6 262.0 450.2 262.8 450.7 263.0" fill="none" stroke="#d8d8d8" stroke-width="3.2" stroke-linejoin="round" stroke-linecap="round" transform="translate(-0.6,0.8)"/><path d="M345.4 207.1 C345.9 207.3 347.5 207.7 348.5 208.1 C349.5 208.5 350.6 209.0 351.6 209.4 C352.6 209.9 353.7 210.5 354.7 211.1 C355.7 211.7 356.8 212.3 357.8 213.0 C358.8 213.6 359.9 214.3 360.9 215.1 C361.9 215.8 362.9 216.5 364.0 217.3 C365.0 218.1 366.0 218.9 367.1 219.7 C368.1 220.5 369.1 221.3 370.2 222.1 C371.2 222.9 372.2 223.7 373.3 224.5 C374.3 225.3 375.3 226.1 376.4 226.9 C377.4 227.7 378.4 228.5 379.5 229.3 C380.5 230.0 381.5 230.8 382.6 231.5 C383.6 232.2 384.6 232.9 385.7 233.6 C386.7 234.3 387.7 235.0 388.8 235.6 C389.8 236.3 390.8 236.9 391.9 237.5 C392.9 238.1 393.9 238.6 395.0 239.2 C396.0 239.8 397.0 240.3 398.0 240.8 C399.1 241.3 400.1 241.8 401.1 242.3 C402.2 242.8 403.2 243.3 404.2 243.8 C405.3 244.3 406.3 244.7 407.3 245.2 C408.4 245.6 409.4 246.1 410.4 246.5 C411.5 246.9 412.5 247.4 413.5 247.8 C414.6 248.2 415.6 248.6 416.6 249.1 C417.7 249.5 418.7 249.9 419.7 250.3 C420.8 250.7 421.8 251.1 422.8 251.5 C423.9 251.9 424.9 252.3 425.9 252.7 C427.0 253.1 428.0 253.5 429.0 253.9 C430.1 254.3 431.1 254.7 432.1 255.1 C433.1 255.5 434.2 255.9 435.2 256.3 C436.2 256.7 437.3 257.2 438.3 257.6 C439.3 258.0 440.4 258.4 441.4 258.9 C442.4 259.3 443.5 259.7 444.5 260.2 C445.5 260.6 446.6 261.1 447.6 261.6 C448.6 262.0 450.2 262.8 450.7 263.0" fill="none" stroke="#f0402a" stroke-width="1.5" stroke-linejoin="round" stroke-linecap="round"/><path d="M345.4 208.9 C345.9 209.0 347.5 209.4 348.5 209.7 C349.5 210.1 350.6 210.5 351.6 211.0 C352.7 211.5 353.7 212.1 354.7 212.7 C355.8 213.3 356.8 214.0 357.8 214.7 C358.9 215.4 359.9 216.1 361.0 216.9 C362.0 217.6 363.0 218.4 364.1 219.2 C365.1 220.1 366.1 220.9 367.2 221.7 C368.2 222.5 369.3 223.4 370.3 224.2 C371.3 225.0 372.4 225.8 373.4 226.6 C374.4 227.4 375.5 228.2 376.5 229.0 C377.6 229.7 378.6 230.5 379.6 231.2 C380.7 231.9 381.7 232.6 382.7 233.3 C383.8 233.9 384.8 234.6 385.9 235.2 C386.9 235.9 387.9 236.5 389.0 237.1 C390.0 237.7 391.0 238.3 392.1 238.9 C393.1 239.4 394.2 240.0 395.2 240.5 C396.2 241.1 397.3 241.6 398.3 242.1 C399.3 242.6 400.4 243.1 401.4 243.6 C402.4 244.1 403.5 244.6 404.5 245.1 C405.6 245.5 406.6 246.0 407.6 246.4 C408.7 246.9 409.7 247.3 410.7 247.8 C411.8 248.2 412.8 248.6 413.9 249.0 C414.9 249.4 415.9 249.9 417.0 250.3 C418.0 250.7 419.0 251.1 420.1 251.5 C421.1 251.8 422.2 252.2 423.2 252.6 C424.2 253.0 425.3 253.4 426.3 253.8 C427.3 254.1 428.4 254.5 429.4 254.9 C430.5 255.3 431.5 255.6 432.5 256.0 C433.6 256.4 434.6 256.8 435.6 257.1 C436.7 257.5 437.7 257.9 438.8 258.3 C439.8 258.6 440.8 259.0 441.9 259.4 C442.9 259.8 443.9 260.2 445.0 260.6 C446.0 261.0 447.1 261.4 448.1 261.8 C449.1 262.2 450.7 262.8 451.2 263.0" fill="none" stroke="#1765cf" stroke-width="1.5" stroke-linejoin="round" stroke-linecap="round"/><path d="M345.4 213.6 C345.9 213.7 347.5 214.0 348.5 214.3 C349.5 214.6 350.6 215.0 351.6 215.4 C352.6 215.8 353.6 216.3 354.7 216.8 C355.7 217.4 356.7 217.9 357.8 218.5 C358.8 219.1 359.8 219.7 360.9 220.3 C361.9 220.9 362.9 221.6 364.0 222.2 C365.0 222.9 366.0 223.5 367.0 224.2 C368.1 224.8 369.1 225.4 370.1 226.1 C371.2 226.7 372.2 227.3 373.2 227.8 C374.3 228.4 375.3 229.0 376.3 229.5 C377.4 230.1 378.4 230.6 379.4 231.1 C380.4 231.7 381.5 232.2 382.5 232.7 C383.5 233.2 384.6 233.7 385.6 234.2 C386.6 234.6 387.7 235.1 388.7 235.6 C389.7 236.1 390.8 236.5 391.8 237.0 C392.8 237.4 393.8 237.9 394.9 238.3 C395.9 238.8 396.9 239.2 398.0 239.6 C399.0 240.1 400.0 240.5 401.1 240.9 C402.1 241.3 403.1 241.7 404.2 242.2 C405.2 242.6 406.2 243.0 407.2 243.4 C408.3 243.8 409.3 244.2 410.3 244.6 C411.4 245.0 412.4 245.4 413.4 245.7 C414.5 246.1 415.5 246.5 416.5 246.9 C417.6 247.3 418.6 247.6 419.6 248.0 C420.6 248.4 421.7 248.7 422.7 249.1 C423.7 249.5 424.8 249.8 425.8 250.2 C426.8 250.5 427.9 250.9 428.9 251.2 C429.9 251.6 431.0 251.9 432.0 252.3 C433.0 252.6 434.0 253.0 435.1 253.3 C436.1 253.6 437.1 254.0 438.2 254.3 C439.2 254.6 440.2 255.0 441.3 255.3 C442.3 255.6 443.3 256.0 444.4 256.3 C445.4 256.6 446.4 256.9 447.4 257.3 C448.5 257.6 449.5 257.9 450.5 258.2 C451.6 258.6 452.6 258.9 453.6 259.2 C454.7 259.5 455.7 259.8 456.7 260.1 C457.8 260.5 458.8 260.8 459.8 261.1 C460.8 261.4 461.9 261.7 462.9 262.1 C463.9 262.4 465.5 262.8 466.0 263.0" fill="none" stroke="#16a085" stroke-width="1.5" stroke-linejoin="round" stroke-linecap="round"/><path d="M345.4 263.0 C345.9 261.8 347.5 258.1 348.5 255.6 C349.5 253.0 350.6 250.4 351.6 247.9 C352.6 245.3 353.7 242.7 354.7 240.2 C355.7 237.7 356.8 235.2 357.8 232.8 C358.8 230.4 359.9 228.1 360.9 226.0 C361.9 223.8 362.9 221.7 364.0 219.9 C365.0 218.0 366.0 216.3 367.1 214.8 C368.1 213.3 369.1 211.9 370.2 210.7 C371.2 209.5 372.2 208.5 373.3 207.6 C374.3 206.7 375.3 206.0 376.4 205.3 C377.4 204.6 378.4 204.1 379.5 203.6 C380.5 203.2 381.5 202.8 382.6 202.5 C383.6 202.2 384.6 201.9 385.7 201.7 C386.7 201.5 387.7 201.4 388.8 201.3 C389.8 201.2 390.8 201.2 391.9 201.2 C392.9 201.2 393.9 201.3 395.0 201.3 C396.0 201.4 397.0 201.5 398.0 201.7 C399.1 201.9 400.1 202.1 401.1 202.3 C402.2 202.6 403.2 202.9 404.2 203.2 C405.3 203.6 406.3 204.0 407.3 204.4 C408.4 204.9 409.4 205.4 410.4 206.0 C411.5 206.5 412.5 207.2 413.5 207.9 C414.6 208.6 415.6 209.4 416.6 210.2 C417.7 211.0 418.7 211.9 419.7 212.9 C420.8 213.9 421.8 215.0 422.8 216.1 C423.9 217.3 424.9 218.5 425.9 219.8 C427.0 221.1 428.0 222.5 429.0 224.0 C430.1 225.5 431.1 227.0 432.1 228.7 C433.1 230.4 434.2 232.1 435.2 234.0 C436.2 235.8 437.3 237.7 438.3 239.7 C439.3 241.6 440.4 243.6 441.4 245.6 C442.4 247.6 443.5 249.7 444.5 251.6 C445.5 253.6 446.6 255.6 447.6 257.5 C448.6 259.4 450.2 262.1 450.7 263.0" fill="none" stroke="#f0402a" stroke-width="1.5" stroke-linejoin="round" stroke-linecap="round"/><path d="M345.4 263.0 C345.9 261.8 347.5 258.4 348.5 256.0 C349.5 253.5 350.6 250.8 351.6 248.3 C352.7 245.7 353.7 243.0 354.7 240.7 C355.8 238.3 356.8 236.0 357.8 234.0 C358.9 231.9 359.9 230.1 361.0 228.4 C362.0 226.7 363.0 225.2 364.1 223.8 C365.1 222.4 366.1 221.0 367.2 219.8 C368.2 218.5 369.3 217.4 370.3 216.3 C371.3 215.2 372.4 214.2 373.4 213.3 C374.4 212.4 375.5 211.6 376.5 210.9 C377.6 210.1 378.6 209.5 379.6 208.9 C380.7 208.3 381.7 207.8 382.7 207.4 C383.8 206.9 384.8 206.6 385.9 206.3 C386.9 206.0 387.9 205.7 389.0 205.6 C390.0 205.4 391.0 205.3 392.1 205.2 C393.1 205.2 394.2 205.2 395.2 205.2 C396.2 205.3 397.3 205.4 398.3 205.5 C399.3 205.7 400.4 205.9 401.4 206.2 C402.4 206.5 403.5 206.8 404.5 207.2 C405.6 207.5 406.6 208.0 407.6 208.5 C408.7 209.0 409.7 209.5 410.7 210.1 C411.8 210.7 412.8 211.4 413.9 212.1 C414.9 212.8 415.9 213.6 417.0 214.5 C418.0 215.3 419.0 216.2 420.1 217.2 C421.1 218.2 422.2 219.3 423.2 220.4 C424.2 221.5 425.3 222.7 426.3 223.9 C427.3 225.1 428.4 226.5 429.4 227.8 C430.5 229.2 431.5 230.7 432.5 232.2 C433.6 233.7 434.6 235.3 435.6 236.9 C436.7 238.6 437.7 240.2 438.8 242.0 C439.8 243.7 440.8 245.4 441.9 247.2 C442.9 248.9 443.9 250.7 445.0 252.5 C446.0 254.2 447.1 256.0 448.1 257.8 C449.1 259.5 450.7 262.1 451.2 263.0" fill="none" stroke="#1765cf" stroke-width="1.5" stroke-linejoin="round" stroke-linecap="round"/><path d="M345.4 263.0 C345.9 261.8 347.5 258.1 348.5 255.7 C349.5 253.3 350.6 251.0 351.6 248.8 C352.6 246.5 353.6 244.4 354.7 242.2 C355.7 240.1 356.7 238.0 357.8 235.9 C358.8 233.9 359.8 231.9 360.9 229.9 C361.9 227.9 362.9 226.0 364.0 224.2 C365.0 222.4 366.0 220.6 367.0 219.1 C368.1 217.5 369.1 216.0 370.1 214.7 C371.2 213.4 372.2 212.2 373.2 211.1 C374.3 210.0 375.3 209.0 376.3 208.1 C377.4 207.1 378.4 206.3 379.4 205.6 C380.4 204.9 381.5 204.2 382.5 203.6 C383.5 203.0 384.6 202.5 385.6 202.1 C386.6 201.6 387.7 201.2 388.7 200.8 C389.7 200.4 390.8 200.1 391.8 199.8 C392.8 199.6 393.8 199.4 394.9 199.2 C395.9 199.0 396.9 198.9 398.0 198.9 C399.0 198.8 400.0 198.8 401.1 198.8 C402.1 198.9 403.1 199.0 404.2 199.1 C405.2 199.2 406.2 199.4 407.2 199.7 C408.3 199.9 409.3 200.2 410.3 200.5 C411.4 200.9 412.4 201.2 413.4 201.7 C414.5 202.1 415.5 202.6 416.5 203.1 C417.6 203.6 418.6 204.2 419.6 204.8 C420.6 205.4 421.7 206.0 422.7 206.7 C423.7 207.4 424.8 208.1 425.8 208.9 C426.8 209.7 427.9 210.5 428.9 211.3 C429.9 212.2 431.0 213.0 432.0 214.0 C433.0 214.9 434.0 215.9 435.1 216.8 C436.1 217.8 437.1 218.9 438.2 219.9 C439.2 221.0 440.2 222.1 441.3 223.2 C442.3 224.4 443.3 225.5 444.4 226.7 C445.4 227.9 446.4 229.2 447.4 230.5 C448.5 231.8 449.5 233.1 450.5 234.5 C451.6 235.9 452.6 237.4 453.6 239.0 C454.7 240.5 455.7 242.2 456.7 243.9 C457.8 245.7 458.8 247.5 459.8 249.5 C460.8 251.5 461.9 253.6 462.9 255.8 C463.9 258.1 465.5 261.8 466.0 263.0" fill="none" stroke="#16a085" stroke-width="1.5" stroke-linejoin="round" stroke-linecap="round"/></g>
<text transform="translate(13.0,141.0) rotate(-90)" font-size="8.4" fill="#262626" text-anchor="middle" textLength="38.6" lengthAdjust="spacingAndGlyphs">Voltage (V)</text>
<text transform="translate(494.8,116.2) rotate(90)" font-size="8.4" fill="#262626" textLength="23.3" lengthAdjust="spacingAndGlyphs">mW m</text>
<text transform="translate(494.8,116.2) rotate(90)" x="24.0" y="-3.3" font-size="5" fill="#262626">-3</text>
<text x="198.3" y="287.8" font-size="8.0" fill="#262626" textLength="56.5" lengthAdjust="spacingAndGlyphs">Current density</text>
<text x="257.0" y="287.8" font-size="8.0" fill="#262626" textLength="23.6" lengthAdjust="spacingAndGlyphs">(mA m</text>
<text x="281.2" y="284.0" font-size="5" fill="#262626">-3</text>
<text x="286.0" y="287.9" font-size="8.0" fill="#262626">)</text>
<line x1="497.2" y1="18.80" x2="510.8" y2="18.80" stroke="#f53a3a" stroke-width="1.5"/>
<text x="513.4" y="20.90" font-size="8.8" fill="#3c3c3c" textLength="31.9" lengthAdjust="spacingAndGlyphs">Feeding 1</text>
<line x1="497.2" y1="27.00" x2="510.8" y2="27.00" stroke="#3f84c8" stroke-width="1.5"/>
<text x="513.4" y="29.60" font-size="8.8" fill="#3c3c3c" textLength="31.9" lengthAdjust="spacingAndGlyphs">Feeding 3</text>
<line x1="497.2" y1="35.80" x2="510.8" y2="35.80" stroke="#3db862" stroke-width="1.5"/>
<text x="513.4" y="38.00" font-size="8.8" fill="#3c3c3c" textLength="31.9" lengthAdjust="spacingAndGlyphs">Feeding 4</text>
<line x1="497.2" y1="43.20" x2="510.8" y2="43.20" stroke="#7636a6" stroke-width="1.5"/>
<text x="513.4" y="46.10" font-size="8.8" fill="#3c3c3c" textLength="31.9" lengthAdjust="spacingAndGlyphs">Feeding 5</text>
</svg></body></html>
